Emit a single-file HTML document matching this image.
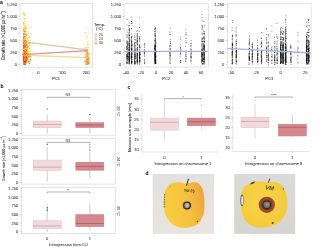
<!DOCTYPE html>
<html><head><meta charset="utf-8"><style>
html,body{margin:0;padding:0;background:#fff;width:312px;height:247px;overflow:hidden}
svg{display:block;font-family:"Liberation Sans",sans-serif;will-change:transform}
</style></head><body><svg width="312" height="247" viewBox="0 0 312 247" font-family="Liberation Sans, sans-serif"><text x="0" y="1.8" font-size="5" font-weight="bold" fill="#000" dominant-baseline="central">a</text>
<rect x="20.00" y="3.40" width="72.30" height="63.80" fill="none" stroke="#d2d2d2" stroke-width="0.6" />
<line x1="18.60" y1="64.80" x2="20.00" y2="64.80" stroke="#999" stroke-width="0.45" />
<text x="17.00" y="64.80" font-size="4.1" text-anchor="end" dominant-baseline="central" fill="#333" stroke="#333" stroke-width="0.03" >0</text>
<line x1="18.60" y1="52.70" x2="20.00" y2="52.70" stroke="#999" stroke-width="0.45" />
<text x="17.00" y="52.70" font-size="4.1" text-anchor="end" dominant-baseline="central" fill="#333" stroke="#333" stroke-width="0.03" >250</text>
<line x1="18.60" y1="40.60" x2="20.00" y2="40.60" stroke="#999" stroke-width="0.45" />
<text x="17.00" y="40.60" font-size="4.1" text-anchor="end" dominant-baseline="central" fill="#333" stroke="#333" stroke-width="0.03" >500</text>
<line x1="18.60" y1="28.50" x2="20.00" y2="28.50" stroke="#999" stroke-width="0.45" />
<text x="17.00" y="28.50" font-size="4.1" text-anchor="end" dominant-baseline="central" fill="#333" stroke="#333" stroke-width="0.03" >750</text>
<line x1="18.60" y1="16.40" x2="20.00" y2="16.40" stroke="#999" stroke-width="0.45" />
<text x="17.00" y="16.40" font-size="4.1" text-anchor="end" dominant-baseline="central" fill="#333" stroke="#333" stroke-width="0.03" >1,000</text>
<line x1="18.60" y1="4.30" x2="20.00" y2="4.30" stroke="#999" stroke-width="0.45" />
<text x="17.00" y="4.30" font-size="4.1" text-anchor="end" dominant-baseline="central" fill="#333" stroke="#333" stroke-width="0.03" >1,250</text>
<line x1="38.50" y1="67.20" x2="38.50" y2="68.50" stroke="#999" stroke-width="0.45" />
<text x="38.50" y="72.70" font-size="4.1" text-anchor="middle" dominant-baseline="central" fill="#333" stroke="#333" stroke-width="0.03" >0</text>
<line x1="62.30" y1="67.20" x2="62.30" y2="68.50" stroke="#999" stroke-width="0.45" />
<text x="62.30" y="72.70" font-size="4.1" text-anchor="middle" dominant-baseline="central" fill="#333" stroke="#333" stroke-width="0.03" >100</text>
<line x1="86.10" y1="67.20" x2="86.10" y2="68.50" stroke="#999" stroke-width="0.45" />
<text x="86.10" y="72.70" font-size="4.1" text-anchor="middle" dominant-baseline="central" fill="#333" stroke="#333" stroke-width="0.03" >200</text>
<text x="56.15" y="78.60" font-size="4.1" text-anchor="middle" dominant-baseline="central" fill="#222" stroke="#222" stroke-width="0.03" >PC1</text>
<text transform="translate(3.1,35.6) rotate(-90)" textLength="49" lengthAdjust="spacingAndGlyphs" font-size="4.5" text-anchor="middle" dominant-baseline="central" fill="#222" stroke="#222" stroke-width="0.06">Growth rate (×1,000 μs hr<tspan baseline-shift="super" font-size="2.6">−1</tspan>)</text>
<path d="M24.4 55.1h0.9v0.9h-0.9zM30.0 56.3h0.9v0.9h-0.9zM30.0 47.4h0.9v0.9h-0.9zM25.4 46.3h0.9v0.9h-0.9zM23.0 43.0h0.9v0.9h-0.9zM28.3 51.2h0.9v0.9h-0.9zM23.6 59.3h0.9v0.9h-0.9zM26.6 38.5h0.9v0.9h-0.9zM22.9 43.5h0.9v0.9h-0.9zM24.1 44.3h0.9v0.9h-0.9zM23.3 37.5h0.9v0.9h-0.9zM25.3 21.4h0.9v0.9h-0.9zM27.9 52.4h0.9v0.9h-0.9zM26.8 49.0h0.9v0.9h-0.9zM23.2 48.7h0.9v0.9h-0.9zM25.3 43.5h0.9v0.9h-0.9zM30.5 56.3h0.9v0.9h-0.9zM24.5 43.8h0.9v0.9h-0.9zM23.7 60.3h0.9v0.9h-0.9zM26.1 46.5h0.9v0.9h-0.9zM24.3 50.2h0.9v0.9h-0.9zM26.2 56.6h0.9v0.9h-0.9zM26.2 27.3h0.9v0.9h-0.9zM28.7 43.8h0.9v0.9h-0.9zM25.2 61.0h0.9v0.9h-0.9zM24.8 53.4h0.9v0.9h-0.9zM23.3 46.7h0.9v0.9h-0.9zM24.2 46.5h0.9v0.9h-0.9zM25.2 41.4h0.9v0.9h-0.9zM29.2 42.9h0.9v0.9h-0.9zM23.3 57.3h0.9v0.9h-0.9zM30.4 50.1h0.9v0.9h-0.9zM27.9 43.1h0.9v0.9h-0.9zM24.9 64.1h0.9v0.9h-0.9zM23.5 49.9h0.9v0.9h-0.9zM22.8 52.4h0.9v0.9h-0.9zM23.1 53.1h0.9v0.9h-0.9zM23.2 38.2h0.9v0.9h-0.9zM29.3 27.2h0.9v0.9h-0.9zM23.6 41.1h0.9v0.9h-0.9zM23.6 41.1h0.9v0.9h-0.9zM23.8 43.8h0.9v0.9h-0.9zM26.5 23.8h0.9v0.9h-0.9zM23.0 37.2h0.9v0.9h-0.9zM24.1 52.5h0.9v0.9h-0.9zM29.2 41.4h0.9v0.9h-0.9zM23.5 54.6h0.9v0.9h-0.9zM27.4 49.2h0.9v0.9h-0.9zM23.3 14.5h0.9v0.9h-0.9zM23.4 41.5h0.9v0.9h-0.9zM28.2 57.0h0.9v0.9h-0.9zM24.5 53.6h0.9v0.9h-0.9zM23.2 44.6h0.9v0.9h-0.9zM24.0 62.2h0.9v0.9h-0.9zM25.8 53.5h0.9v0.9h-0.9zM23.8 42.4h0.9v0.9h-0.9zM28.2 52.7h0.9v0.9h-0.9zM30.4 52.9h0.9v0.9h-0.9zM23.2 45.8h0.9v0.9h-0.9zM24.0 42.4h0.9v0.9h-0.9zM23.4 38.0h0.9v0.9h-0.9zM25.2 46.5h0.9v0.9h-0.9zM26.6 57.7h0.9v0.9h-0.9zM25.1 30.6h0.9v0.9h-0.9zM23.4 52.8h0.9v0.9h-0.9zM23.6 35.9h0.9v0.9h-0.9zM25.2 42.4h0.9v0.9h-0.9zM24.5 61.0h0.9v0.9h-0.9zM25.4 58.2h0.9v0.9h-0.9zM28.2 53.7h0.9v0.9h-0.9zM26.6 43.3h0.9v0.9h-0.9zM22.8 58.9h0.9v0.9h-0.9zM24.1 55.2h0.9v0.9h-0.9zM24.3 54.8h0.9v0.9h-0.9zM30.5 54.5h0.9v0.9h-0.9zM23.0 43.8h0.9v0.9h-0.9zM23.1 59.8h0.9v0.9h-0.9zM27.8 62.4h0.9v0.9h-0.9zM23.7 45.4h0.9v0.9h-0.9zM23.0 37.9h0.9v0.9h-0.9zM30.5 50.7h0.9v0.9h-0.9zM24.9 45.8h0.9v0.9h-0.9zM25.9 37.8h0.9v0.9h-0.9zM25.3 44.6h0.9v0.9h-0.9zM26.3 40.2h0.9v0.9h-0.9zM25.8 49.5h0.9v0.9h-0.9zM25.4 62.4h0.9v0.9h-0.9zM24.9 61.2h0.9v0.9h-0.9zM23.6 33.1h0.9v0.9h-0.9zM24.1 47.6h0.9v0.9h-0.9zM25.7 49.0h0.9v0.9h-0.9zM24.4 50.5h0.9v0.9h-0.9zM25.2 29.1h0.9v0.9h-0.9zM24.7 28.3h0.9v0.9h-0.9zM23.4 48.7h0.9v0.9h-0.9zM30.5 54.9h0.9v0.9h-0.9zM25.0 57.0h0.9v0.9h-0.9zM23.6 55.9h0.9v0.9h-0.9zM24.8 54.7h0.9v0.9h-0.9zM23.9 46.3h0.9v0.9h-0.9zM24.9 50.7h0.9v0.9h-0.9zM25.9 42.0h0.9v0.9h-0.9zM24.9 47.7h0.9v0.9h-0.9zM25.2 45.5h0.9v0.9h-0.9zM23.5 28.8h0.9v0.9h-0.9zM24.1 55.2h0.9v0.9h-0.9zM23.3 59.8h0.9v0.9h-0.9zM24.0 27.0h0.9v0.9h-0.9zM23.7 39.4h0.9v0.9h-0.9zM23.6 12.3h0.9v0.9h-0.9zM28.8 40.3h0.9v0.9h-0.9zM24.2 14.3h0.9v0.9h-0.9zM23.4 48.6h0.9v0.9h-0.9zM25.8 51.4h0.9v0.9h-0.9zM24.7 43.6h0.9v0.9h-0.9zM25.7 58.2h0.9v0.9h-0.9zM26.6 58.0h0.9v0.9h-0.9zM22.7 54.5h0.9v0.9h-0.9zM27.7 54.7h0.9v0.9h-0.9zM22.9 50.6h0.9v0.9h-0.9zM22.9 48.0h0.9v0.9h-0.9zM23.2 41.1h0.9v0.9h-0.9zM25.4 40.7h0.9v0.9h-0.9zM24.6 55.5h0.9v0.9h-0.9zM25.5 59.4h0.9v0.9h-0.9zM24.9 54.2h0.9v0.9h-0.9zM23.7 53.3h0.9v0.9h-0.9zM24.7 45.1h0.9v0.9h-0.9zM29.2 52.2h0.9v0.9h-0.9zM24.5 53.8h0.9v0.9h-0.9zM30.3 34.3h0.9v0.9h-0.9zM23.2 48.0h0.9v0.9h-0.9zM26.7 56.0h0.9v0.9h-0.9zM23.7 54.9h0.9v0.9h-0.9zM27.0 55.1h0.9v0.9h-0.9zM24.1 30.6h0.9v0.9h-0.9zM23.9 47.9h0.9v0.9h-0.9zM26.5 57.1h0.9v0.9h-0.9zM29.1 59.6h0.9v0.9h-0.9zM25.8 56.6h0.9v0.9h-0.9zM26.4 60.5h0.9v0.9h-0.9zM26.1 50.1h0.9v0.9h-0.9zM29.3 51.0h0.9v0.9h-0.9zM24.5 61.2h0.9v0.9h-0.9zM23.0 40.5h0.9v0.9h-0.9zM24.5 25.1h0.9v0.9h-0.9zM23.0 53.9h0.9v0.9h-0.9zM25.2 58.8h0.9v0.9h-0.9zM24.7 62.1h0.9v0.9h-0.9zM24.7 39.1h0.9v0.9h-0.9zM23.1 47.9h0.9v0.9h-0.9zM23.8 61.7h0.9v0.9h-0.9zM28.8 25.4h0.9v0.9h-0.9zM25.4 13.7h0.9v0.9h-0.9zM28.0 58.7h0.9v0.9h-0.9zM24.3 56.6h0.9v0.9h-0.9zM23.5 53.5h0.9v0.9h-0.9zM30.3 45.9h0.9v0.9h-0.9zM23.9 22.3h0.9v0.9h-0.9zM23.9 12.5h0.9v0.9h-0.9zM29.2 49.3h0.9v0.9h-0.9zM22.8 45.4h0.9v0.9h-0.9zM24.8 44.8h0.9v0.9h-0.9zM25.3 63.6h0.9v0.9h-0.9zM26.8 47.7h0.9v0.9h-0.9zM27.2 52.4h0.9v0.9h-0.9zM28.3 20.6h0.9v0.9h-0.9zM24.1 40.0h0.9v0.9h-0.9zM26.5 54.3h0.9v0.9h-0.9zM24.6 51.1h0.9v0.9h-0.9zM23.5 27.5h0.9v0.9h-0.9zM23.8 59.6h0.9v0.9h-0.9zM23.3 48.3h0.9v0.9h-0.9zM24.5 56.5h0.9v0.9h-0.9zM23.9 51.6h0.9v0.9h-0.9zM24.7 51.8h0.9v0.9h-0.9zM24.1 36.2h0.9v0.9h-0.9zM22.7 51.8h0.9v0.9h-0.9zM27.8 55.9h0.9v0.9h-0.9zM25.8 47.5h0.9v0.9h-0.9zM23.1 33.8h0.9v0.9h-0.9zM23.5 47.5h0.9v0.9h-0.9zM24.7 58.6h0.9v0.9h-0.9zM23.8 58.2h0.9v0.9h-0.9zM25.9 51.7h0.9v0.9h-0.9zM24.4 43.1h0.9v0.9h-0.9zM25.2 23.0h0.9v0.9h-0.9zM26.1 60.7h0.9v0.9h-0.9zM24.1 51.0h0.9v0.9h-0.9zM27.3 54.0h0.9v0.9h-0.9zM28.1 37.3h0.9v0.9h-0.9zM23.4 55.9h0.9v0.9h-0.9zM23.0 31.2h0.9v0.9h-0.9zM23.5 35.5h0.9v0.9h-0.9zM24.1 30.6h0.9v0.9h-0.9zM23.0 31.0h0.9v0.9h-0.9zM25.0 48.9h0.9v0.9h-0.9zM23.6 45.0h0.9v0.9h-0.9zM25.7 34.8h0.9v0.9h-0.9zM25.1 45.1h0.9v0.9h-0.9zM23.3 49.1h0.9v0.9h-0.9zM24.6 44.2h0.9v0.9h-0.9zM25.1 62.7h0.9v0.9h-0.9zM23.3 61.0h0.9v0.9h-0.9zM26.9 44.2h0.9v0.9h-0.9zM25.2 51.3h0.9v0.9h-0.9zM23.4 56.6h0.9v0.9h-0.9zM23.4 62.1h0.9v0.9h-0.9zM24.2 49.6h0.9v0.9h-0.9zM29.2 53.7h0.9v0.9h-0.9zM24.7 38.2h0.9v0.9h-0.9zM24.8 38.6h0.9v0.9h-0.9zM27.0 52.2h0.9v0.9h-0.9zM30.5 21.0h0.9v0.9h-0.9zM23.1 47.8h0.9v0.9h-0.9zM23.5 53.0h0.9v0.9h-0.9zM26.7 45.5h0.9v0.9h-0.9zM24.9 58.6h0.9v0.9h-0.9zM26.6 37.4h0.9v0.9h-0.9zM25.9 52.8h0.9v0.9h-0.9zM24.8 49.1h0.9v0.9h-0.9zM24.0 58.6h0.9v0.9h-0.9zM24.0 54.6h0.9v0.9h-0.9zM25.2 47.1h0.9v0.9h-0.9zM23.5 46.6h0.9v0.9h-0.9zM24.4 47.8h0.9v0.9h-0.9zM24.7 38.7h0.9v0.9h-0.9zM24.0 50.3h0.9v0.9h-0.9z" fill="#ffe000" fill-opacity="0.85"/>
<path d="M23.9 42.9h0.9v0.9h-0.9zM26.6 38.6h0.9v0.9h-0.9zM28.9 61.0h0.9v0.9h-0.9zM23.4 56.0h0.9v0.9h-0.9zM27.1 52.6h0.9v0.9h-0.9zM23.1 45.8h0.9v0.9h-0.9zM26.0 49.8h0.9v0.9h-0.9zM25.6 58.0h0.9v0.9h-0.9zM24.3 55.4h0.9v0.9h-0.9zM29.2 42.0h0.9v0.9h-0.9zM22.8 43.2h0.9v0.9h-0.9zM25.0 40.2h0.9v0.9h-0.9zM24.8 45.9h0.9v0.9h-0.9zM23.9 28.8h0.9v0.9h-0.9zM25.9 55.8h0.9v0.9h-0.9zM23.2 50.7h0.9v0.9h-0.9zM26.0 40.2h0.9v0.9h-0.9zM24.0 38.1h0.9v0.9h-0.9zM24.2 14.6h0.9v0.9h-0.9zM25.9 60.7h0.9v0.9h-0.9zM24.5 48.3h0.9v0.9h-0.9zM23.6 57.9h0.9v0.9h-0.9zM23.7 44.0h0.9v0.9h-0.9zM24.8 28.2h0.9v0.9h-0.9zM27.1 59.4h0.9v0.9h-0.9zM23.0 47.2h0.9v0.9h-0.9zM23.3 23.4h0.9v0.9h-0.9zM25.3 58.2h0.9v0.9h-0.9zM23.8 39.5h0.9v0.9h-0.9zM25.9 51.8h0.9v0.9h-0.9zM24.5 46.8h0.9v0.9h-0.9zM24.6 50.7h0.9v0.9h-0.9zM26.2 56.0h0.9v0.9h-0.9zM23.4 51.7h0.9v0.9h-0.9zM23.3 34.2h0.9v0.9h-0.9zM24.2 60.8h0.9v0.9h-0.9zM23.2 35.5h0.9v0.9h-0.9zM23.8 59.1h0.9v0.9h-0.9zM23.3 51.7h0.9v0.9h-0.9zM23.3 55.7h0.9v0.9h-0.9zM24.2 52.9h0.9v0.9h-0.9zM23.6 30.9h0.9v0.9h-0.9zM23.9 63.3h0.9v0.9h-0.9zM23.6 37.4h0.9v0.9h-0.9zM23.2 52.2h0.9v0.9h-0.9zM24.5 33.4h0.9v0.9h-0.9zM23.2 33.5h0.9v0.9h-0.9zM25.6 56.7h0.9v0.9h-0.9zM25.5 61.7h0.9v0.9h-0.9zM23.0 57.1h0.9v0.9h-0.9zM25.1 60.6h0.9v0.9h-0.9zM24.2 58.1h0.9v0.9h-0.9zM24.9 52.9h0.9v0.9h-0.9zM25.3 40.3h0.9v0.9h-0.9zM27.0 49.3h0.9v0.9h-0.9zM23.5 45.6h0.9v0.9h-0.9zM23.2 39.8h0.9v0.9h-0.9zM27.5 33.6h0.9v0.9h-0.9zM26.2 55.3h0.9v0.9h-0.9zM24.3 43.6h0.9v0.9h-0.9zM26.1 54.3h0.9v0.9h-0.9zM24.7 40.1h0.9v0.9h-0.9zM24.1 61.2h0.9v0.9h-0.9zM25.1 59.6h0.9v0.9h-0.9zM22.8 45.7h0.9v0.9h-0.9zM24.7 55.6h0.9v0.9h-0.9zM23.5 24.6h0.9v0.9h-0.9zM24.1 63.3h0.9v0.9h-0.9zM24.9 38.8h0.9v0.9h-0.9zM24.5 53.8h0.9v0.9h-0.9zM24.6 58.1h0.9v0.9h-0.9zM24.6 50.8h0.9v0.9h-0.9zM23.9 45.3h0.9v0.9h-0.9zM26.5 61.3h0.9v0.9h-0.9zM26.7 43.5h0.9v0.9h-0.9zM23.9 50.7h0.9v0.9h-0.9zM23.4 46.0h0.9v0.9h-0.9zM25.2 42.4h0.9v0.9h-0.9zM23.8 42.0h0.9v0.9h-0.9zM26.6 53.8h0.9v0.9h-0.9zM23.6 48.9h0.9v0.9h-0.9zM23.1 56.4h0.9v0.9h-0.9zM23.8 40.6h0.9v0.9h-0.9zM23.9 34.9h0.9v0.9h-0.9zM27.1 52.0h0.9v0.9h-0.9zM27.9 39.9h0.9v0.9h-0.9zM23.7 45.8h0.9v0.9h-0.9zM23.6 39.3h0.9v0.9h-0.9zM24.2 53.9h0.9v0.9h-0.9zM23.3 38.8h0.9v0.9h-0.9zM25.8 60.6h0.9v0.9h-0.9zM24.6 50.7h0.9v0.9h-0.9zM23.4 57.3h0.9v0.9h-0.9zM25.6 59.3h0.9v0.9h-0.9zM23.7 55.5h0.9v0.9h-0.9zM25.8 59.2h0.9v0.9h-0.9zM24.6 13.7h0.9v0.9h-0.9zM25.0 44.9h0.9v0.9h-0.9zM29.2 62.7h0.9v0.9h-0.9zM25.1 49.2h0.9v0.9h-0.9zM27.2 48.9h0.9v0.9h-0.9zM23.4 45.8h0.9v0.9h-0.9zM23.9 47.0h0.9v0.9h-0.9zM29.1 42.7h0.9v0.9h-0.9zM25.4 47.8h0.9v0.9h-0.9zM23.7 48.2h0.9v0.9h-0.9zM27.2 47.6h0.9v0.9h-0.9zM23.8 30.7h0.9v0.9h-0.9zM25.6 52.4h0.9v0.9h-0.9zM23.8 33.5h0.9v0.9h-0.9zM25.0 54.6h0.9v0.9h-0.9zM23.9 25.6h0.9v0.9h-0.9zM24.7 57.3h0.9v0.9h-0.9zM23.4 23.3h0.9v0.9h-0.9zM23.6 50.3h0.9v0.9h-0.9zM24.3 56.0h0.9v0.9h-0.9zM24.1 52.0h0.9v0.9h-0.9zM24.1 31.0h0.9v0.9h-0.9zM22.9 30.1h0.9v0.9h-0.9zM30.0 59.0h0.9v0.9h-0.9zM24.9 54.3h0.9v0.9h-0.9zM23.5 27.6h0.9v0.9h-0.9zM24.4 46.7h0.9v0.9h-0.9zM22.9 22.3h0.9v0.9h-0.9zM24.2 48.9h0.9v0.9h-0.9zM23.3 52.7h0.9v0.9h-0.9zM24.7 53.3h0.9v0.9h-0.9zM24.6 58.9h0.9v0.9h-0.9zM25.7 49.7h0.9v0.9h-0.9zM29.9 52.5h0.9v0.9h-0.9zM23.8 44.9h0.9v0.9h-0.9zM24.6 57.4h0.9v0.9h-0.9zM24.5 50.2h0.9v0.9h-0.9zM24.4 50.2h0.9v0.9h-0.9zM23.1 60.4h0.9v0.9h-0.9zM23.1 29.8h0.9v0.9h-0.9zM23.7 46.2h0.9v0.9h-0.9zM24.0 46.6h0.9v0.9h-0.9zM24.9 27.1h0.9v0.9h-0.9zM24.5 37.7h0.9v0.9h-0.9zM23.7 50.7h0.9v0.9h-0.9zM23.0 51.7h0.9v0.9h-0.9zM23.6 33.2h0.9v0.9h-0.9zM23.8 47.4h0.9v0.9h-0.9zM24.1 31.4h0.9v0.9h-0.9zM23.2 34.7h0.9v0.9h-0.9zM28.0 62.3h0.9v0.9h-0.9zM23.4 56.7h0.9v0.9h-0.9zM24.1 41.7h0.9v0.9h-0.9zM23.3 50.9h0.9v0.9h-0.9zM26.0 27.9h0.9v0.9h-0.9zM25.5 55.4h0.9v0.9h-0.9zM24.3 18.0h0.9v0.9h-0.9zM26.1 48.8h0.9v0.9h-0.9zM23.0 12.5h0.9v0.9h-0.9zM24.1 55.8h0.9v0.9h-0.9zM24.0 51.8h0.9v0.9h-0.9zM23.4 40.1h0.9v0.9h-0.9zM25.2 56.6h0.9v0.9h-0.9zM24.2 38.1h0.9v0.9h-0.9zM27.6 37.2h0.9v0.9h-0.9zM23.1 29.1h0.9v0.9h-0.9zM22.9 17.7h0.9v0.9h-0.9zM23.8 62.5h0.9v0.9h-0.9zM28.4 56.3h0.9v0.9h-0.9zM24.4 56.7h0.9v0.9h-0.9zM24.5 18.5h0.9v0.9h-0.9zM23.3 42.8h0.9v0.9h-0.9zM23.6 55.9h0.9v0.9h-0.9zM23.8 44.9h0.9v0.9h-0.9zM25.1 56.8h0.9v0.9h-0.9zM23.7 49.9h0.9v0.9h-0.9zM24.2 57.8h0.9v0.9h-0.9zM24.1 53.7h0.9v0.9h-0.9zM23.4 45.1h0.9v0.9h-0.9zM23.0 56.9h0.9v0.9h-0.9zM30.5 32.9h0.9v0.9h-0.9zM23.4 55.1h0.9v0.9h-0.9zM25.8 41.0h0.9v0.9h-0.9zM23.1 53.1h0.9v0.9h-0.9zM23.1 30.2h0.9v0.9h-0.9zM24.8 49.3h0.9v0.9h-0.9zM25.0 48.9h0.9v0.9h-0.9zM23.9 44.5h0.9v0.9h-0.9zM23.3 49.5h0.9v0.9h-0.9zM23.5 47.0h0.9v0.9h-0.9zM23.0 41.8h0.9v0.9h-0.9zM24.8 45.0h0.9v0.9h-0.9zM22.9 52.0h0.9v0.9h-0.9zM23.5 50.5h0.9v0.9h-0.9zM23.9 44.7h0.9v0.9h-0.9zM28.8 48.0h0.9v0.9h-0.9zM25.4 32.6h0.9v0.9h-0.9zM23.9 58.4h0.9v0.9h-0.9zM23.3 51.9h0.9v0.9h-0.9zM23.3 44.1h0.9v0.9h-0.9zM23.3 56.9h0.9v0.9h-0.9zM26.1 55.4h0.9v0.9h-0.9zM25.1 59.6h0.9v0.9h-0.9zM24.0 60.8h0.9v0.9h-0.9zM23.9 31.0h0.9v0.9h-0.9zM25.7 51.3h0.9v0.9h-0.9zM24.1 61.5h0.9v0.9h-0.9zM24.2 42.2h0.9v0.9h-0.9zM23.3 24.5h0.9v0.9h-0.9zM23.2 54.7h0.9v0.9h-0.9zM23.8 64.0h0.9v0.9h-0.9zM23.8 58.4h0.9v0.9h-0.9zM23.6 27.4h0.9v0.9h-0.9zM23.8 49.6h0.9v0.9h-0.9zM24.9 60.4h0.9v0.9h-0.9zM23.5 55.4h0.9v0.9h-0.9zM25.9 59.3h0.9v0.9h-0.9zM22.9 51.0h0.9v0.9h-0.9zM28.6 57.1h0.9v0.9h-0.9zM23.2 62.5h0.9v0.9h-0.9zM25.6 57.3h0.9v0.9h-0.9zM24.2 52.1h0.9v0.9h-0.9zM23.0 58.6h0.9v0.9h-0.9zM23.7 52.8h0.9v0.9h-0.9zM23.8 50.6h0.9v0.9h-0.9zM24.0 52.1h0.9v0.9h-0.9zM24.4 48.9h0.9v0.9h-0.9zM27.7 53.3h0.9v0.9h-0.9zM23.8 58.3h0.9v0.9h-0.9zM27.8 52.8h0.9v0.9h-0.9zM27.3 49.5h0.9v0.9h-0.9zM27.7 46.0h0.9v0.9h-0.9zM23.0 48.0h0.9v0.9h-0.9zM24.8 50.8h0.9v0.9h-0.9zM23.8 52.1h0.9v0.9h-0.9z" fill="#ff9a00" fill-opacity="0.85"/>
<path d="M24.2 48.9h0.9v0.9h-0.9zM26.3 44.2h0.9v0.9h-0.9zM23.0 58.0h0.9v0.9h-0.9zM23.6 59.8h0.9v0.9h-0.9zM25.0 58.3h0.9v0.9h-0.9zM24.8 59.5h0.9v0.9h-0.9zM26.0 56.8h0.9v0.9h-0.9zM22.8 56.0h0.9v0.9h-0.9zM22.9 45.0h0.9v0.9h-0.9zM24.0 44.3h0.9v0.9h-0.9zM23.5 40.7h0.9v0.9h-0.9zM26.3 50.8h0.9v0.9h-0.9zM23.7 60.7h0.9v0.9h-0.9zM24.0 62.5h0.9v0.9h-0.9zM23.3 54.3h0.9v0.9h-0.9zM24.2 49.1h0.9v0.9h-0.9zM23.4 57.8h0.9v0.9h-0.9zM23.8 48.1h0.9v0.9h-0.9zM25.2 51.8h0.9v0.9h-0.9zM24.1 51.5h0.9v0.9h-0.9zM23.0 54.1h0.9v0.9h-0.9zM24.7 34.0h0.9v0.9h-0.9zM24.8 56.3h0.9v0.9h-0.9zM25.6 61.0h0.9v0.9h-0.9zM23.3 61.7h0.9v0.9h-0.9zM24.1 36.5h0.9v0.9h-0.9zM24.3 43.3h0.9v0.9h-0.9zM23.0 60.6h0.9v0.9h-0.9zM23.7 49.9h0.9v0.9h-0.9zM23.7 60.3h0.9v0.9h-0.9zM24.2 49.7h0.9v0.9h-0.9zM23.0 57.4h0.9v0.9h-0.9zM24.8 39.6h0.9v0.9h-0.9zM23.7 53.4h0.9v0.9h-0.9zM23.1 42.5h0.9v0.9h-0.9zM23.9 45.8h0.9v0.9h-0.9zM23.2 58.8h0.9v0.9h-0.9zM23.3 47.5h0.9v0.9h-0.9zM23.6 54.9h0.9v0.9h-0.9zM24.7 53.6h0.9v0.9h-0.9zM23.9 53.1h0.9v0.9h-0.9zM23.5 53.1h0.9v0.9h-0.9zM23.8 41.4h0.9v0.9h-0.9zM23.1 40.7h0.9v0.9h-0.9zM25.2 45.4h0.9v0.9h-0.9zM24.4 62.9h0.9v0.9h-0.9zM23.3 57.8h0.9v0.9h-0.9zM24.7 54.4h0.9v0.9h-0.9zM23.2 46.8h0.9v0.9h-0.9zM22.8 57.7h0.9v0.9h-0.9zM24.2 58.4h0.9v0.9h-0.9zM23.6 45.3h0.9v0.9h-0.9zM23.6 52.6h0.9v0.9h-0.9zM24.8 46.5h0.9v0.9h-0.9zM23.2 47.7h0.9v0.9h-0.9zM23.7 45.7h0.9v0.9h-0.9zM23.5 57.8h0.9v0.9h-0.9zM24.5 60.5h0.9v0.9h-0.9zM24.1 61.9h0.9v0.9h-0.9zM25.0 56.8h0.9v0.9h-0.9zM23.0 47.5h0.9v0.9h-0.9zM23.6 62.0h0.9v0.9h-0.9zM23.7 57.3h0.9v0.9h-0.9zM24.9 50.7h0.9v0.9h-0.9zM25.5 59.2h0.9v0.9h-0.9zM23.0 62.3h0.9v0.9h-0.9zM23.4 56.4h0.9v0.9h-0.9zM23.7 58.1h0.9v0.9h-0.9zM22.8 58.2h0.9v0.9h-0.9zM28.5 56.0h0.9v0.9h-0.9zM23.7 60.7h0.9v0.9h-0.9zM24.1 61.6h0.9v0.9h-0.9zM23.2 45.2h0.9v0.9h-0.9zM24.2 59.3h0.9v0.9h-0.9zM24.6 59.0h0.9v0.9h-0.9zM23.8 52.8h0.9v0.9h-0.9zM23.7 62.7h0.9v0.9h-0.9zM24.6 56.9h0.9v0.9h-0.9zM23.8 61.4h0.9v0.9h-0.9zM23.5 58.8h0.9v0.9h-0.9zM24.6 56.7h0.9v0.9h-0.9zM23.8 53.5h0.9v0.9h-0.9zM25.2 59.3h0.9v0.9h-0.9zM26.2 59.0h0.9v0.9h-0.9zM23.4 64.1h0.9v0.9h-0.9zM24.0 46.7h0.9v0.9h-0.9zM24.1 56.8h0.9v0.9h-0.9zM23.4 48.9h0.9v0.9h-0.9zM22.9 47.5h0.9v0.9h-0.9zM24.6 47.4h0.9v0.9h-0.9zM23.1 49.6h0.9v0.9h-0.9zM24.2 59.1h0.9v0.9h-0.9zM24.0 53.4h0.9v0.9h-0.9zM25.5 55.0h0.9v0.9h-0.9zM23.8 61.5h0.9v0.9h-0.9zM23.3 60.1h0.9v0.9h-0.9zM22.8 49.1h0.9v0.9h-0.9zM26.0 57.6h0.9v0.9h-0.9zM23.1 52.2h0.9v0.9h-0.9zM24.4 49.0h0.9v0.9h-0.9zM24.3 46.3h0.9v0.9h-0.9zM23.9 47.8h0.9v0.9h-0.9zM23.2 53.4h0.9v0.9h-0.9zM23.9 63.1h0.9v0.9h-0.9zM23.5 44.9h0.9v0.9h-0.9zM24.6 50.3h0.9v0.9h-0.9zM23.7 54.9h0.9v0.9h-0.9zM24.2 60.3h0.9v0.9h-0.9zM23.2 52.6h0.9v0.9h-0.9zM24.5 43.9h0.9v0.9h-0.9zM24.1 55.4h0.9v0.9h-0.9zM23.0 57.3h0.9v0.9h-0.9zM25.3 60.2h0.9v0.9h-0.9zM23.8 60.9h0.9v0.9h-0.9zM24.1 55.2h0.9v0.9h-0.9zM23.0 48.1h0.9v0.9h-0.9zM23.1 53.3h0.9v0.9h-0.9zM27.6 55.6h0.9v0.9h-0.9zM25.8 34.8h0.9v0.9h-0.9zM23.4 57.7h0.9v0.9h-0.9zM23.4 62.9h0.9v0.9h-0.9zM23.4 59.4h0.9v0.9h-0.9zM23.5 48.8h0.9v0.9h-0.9zM25.7 61.6h0.9v0.9h-0.9zM28.3 61.1h0.9v0.9h-0.9zM23.1 41.4h0.9v0.9h-0.9zM24.1 58.1h0.9v0.9h-0.9zM24.2 59.4h0.9v0.9h-0.9zM23.4 49.9h0.9v0.9h-0.9zM24.5 56.2h0.9v0.9h-0.9zM24.6 30.8h0.9v0.9h-0.9zM22.8 49.2h0.9v0.9h-0.9zM23.2 55.9h0.9v0.9h-0.9zM23.7 61.8h0.9v0.9h-0.9zM26.7 57.2h0.9v0.9h-0.9zM23.3 36.3h0.9v0.9h-0.9zM23.6 62.0h0.9v0.9h-0.9zM23.8 47.6h0.9v0.9h-0.9zM23.7 64.0h0.9v0.9h-0.9zM26.1 55.7h0.9v0.9h-0.9zM25.3 49.1h0.9v0.9h-0.9zM30.3 59.6h0.9v0.9h-0.9zM24.0 52.9h0.9v0.9h-0.9zM23.6 55.7h0.9v0.9h-0.9zM24.3 56.7h0.9v0.9h-0.9zM23.4 50.1h0.9v0.9h-0.9zM23.0 59.0h0.9v0.9h-0.9zM23.0 56.0h0.9v0.9h-0.9zM24.4 61.9h0.9v0.9h-0.9zM24.0 52.7h0.9v0.9h-0.9zM23.6 57.2h0.9v0.9h-0.9zM23.9 54.8h0.9v0.9h-0.9zM26.5 57.8h0.9v0.9h-0.9zM23.5 53.6h0.9v0.9h-0.9zM24.3 44.6h0.9v0.9h-0.9zM24.4 59.0h0.9v0.9h-0.9zM23.4 55.4h0.9v0.9h-0.9zM24.0 57.3h0.9v0.9h-0.9zM24.3 57.2h0.9v0.9h-0.9zM25.1 59.2h0.9v0.9h-0.9zM24.0 56.2h0.9v0.9h-0.9zM23.3 49.4h0.9v0.9h-0.9zM25.7 58.1h0.9v0.9h-0.9zM24.0 52.9h0.9v0.9h-0.9zM26.3 53.3h0.9v0.9h-0.9zM23.4 58.0h0.9v0.9h-0.9zM24.9 62.5h0.9v0.9h-0.9zM23.5 57.9h0.9v0.9h-0.9zM23.3 58.5h0.9v0.9h-0.9zM25.5 42.0h0.9v0.9h-0.9zM24.2 59.4h0.9v0.9h-0.9zM23.5 54.6h0.9v0.9h-0.9zM25.3 53.4h0.9v0.9h-0.9zM23.3 47.0h0.9v0.9h-0.9zM23.2 62.2h0.9v0.9h-0.9zM24.3 40.9h0.9v0.9h-0.9zM23.7 59.9h0.9v0.9h-0.9zM24.0 63.3h0.9v0.9h-0.9zM24.1 48.8h0.9v0.9h-0.9zM27.4 59.1h0.9v0.9h-0.9zM27.2 47.2h0.9v0.9h-0.9zM25.3 52.9h0.9v0.9h-0.9zM23.2 43.1h0.9v0.9h-0.9zM24.9 57.1h0.9v0.9h-0.9zM23.3 55.4h0.9v0.9h-0.9zM23.1 60.9h0.9v0.9h-0.9zM23.9 45.1h0.9v0.9h-0.9zM23.1 60.5h0.9v0.9h-0.9zM24.2 31.0h0.9v0.9h-0.9zM22.9 58.7h0.9v0.9h-0.9zM25.1 64.1h0.9v0.9h-0.9zM24.1 57.6h0.9v0.9h-0.9zM23.1 59.3h0.9v0.9h-0.9zM23.4 50.1h0.9v0.9h-0.9zM23.2 61.9h0.9v0.9h-0.9zM23.3 37.4h0.9v0.9h-0.9zM25.6 61.7h0.9v0.9h-0.9zM25.9 45.3h0.9v0.9h-0.9zM24.8 54.1h0.9v0.9h-0.9zM24.6 54.3h0.9v0.9h-0.9zM23.0 55.3h0.9v0.9h-0.9zM24.0 62.9h0.9v0.9h-0.9zM24.0 53.2h0.9v0.9h-0.9zM23.1 38.5h0.9v0.9h-0.9zM23.6 52.1h0.9v0.9h-0.9zM25.2 61.4h0.9v0.9h-0.9zM23.8 56.6h0.9v0.9h-0.9zM24.7 62.8h0.9v0.9h-0.9zM24.4 53.8h0.9v0.9h-0.9zM24.9 63.3h0.9v0.9h-0.9zM30.2 55.9h0.9v0.9h-0.9zM23.8 59.6h0.9v0.9h-0.9zM23.6 48.0h0.9v0.9h-0.9zM24.6 56.2h0.9v0.9h-0.9zM27.2 45.9h0.9v0.9h-0.9zM26.9 37.9h0.9v0.9h-0.9zM23.7 61.3h0.9v0.9h-0.9zM24.4 56.9h0.9v0.9h-0.9zM24.1 44.6h0.9v0.9h-0.9zM23.5 62.0h0.9v0.9h-0.9zM24.0 55.7h0.9v0.9h-0.9zM23.2 59.4h0.9v0.9h-0.9zM25.2 59.3h0.9v0.9h-0.9zM24.9 50.1h0.9v0.9h-0.9zM24.6 59.1h0.9v0.9h-0.9zM23.9 61.6h0.9v0.9h-0.9zM23.2 50.6h0.9v0.9h-0.9zM23.9 59.3h0.9v0.9h-0.9zM24.4 61.8h0.9v0.9h-0.9zM25.9 45.4h0.9v0.9h-0.9zM24.4 55.5h0.9v0.9h-0.9zM24.6 46.9h0.9v0.9h-0.9zM23.9 58.3h0.9v0.9h-0.9zM23.5 57.6h0.9v0.9h-0.9zM23.5 50.4h0.9v0.9h-0.9zM24.3 47.3h0.9v0.9h-0.9zM23.2 48.8h0.9v0.9h-0.9zM23.9 58.6h0.9v0.9h-0.9zM24.0 55.5h0.9v0.9h-0.9zM24.7 51.3h0.9v0.9h-0.9zM25.9 61.6h0.9v0.9h-0.9zM23.3 49.3h0.9v0.9h-0.9zM22.8 61.6h0.9v0.9h-0.9zM24.0 45.6h0.9v0.9h-0.9zM23.1 42.6h0.9v0.9h-0.9zM23.4 59.5h0.9v0.9h-0.9zM24.1 59.0h0.9v0.9h-0.9zM24.2 60.1h0.9v0.9h-0.9zM25.9 49.9h0.9v0.9h-0.9zM23.1 57.2h0.9v0.9h-0.9zM25.1 44.8h0.9v0.9h-0.9zM24.8 51.0h0.9v0.9h-0.9zM23.5 50.0h0.9v0.9h-0.9zM29.2 62.9h0.9v0.9h-0.9zM23.2 56.3h0.9v0.9h-0.9zM22.9 57.6h0.9v0.9h-0.9zM24.2 56.3h0.9v0.9h-0.9zM24.3 59.0h0.9v0.9h-0.9zM23.5 58.3h0.9v0.9h-0.9zM23.7 54.3h0.9v0.9h-0.9zM24.3 61.1h0.9v0.9h-0.9zM24.6 56.9h0.9v0.9h-0.9zM24.1 41.2h0.9v0.9h-0.9zM23.3 55.1h0.9v0.9h-0.9zM22.9 48.3h0.9v0.9h-0.9zM24.8 60.8h0.9v0.9h-0.9zM23.8 51.5h0.9v0.9h-0.9zM24.5 51.1h0.9v0.9h-0.9zM24.9 52.6h0.9v0.9h-0.9zM24.1 50.6h0.9v0.9h-0.9zM23.3 62.0h0.9v0.9h-0.9zM24.8 36.0h0.9v0.9h-0.9zM23.3 54.7h0.9v0.9h-0.9zM24.8 33.9h0.9v0.9h-0.9zM24.1 55.1h0.9v0.9h-0.9zM23.7 45.7h0.9v0.9h-0.9zM23.3 60.4h0.9v0.9h-0.9zM24.5 62.7h0.9v0.9h-0.9zM23.2 60.8h0.9v0.9h-0.9zM26.6 60.2h0.9v0.9h-0.9zM24.3 52.5h0.9v0.9h-0.9zM23.7 45.0h0.9v0.9h-0.9zM23.7 57.8h0.9v0.9h-0.9zM23.0 59.3h0.9v0.9h-0.9zM24.3 54.9h0.9v0.9h-0.9zM23.3 47.4h0.9v0.9h-0.9zM26.1 52.9h0.9v0.9h-0.9zM23.4 63.0h0.9v0.9h-0.9zM24.8 55.7h0.9v0.9h-0.9zM24.3 54.6h0.9v0.9h-0.9zM24.3 60.5h0.9v0.9h-0.9zM23.7 63.5h0.9v0.9h-0.9zM23.2 48.0h0.9v0.9h-0.9zM24.8 53.4h0.9v0.9h-0.9zM23.8 50.8h0.9v0.9h-0.9zM23.3 46.1h0.9v0.9h-0.9zM22.9 54.2h0.9v0.9h-0.9zM24.5 62.7h0.9v0.9h-0.9zM25.3 58.3h0.9v0.9h-0.9zM23.5 32.8h0.9v0.9h-0.9zM24.3 59.6h0.9v0.9h-0.9zM23.2 61.8h0.9v0.9h-0.9zM24.1 52.1h0.9v0.9h-0.9zM23.3 44.0h0.9v0.9h-0.9zM23.6 60.5h0.9v0.9h-0.9zM24.5 43.5h0.9v0.9h-0.9zM23.1 53.3h0.9v0.9h-0.9zM23.3 53.7h0.9v0.9h-0.9zM24.3 53.6h0.9v0.9h-0.9zM24.1 41.3h0.9v0.9h-0.9zM22.8 48.4h0.9v0.9h-0.9zM23.7 50.0h0.9v0.9h-0.9zM27.7 54.7h0.9v0.9h-0.9zM25.0 42.4h0.9v0.9h-0.9zM23.7 33.5h0.9v0.9h-0.9zM25.2 40.5h0.9v0.9h-0.9zM24.4 58.3h0.9v0.9h-0.9zM25.0 57.6h0.9v0.9h-0.9zM23.2 53.2h0.9v0.9h-0.9zM24.4 48.8h0.9v0.9h-0.9zM23.8 51.6h0.9v0.9h-0.9zM25.7 59.5h0.9v0.9h-0.9zM23.1 50.8h0.9v0.9h-0.9zM24.4 53.5h0.9v0.9h-0.9zM22.9 56.8h0.9v0.9h-0.9zM23.5 53.5h0.9v0.9h-0.9z" fill="#f01e10" fill-opacity="0.85"/>
<path d="M24.2 21.1h0.9v0.9h-0.9zM26.7 59.5h0.9v0.9h-0.9zM25.6 47.8h0.9v0.9h-0.9zM24.1 37.4h0.9v0.9h-0.9zM23.0 47.7h0.9v0.9h-0.9zM24.0 59.6h0.9v0.9h-0.9zM24.5 48.1h0.9v0.9h-0.9zM24.6 63.0h0.9v0.9h-0.9zM24.5 46.4h0.9v0.9h-0.9zM26.4 54.5h0.9v0.9h-0.9zM29.1 54.7h0.9v0.9h-0.9zM24.1 33.7h0.9v0.9h-0.9zM24.0 47.8h0.9v0.9h-0.9zM25.1 49.9h0.9v0.9h-0.9zM23.0 62.4h0.9v0.9h-0.9zM25.6 48.2h0.9v0.9h-0.9zM28.9 38.2h0.9v0.9h-0.9zM24.6 58.1h0.9v0.9h-0.9zM24.9 49.9h0.9v0.9h-0.9zM23.8 43.4h0.9v0.9h-0.9zM25.1 52.7h0.9v0.9h-0.9zM23.7 42.7h0.9v0.9h-0.9zM26.5 36.2h0.9v0.9h-0.9zM25.1 20.5h0.9v0.9h-0.9zM23.2 51.8h0.9v0.9h-0.9zM23.7 37.4h0.9v0.9h-0.9zM24.6 44.7h0.9v0.9h-0.9zM24.8 50.3h0.9v0.9h-0.9zM30.3 52.2h0.9v0.9h-0.9zM27.4 49.6h0.9v0.9h-0.9zM24.9 49.6h0.9v0.9h-0.9zM23.4 50.8h0.9v0.9h-0.9zM26.9 57.6h0.9v0.9h-0.9zM24.0 43.8h0.9v0.9h-0.9zM24.6 53.9h0.9v0.9h-0.9zM23.4 25.4h0.9v0.9h-0.9zM28.7 31.4h0.9v0.9h-0.9zM27.4 55.5h0.9v0.9h-0.9zM24.6 33.9h0.9v0.9h-0.9zM23.9 60.1h0.9v0.9h-0.9zM28.9 49.7h0.9v0.9h-0.9zM23.4 38.8h0.9v0.9h-0.9zM24.1 49.3h0.9v0.9h-0.9zM24.5 59.0h0.9v0.9h-0.9zM23.5 35.1h0.9v0.9h-0.9zM23.8 21.0h0.9v0.9h-0.9zM25.4 53.5h0.9v0.9h-0.9zM24.7 56.9h0.9v0.9h-0.9zM23.0 44.1h0.9v0.9h-0.9zM22.9 49.0h0.9v0.9h-0.9zM22.7 53.0h0.9v0.9h-0.9zM24.0 28.2h0.9v0.9h-0.9zM23.0 34.9h0.9v0.9h-0.9zM30.0 57.1h0.9v0.9h-0.9zM23.6 41.5h0.9v0.9h-0.9zM26.1 47.6h0.9v0.9h-0.9zM23.0 51.9h0.9v0.9h-0.9zM23.1 40.9h0.9v0.9h-0.9zM27.0 38.3h0.9v0.9h-0.9zM24.5 52.1h0.9v0.9h-0.9zM27.0 55.4h0.9v0.9h-0.9zM30.5 38.8h0.9v0.9h-0.9zM24.4 25.1h0.9v0.9h-0.9zM27.1 52.1h0.9v0.9h-0.9zM24.4 39.6h0.9v0.9h-0.9zM23.4 45.9h0.9v0.9h-0.9zM24.6 41.7h0.9v0.9h-0.9zM26.4 27.8h0.9v0.9h-0.9zM25.5 37.5h0.9v0.9h-0.9zM23.6 48.9h0.9v0.9h-0.9zM26.2 47.5h0.9v0.9h-0.9zM24.4 50.4h0.9v0.9h-0.9zM24.4 13.9h0.9v0.9h-0.9zM24.5 36.6h0.9v0.9h-0.9zM25.0 39.0h0.9v0.9h-0.9zM23.8 30.5h0.9v0.9h-0.9zM24.8 27.1h0.9v0.9h-0.9zM27.9 50.9h0.9v0.9h-0.9zM23.4 45.8h0.9v0.9h-0.9zM24.3 56.1h0.9v0.9h-0.9zM27.1 61.0h0.9v0.9h-0.9zM23.8 39.6h0.9v0.9h-0.9z" fill="#fff050" fill-opacity="0.85"/>
<path d="M24.9 52.4h0.9v0.9h-0.9zM29.0 44.8h0.9v0.9h-0.9zM23.7 46.3h0.9v0.9h-0.9zM23.8 43.7h0.9v0.9h-0.9zM22.8 57.9h0.9v0.9h-0.9zM25.9 50.5h0.9v0.9h-0.9zM23.4 62.0h0.9v0.9h-0.9zM23.4 50.3h0.9v0.9h-0.9zM24.0 45.7h0.9v0.9h-0.9zM22.8 53.9h0.9v0.9h-0.9zM23.1 61.0h0.9v0.9h-0.9zM25.4 59.6h0.9v0.9h-0.9zM24.6 50.7h0.9v0.9h-0.9zM24.3 50.9h0.9v0.9h-0.9zM23.9 39.5h0.9v0.9h-0.9zM23.9 50.0h0.9v0.9h-0.9zM24.3 45.1h0.9v0.9h-0.9zM23.6 59.8h0.9v0.9h-0.9zM23.3 45.7h0.9v0.9h-0.9zM23.4 56.2h0.9v0.9h-0.9zM25.9 33.7h0.9v0.9h-0.9zM27.0 56.9h0.9v0.9h-0.9zM23.6 50.1h0.9v0.9h-0.9zM22.9 43.0h0.9v0.9h-0.9zM25.3 26.6h0.9v0.9h-0.9zM23.7 57.6h0.9v0.9h-0.9zM23.9 36.5h0.9v0.9h-0.9zM29.2 36.5h0.9v0.9h-0.9zM23.8 47.0h0.9v0.9h-0.9zM25.6 30.7h0.9v0.9h-0.9zM25.0 54.8h0.9v0.9h-0.9zM23.7 43.9h0.9v0.9h-0.9zM23.5 42.5h0.9v0.9h-0.9z" fill="#f86060" fill-opacity="0.85"/>
<path d="M87.0 48.5h0.75v0.75h-0.75zM88.5 63.1h0.75v0.75h-0.75zM87.1 28.1h0.75v0.75h-0.75zM85.9 60.4h0.75v0.75h-0.75zM87.6 63.6h0.75v0.75h-0.75zM89.4 62.5h0.75v0.75h-0.75zM86.6 60.6h0.75v0.75h-0.75zM86.4 47.2h0.75v0.75h-0.75zM85.0 63.9h0.75v0.75h-0.75zM87.2 57.3h0.75v0.75h-0.75zM87.9 55.9h0.75v0.75h-0.75zM87.1 53.6h0.75v0.75h-0.75zM87.2 58.2h0.75v0.75h-0.75zM87.6 58.2h0.75v0.75h-0.75zM87.6 52.7h0.75v0.75h-0.75zM88.4 57.3h0.75v0.75h-0.75zM86.7 64.1h0.75v0.75h-0.75zM86.8 64.1h0.75v0.75h-0.75zM87.6 58.5h0.75v0.75h-0.75zM89.0 62.1h0.75v0.75h-0.75zM86.0 61.8h0.75v0.75h-0.75zM87.9 57.4h0.75v0.75h-0.75zM88.3 58.3h0.75v0.75h-0.75zM86.2 56.9h0.75v0.75h-0.75zM87.2 58.4h0.75v0.75h-0.75zM89.6 62.7h0.75v0.75h-0.75zM87.0 48.3h0.75v0.75h-0.75zM88.4 58.4h0.75v0.75h-0.75zM85.6 54.3h0.75v0.75h-0.75zM86.0 63.1h0.75v0.75h-0.75zM87.6 41.1h0.75v0.75h-0.75zM86.5 37.7h0.75v0.75h-0.75zM89.0 56.4h0.75v0.75h-0.75zM88.7 52.7h0.75v0.75h-0.75zM87.1 61.4h0.75v0.75h-0.75zM87.1 63.5h0.75v0.75h-0.75zM86.4 50.2h0.75v0.75h-0.75zM87.2 52.6h0.75v0.75h-0.75zM87.3 55.0h0.75v0.75h-0.75zM87.6 52.9h0.75v0.75h-0.75zM86.5 59.4h0.75v0.75h-0.75zM86.6 59.9h0.75v0.75h-0.75zM87.7 58.0h0.75v0.75h-0.75zM84.9 50.7h0.75v0.75h-0.75zM87.6 49.6h0.75v0.75h-0.75zM86.2 46.8h0.75v0.75h-0.75zM85.4 37.0h0.75v0.75h-0.75zM88.3 46.2h0.75v0.75h-0.75zM87.6 53.1h0.75v0.75h-0.75zM89.3 64.1h0.75v0.75h-0.75zM88.1 63.5h0.75v0.75h-0.75zM86.4 63.4h0.75v0.75h-0.75zM87.9 55.2h0.75v0.75h-0.75zM88.2 55.7h0.75v0.75h-0.75zM87.3 56.7h0.75v0.75h-0.75zM86.7 59.1h0.75v0.75h-0.75zM87.2 55.5h0.75v0.75h-0.75zM88.8 63.7h0.75v0.75h-0.75zM88.9 51.1h0.75v0.75h-0.75zM85.8 54.5h0.75v0.75h-0.75zM87.3 60.3h0.75v0.75h-0.75zM85.6 60.5h0.75v0.75h-0.75zM87.1 60.7h0.75v0.75h-0.75zM89.4 57.8h0.75v0.75h-0.75zM85.9 56.8h0.75v0.75h-0.75zM86.3 53.5h0.75v0.75h-0.75zM87.6 48.7h0.75v0.75h-0.75zM87.6 51.7h0.75v0.75h-0.75zM86.5 37.9h0.75v0.75h-0.75zM83.9 54.7h0.75v0.75h-0.75zM87.9 60.4h0.75v0.75h-0.75zM89.0 34.6h0.75v0.75h-0.75zM85.8 36.3h0.75v0.75h-0.75zM87.8 57.1h0.75v0.75h-0.75zM88.3 54.1h0.75v0.75h-0.75zM85.3 48.2h0.75v0.75h-0.75zM86.6 39.1h0.75v0.75h-0.75zM87.5 45.2h0.75v0.75h-0.75zM87.3 48.8h0.75v0.75h-0.75zM85.7 63.4h0.75v0.75h-0.75zM86.5 51.9h0.75v0.75h-0.75zM88.5 61.7h0.75v0.75h-0.75zM87.1 40.9h0.75v0.75h-0.75zM86.4 49.9h0.75v0.75h-0.75zM87.5 57.7h0.75v0.75h-0.75zM87.1 50.3h0.75v0.75h-0.75zM86.2 53.7h0.75v0.75h-0.75zM88.8 62.9h0.75v0.75h-0.75zM89.8 51.5h0.75v0.75h-0.75zM88.3 61.7h0.75v0.75h-0.75zM85.4 39.1h0.75v0.75h-0.75zM86.2 61.2h0.75v0.75h-0.75zM87.0 51.3h0.75v0.75h-0.75zM88.2 58.1h0.75v0.75h-0.75zM88.0 59.9h0.75v0.75h-0.75zM85.8 53.7h0.75v0.75h-0.75zM84.2 54.7h0.75v0.75h-0.75zM87.5 63.6h0.75v0.75h-0.75zM88.4 62.2h0.75v0.75h-0.75zM88.5 62.5h0.75v0.75h-0.75zM87.9 56.4h0.75v0.75h-0.75zM88.4 56.6h0.75v0.75h-0.75zM88.6 56.9h0.75v0.75h-0.75zM89.2 60.5h0.75v0.75h-0.75zM88.0 63.5h0.75v0.75h-0.75zM87.4 62.5h0.75v0.75h-0.75zM87.4 58.2h0.75v0.75h-0.75zM87.4 51.7h0.75v0.75h-0.75zM87.0 58.7h0.75v0.75h-0.75z" fill="#ffe000" fill-opacity="0.6"/>
<path d="M87.3 51.2h0.75v0.75h-0.75zM87.3 44.5h0.75v0.75h-0.75zM86.1 54.9h0.75v0.75h-0.75zM87.3 56.6h0.75v0.75h-0.75zM88.9 64.0h0.75v0.75h-0.75zM86.4 59.4h0.75v0.75h-0.75zM87.6 62.7h0.75v0.75h-0.75zM84.8 63.3h0.75v0.75h-0.75zM88.0 51.4h0.75v0.75h-0.75zM88.5 60.9h0.75v0.75h-0.75zM87.2 61.2h0.75v0.75h-0.75zM84.0 49.3h0.75v0.75h-0.75zM86.1 57.9h0.75v0.75h-0.75zM88.2 61.4h0.75v0.75h-0.75zM87.8 54.9h0.75v0.75h-0.75zM87.8 46.8h0.75v0.75h-0.75zM87.4 63.2h0.75v0.75h-0.75zM85.8 61.4h0.75v0.75h-0.75zM87.7 56.6h0.75v0.75h-0.75zM88.0 40.9h0.75v0.75h-0.75zM86.7 59.0h0.75v0.75h-0.75zM87.0 56.7h0.75v0.75h-0.75zM87.3 53.4h0.75v0.75h-0.75zM85.2 57.9h0.75v0.75h-0.75zM89.1 54.3h0.75v0.75h-0.75zM88.4 58.3h0.75v0.75h-0.75zM87.8 47.6h0.75v0.75h-0.75zM88.3 56.6h0.75v0.75h-0.75zM86.3 53.0h0.75v0.75h-0.75zM87.7 61.6h0.75v0.75h-0.75zM86.6 54.9h0.75v0.75h-0.75zM87.9 49.3h0.75v0.75h-0.75zM85.3 63.0h0.75v0.75h-0.75zM86.6 50.3h0.75v0.75h-0.75zM85.5 47.7h0.75v0.75h-0.75zM86.5 60.9h0.75v0.75h-0.75zM87.0 52.9h0.75v0.75h-0.75zM85.8 54.2h0.75v0.75h-0.75zM87.1 61.5h0.75v0.75h-0.75zM85.1 47.1h0.75v0.75h-0.75zM87.8 54.7h0.75v0.75h-0.75zM86.0 61.0h0.75v0.75h-0.75zM86.8 54.0h0.75v0.75h-0.75zM86.5 59.0h0.75v0.75h-0.75zM85.8 46.9h0.75v0.75h-0.75zM84.5 60.8h0.75v0.75h-0.75zM84.8 51.8h0.75v0.75h-0.75zM86.4 37.4h0.75v0.75h-0.75zM88.0 47.0h0.75v0.75h-0.75zM86.7 57.3h0.75v0.75h-0.75zM88.3 55.7h0.75v0.75h-0.75zM86.3 53.6h0.75v0.75h-0.75zM85.0 56.2h0.75v0.75h-0.75zM86.4 59.8h0.75v0.75h-0.75zM85.5 49.5h0.75v0.75h-0.75zM87.5 55.1h0.75v0.75h-0.75zM86.4 54.5h0.75v0.75h-0.75zM85.8 32.4h0.75v0.75h-0.75zM85.8 60.8h0.75v0.75h-0.75zM87.0 60.6h0.75v0.75h-0.75zM87.0 61.0h0.75v0.75h-0.75zM86.5 52.3h0.75v0.75h-0.75zM89.3 53.1h0.75v0.75h-0.75zM88.1 61.7h0.75v0.75h-0.75zM87.8 32.5h0.75v0.75h-0.75zM88.0 57.4h0.75v0.75h-0.75zM85.9 54.1h0.75v0.75h-0.75zM86.4 55.2h0.75v0.75h-0.75zM88.8 53.0h0.75v0.75h-0.75zM87.0 46.4h0.75v0.75h-0.75zM86.0 61.0h0.75v0.75h-0.75zM87.4 63.7h0.75v0.75h-0.75zM88.6 62.7h0.75v0.75h-0.75zM84.6 50.5h0.75v0.75h-0.75zM85.9 64.1h0.75v0.75h-0.75zM87.0 61.0h0.75v0.75h-0.75zM85.3 57.3h0.75v0.75h-0.75zM85.1 58.0h0.75v0.75h-0.75zM87.4 63.0h0.75v0.75h-0.75zM87.8 51.5h0.75v0.75h-0.75zM86.4 52.2h0.75v0.75h-0.75zM86.3 55.9h0.75v0.75h-0.75zM89.4 56.9h0.75v0.75h-0.75zM86.7 54.5h0.75v0.75h-0.75zM85.2 55.7h0.75v0.75h-0.75zM87.8 62.6h0.75v0.75h-0.75z" fill="#ff9a00" fill-opacity="0.6"/>
<path d="M88.0 59.5h0.75v0.75h-0.75zM86.2 62.9h0.75v0.75h-0.75zM89.2 59.0h0.75v0.75h-0.75zM88.7 58.6h0.75v0.75h-0.75zM86.9 57.8h0.75v0.75h-0.75zM86.0 64.0h0.75v0.75h-0.75zM88.5 63.5h0.75v0.75h-0.75zM87.2 56.0h0.75v0.75h-0.75zM88.4 43.8h0.75v0.75h-0.75zM87.6 60.2h0.75v0.75h-0.75zM87.8 54.2h0.75v0.75h-0.75zM88.3 63.4h0.75v0.75h-0.75zM87.2 61.4h0.75v0.75h-0.75zM86.8 62.4h0.75v0.75h-0.75zM87.5 61.8h0.75v0.75h-0.75zM87.5 59.7h0.75v0.75h-0.75zM88.2 62.5h0.75v0.75h-0.75zM85.7 57.0h0.75v0.75h-0.75zM86.3 61.4h0.75v0.75h-0.75zM86.6 64.1h0.75v0.75h-0.75zM84.5 61.6h0.75v0.75h-0.75zM85.9 61.4h0.75v0.75h-0.75zM88.1 63.5h0.75v0.75h-0.75zM87.8 52.7h0.75v0.75h-0.75zM86.9 59.5h0.75v0.75h-0.75zM88.4 57.4h0.75v0.75h-0.75zM86.0 61.9h0.75v0.75h-0.75zM86.4 57.1h0.75v0.75h-0.75zM85.4 62.3h0.75v0.75h-0.75zM88.2 63.5h0.75v0.75h-0.75zM86.9 55.4h0.75v0.75h-0.75zM84.1 60.5h0.75v0.75h-0.75zM85.8 51.4h0.75v0.75h-0.75zM85.4 61.2h0.75v0.75h-0.75zM87.7 63.0h0.75v0.75h-0.75zM87.8 60.8h0.75v0.75h-0.75zM87.3 58.6h0.75v0.75h-0.75zM86.3 60.2h0.75v0.75h-0.75zM87.4 54.2h0.75v0.75h-0.75zM87.2 63.7h0.75v0.75h-0.75zM86.6 53.8h0.75v0.75h-0.75zM86.8 53.7h0.75v0.75h-0.75zM88.2 61.3h0.75v0.75h-0.75zM85.9 59.0h0.75v0.75h-0.75zM86.7 63.1h0.75v0.75h-0.75zM86.2 53.6h0.75v0.75h-0.75zM85.6 57.3h0.75v0.75h-0.75zM87.5 59.2h0.75v0.75h-0.75zM87.9 61.3h0.75v0.75h-0.75zM85.0 51.1h0.75v0.75h-0.75zM87.1 52.3h0.75v0.75h-0.75zM88.3 60.4h0.75v0.75h-0.75zM86.6 58.8h0.75v0.75h-0.75zM88.0 57.9h0.75v0.75h-0.75zM85.8 56.6h0.75v0.75h-0.75z" fill="#f01e10" fill-opacity="0.6"/>
<path d="M87.2 62.4h0.75v0.75h-0.75zM88.0 49.5h0.75v0.75h-0.75zM87.2 56.8h0.75v0.75h-0.75zM87.3 59.5h0.75v0.75h-0.75zM84.4 62.1h0.75v0.75h-0.75zM86.2 54.5h0.75v0.75h-0.75zM86.3 61.7h0.75v0.75h-0.75zM86.5 58.1h0.75v0.75h-0.75zM86.4 60.6h0.75v0.75h-0.75zM85.0 33.5h0.75v0.75h-0.75zM89.1 60.9h0.75v0.75h-0.75zM85.8 37.8h0.75v0.75h-0.75zM89.6 45.3h0.75v0.75h-0.75zM89.5 53.3h0.75v0.75h-0.75zM87.6 59.9h0.75v0.75h-0.75zM87.1 54.0h0.75v0.75h-0.75zM86.7 63.2h0.75v0.75h-0.75zM87.3 49.1h0.75v0.75h-0.75zM87.0 47.0h0.75v0.75h-0.75zM87.3 44.2h0.75v0.75h-0.75zM89.7 48.9h0.75v0.75h-0.75zM89.2 54.3h0.75v0.75h-0.75zM88.9 57.0h0.75v0.75h-0.75zM88.0 56.4h0.75v0.75h-0.75zM86.7 35.5h0.75v0.75h-0.75zM88.2 61.0h0.75v0.75h-0.75zM86.1 62.4h0.75v0.75h-0.75zM86.9 57.9h0.75v0.75h-0.75zM88.8 54.8h0.75v0.75h-0.75zM88.6 58.1h0.75v0.75h-0.75zM88.7 56.3h0.75v0.75h-0.75zM87.9 60.7h0.75v0.75h-0.75zM88.0 61.3h0.75v0.75h-0.75z" fill="#fff050" fill-opacity="0.6"/>
<path d="M87.3 62.1h0.75v0.75h-0.75zM85.5 60.5h0.75v0.75h-0.75zM87.0 35.5h0.75v0.75h-0.75zM87.3 52.7h0.75v0.75h-0.75zM87.0 58.3h0.75v0.75h-0.75zM85.2 54.3h0.75v0.75h-0.75zM85.0 32.5h0.75v0.75h-0.75zM86.7 61.4h0.75v0.75h-0.75zM88.5 62.6h0.75v0.75h-0.75zM86.0 50.7h0.75v0.75h-0.75zM87.3 43.1h0.75v0.75h-0.75zM87.4 62.2h0.75v0.75h-0.75zM87.1 59.6h0.75v0.75h-0.75zM87.8 58.5h0.75v0.75h-0.75zM88.7 62.8h0.75v0.75h-0.75zM85.5 64.3h0.75v0.75h-0.75zM86.0 56.6h0.75v0.75h-0.75z" fill="#f86060" fill-opacity="0.6"/>
<line x1="22.00" y1="41.60" x2="88.00" y2="50.00" stroke="#d8b484" stroke-width="1.8" stroke-opacity="0.2"/>
<line x1="22.00" y1="41.60" x2="88.00" y2="50.00" stroke="#d8b484" stroke-width="0.8" />
<line x1="22.00" y1="55.20" x2="88.00" y2="57.70" stroke="#e0d86a" stroke-width="1.8" stroke-opacity="0.2"/>
<line x1="22.00" y1="55.20" x2="88.00" y2="57.70" stroke="#e0d86a" stroke-width="0.8" />
<line x1="22.00" y1="54.60" x2="88.00" y2="50.70" stroke="#d87474" stroke-width="1.8" stroke-opacity="0.2"/>
<line x1="22.00" y1="54.60" x2="88.00" y2="50.70" stroke="#d87474" stroke-width="0.8" />
<text x="94.10" y="24.40" font-size="4.0" text-anchor="start" dominant-baseline="central" fill="#222" stroke="#222" stroke-width="0.04" >Temp.</text>
<text x="95.90" y="29.20" font-size="3.8" text-anchor="start" dominant-baseline="central" fill="#222" stroke="#222" stroke-width="0.04" >(°C)</text>
<rect x="94.50" y="32.60" width="2.80" height="12.60" fill="#e4e4e4" stroke="none" stroke-width="0.5" />
<rect x="94.50" y="33.80" width="2.80" height="1.40" fill="#e4dc5c" stroke="none" stroke-width="0.5" fill-opacity="0.6"/>
<text x="98.70" y="34.60" font-size="3.8" text-anchor="start" dominant-baseline="central" fill="#333" stroke="#333" stroke-width="0.0" >20</text>
<rect x="94.50" y="38.10" width="2.80" height="1.40" fill="#e8bc80" stroke="none" stroke-width="0.5" fill-opacity="0.6"/>
<text x="98.70" y="38.90" font-size="3.8" text-anchor="start" dominant-baseline="central" fill="#333" stroke="#333" stroke-width="0.0" >24</text>
<rect x="94.50" y="42.60" width="2.80" height="1.40" fill="#e68888" stroke="none" stroke-width="0.5" fill-opacity="0.6"/>
<text x="98.70" y="43.10" font-size="3.8" text-anchor="start" dominant-baseline="central" fill="#333" stroke="#333" stroke-width="0.0" >30</text>
<rect x="124.00" y="3.80" width="84.50" height="63.20" fill="none" stroke="#d2d2d2" stroke-width="0.6" />
<line x1="122.60" y1="64.60" x2="124.00" y2="64.60" stroke="#999" stroke-width="0.45" />
<text x="121.00" y="64.60" font-size="4.1" text-anchor="end" dominant-baseline="central" fill="#333" stroke="#333" stroke-width="0.03" >0</text>
<line x1="122.60" y1="52.58" x2="124.00" y2="52.58" stroke="#999" stroke-width="0.45" />
<text x="121.00" y="52.58" font-size="4.1" text-anchor="end" dominant-baseline="central" fill="#333" stroke="#333" stroke-width="0.03" >250</text>
<line x1="122.60" y1="40.56" x2="124.00" y2="40.56" stroke="#999" stroke-width="0.45" />
<text x="121.00" y="40.56" font-size="4.1" text-anchor="end" dominant-baseline="central" fill="#333" stroke="#333" stroke-width="0.03" >500</text>
<line x1="122.60" y1="28.54" x2="124.00" y2="28.54" stroke="#999" stroke-width="0.45" />
<text x="121.00" y="28.54" font-size="4.1" text-anchor="end" dominant-baseline="central" fill="#333" stroke="#333" stroke-width="0.03" >750</text>
<line x1="122.60" y1="16.52" x2="124.00" y2="16.52" stroke="#999" stroke-width="0.45" />
<text x="121.00" y="16.52" font-size="4.1" text-anchor="end" dominant-baseline="central" fill="#333" stroke="#333" stroke-width="0.03" >1,000</text>
<line x1="122.60" y1="4.50" x2="124.00" y2="4.50" stroke="#999" stroke-width="0.45" />
<text x="121.00" y="4.50" font-size="4.1" text-anchor="end" dominant-baseline="central" fill="#333" stroke="#333" stroke-width="0.03" >1,250</text>
<line x1="126.00" y1="67.00" x2="126.00" y2="68.30" stroke="#999" stroke-width="0.45" />
<text x="126.00" y="72.70" font-size="4.1" text-anchor="middle" dominant-baseline="central" fill="#333" stroke="#333" stroke-width="0.03" >-40</text>
<line x1="141.00" y1="67.00" x2="141.00" y2="68.30" stroke="#999" stroke-width="0.45" />
<text x="141.00" y="72.70" font-size="4.1" text-anchor="middle" dominant-baseline="central" fill="#333" stroke="#333" stroke-width="0.03" >-20</text>
<line x1="156.00" y1="67.00" x2="156.00" y2="68.30" stroke="#999" stroke-width="0.45" />
<text x="156.00" y="72.70" font-size="4.1" text-anchor="middle" dominant-baseline="central" fill="#333" stroke="#333" stroke-width="0.03" >0</text>
<line x1="171.00" y1="67.00" x2="171.00" y2="68.30" stroke="#999" stroke-width="0.45" />
<text x="171.00" y="72.70" font-size="4.1" text-anchor="middle" dominant-baseline="central" fill="#333" stroke="#333" stroke-width="0.03" >20</text>
<line x1="186.00" y1="67.00" x2="186.00" y2="68.30" stroke="#999" stroke-width="0.45" />
<text x="186.00" y="72.70" font-size="4.1" text-anchor="middle" dominant-baseline="central" fill="#333" stroke="#333" stroke-width="0.03" >40</text>
<line x1="201.00" y1="67.00" x2="201.00" y2="68.30" stroke="#999" stroke-width="0.45" />
<text x="201.00" y="72.70" font-size="4.1" text-anchor="middle" dominant-baseline="central" fill="#333" stroke="#333" stroke-width="0.03" >60</text>
<text x="166.25" y="78.60" font-size="4.1" text-anchor="middle" dominant-baseline="central" fill="#222" stroke="#222" stroke-width="0.03" >PC2</text>
<path d="M154.8 45.5h0.95v0.95h-0.95zM139.0 51.1h0.95v0.95h-0.95zM155.0 52.7h0.95v0.95h-0.95zM190.5 45.5h0.95v0.95h-0.95zM155.1 54.2h0.95v0.95h-0.95zM143.9 52.2h0.95v0.95h-0.95zM185.4 58.8h0.95v0.95h-0.95zM201.8 61.1h0.95v0.95h-0.95zM201.4 55.2h0.95v0.95h-0.95zM134.1 58.4h0.95v0.95h-0.95zM155.1 50.0h0.95v0.95h-0.95zM130.9 53.8h0.95v0.95h-0.95zM129.2 57.9h0.95v0.95h-0.95zM143.9 49.8h0.95v0.95h-0.95zM131.4 49.8h0.95v0.95h-0.95zM139.5 60.2h0.95v0.95h-0.95zM144.2 49.1h0.95v0.95h-0.95zM128.4 49.4h0.95v0.95h-0.95zM134.3 61.2h0.95v0.95h-0.95zM131.5 57.0h0.95v0.95h-0.95zM154.7 58.1h0.95v0.95h-0.95zM201.7 59.9h0.95v0.95h-0.95zM136.9 59.6h0.95v0.95h-0.95zM154.9 58.1h0.95v0.95h-0.95zM129.0 52.2h0.95v0.95h-0.95zM128.9 30.8h0.95v0.95h-0.95zM139.0 17.2h0.95v0.95h-0.95zM130.9 48.1h0.95v0.95h-0.95zM185.5 38.0h0.95v0.95h-0.95zM154.5 33.1h0.95v0.95h-0.95zM136.6 56.1h0.95v0.95h-0.95zM129.0 54.6h0.95v0.95h-0.95zM128.7 59.9h0.95v0.95h-0.95zM190.6 56.0h0.95v0.95h-0.95zM137.0 36.7h0.95v0.95h-0.95zM201.6 55.7h0.95v0.95h-0.95zM128.6 52.2h0.95v0.95h-0.95zM136.6 61.3h0.95v0.95h-0.95zM202.0 54.5h0.95v0.95h-0.95zM201.4 58.5h0.95v0.95h-0.95zM131.4 52.1h0.95v0.95h-0.95zM134.4 55.1h0.95v0.95h-0.95zM138.9 50.7h0.95v0.95h-0.95zM201.8 57.2h0.95v0.95h-0.95zM137.0 38.5h0.95v0.95h-0.95zM154.4 44.0h0.95v0.95h-0.95zM128.7 49.0h0.95v0.95h-0.95zM139.0 45.1h0.95v0.95h-0.95zM155.2 57.1h0.95v0.95h-0.95zM154.6 28.5h0.95v0.95h-0.95zM129.2 28.6h0.95v0.95h-0.95zM201.5 19.7h0.95v0.95h-0.95zM203.4 58.8h0.95v0.95h-0.95zM201.3 54.2h0.95v0.95h-0.95zM154.7 47.8h0.95v0.95h-0.95zM130.9 54.6h0.95v0.95h-0.95zM128.5 53.1h0.95v0.95h-0.95zM128.9 50.9h0.95v0.95h-0.95zM134.1 57.7h0.95v0.95h-0.95zM154.5 57.8h0.95v0.95h-0.95zM136.7 60.4h0.95v0.95h-0.95zM201.8 57.5h0.95v0.95h-0.95zM154.6 52.6h0.95v0.95h-0.95zM126.8 54.3h0.95v0.95h-0.95zM155.1 59.8h0.95v0.95h-0.95zM154.7 61.0h0.95v0.95h-0.95zM154.9 48.4h0.95v0.95h-0.95zM136.8 61.8h0.95v0.95h-0.95zM131.0 60.9h0.95v0.95h-0.95zM155.2 50.8h0.95v0.95h-0.95zM203.3 59.2h0.95v0.95h-0.95zM129.2 57.7h0.95v0.95h-0.95zM126.5 40.3h0.95v0.95h-0.95zM203.6 41.6h0.95v0.95h-0.95zM131.1 56.5h0.95v0.95h-0.95zM203.5 36.9h0.95v0.95h-0.95zM128.5 59.9h0.95v0.95h-0.95zM201.6 58.7h0.95v0.95h-0.95zM138.9 57.9h0.95v0.95h-0.95zM128.9 48.9h0.95v0.95h-0.95zM155.1 53.6h0.95v0.95h-0.95zM126.8 55.2h0.95v0.95h-0.95zM169.4 51.1h0.95v0.95h-0.95zM126.6 34.2h0.95v0.95h-0.95zM203.7 52.1h0.95v0.95h-0.95zM126.4 48.8h0.95v0.95h-0.95zM155.1 61.8h0.95v0.95h-0.95zM138.9 59.6h0.95v0.95h-0.95zM129.2 45.8h0.95v0.95h-0.95zM203.2 51.4h0.95v0.95h-0.95zM190.5 56.6h0.95v0.95h-0.95zM134.1 60.4h0.95v0.95h-0.95zM136.6 53.3h0.95v0.95h-0.95zM134.5 45.4h0.95v0.95h-0.95zM154.3 54.6h0.95v0.95h-0.95zM137.1 61.1h0.95v0.95h-0.95zM154.3 30.9h0.95v0.95h-0.95zM201.8 43.3h0.95v0.95h-0.95zM143.9 53.3h0.95v0.95h-0.95zM134.4 48.2h0.95v0.95h-0.95zM203.3 59.6h0.95v0.95h-0.95zM131.1 61.6h0.95v0.95h-0.95zM204.0 46.3h0.95v0.95h-0.95zM128.5 44.5h0.95v0.95h-0.95zM128.7 59.5h0.95v0.95h-0.95zM154.7 58.3h0.95v0.95h-0.95zM126.5 46.2h0.95v0.95h-0.95zM154.8 50.6h0.95v0.95h-0.95zM154.9 47.8h0.95v0.95h-0.95zM203.9 44.7h0.95v0.95h-0.95zM154.7 60.2h0.95v0.95h-0.95zM139.1 61.9h0.95v0.95h-0.95zM138.9 55.4h0.95v0.95h-0.95zM190.7 49.1h0.95v0.95h-0.95zM134.4 49.3h0.95v0.95h-0.95zM128.6 40.6h0.95v0.95h-0.95zM180.1 52.8h0.95v0.95h-0.95zM169.5 60.7h0.95v0.95h-0.95zM154.3 60.1h0.95v0.95h-0.95zM185.5 34.4h0.95v0.95h-0.95zM154.8 39.4h0.95v0.95h-0.95zM126.9 52.9h0.95v0.95h-0.95zM131.4 44.6h0.95v0.95h-0.95zM203.2 58.3h0.95v0.95h-0.95zM185.2 58.8h0.95v0.95h-0.95zM204.0 54.5h0.95v0.95h-0.95zM154.5 54.1h0.95v0.95h-0.95zM137.1 49.4h0.95v0.95h-0.95zM203.2 31.0h0.95v0.95h-0.95zM134.6 50.9h0.95v0.95h-0.95zM134.1 50.6h0.95v0.95h-0.95zM180.1 60.1h0.95v0.95h-0.95zM139.3 56.5h0.95v0.95h-0.95zM154.3 55.4h0.95v0.95h-0.95zM129.2 54.3h0.95v0.95h-0.95zM139.4 51.7h0.95v0.95h-0.95zM139.4 52.8h0.95v0.95h-0.95zM203.2 46.6h0.95v0.95h-0.95zM128.4 53.7h0.95v0.95h-0.95zM128.7 63.1h0.95v0.95h-0.95zM201.3 60.0h0.95v0.95h-0.95zM128.6 53.9h0.95v0.95h-0.95zM129.1 60.4h0.95v0.95h-0.95zM131.5 52.0h0.95v0.95h-0.95zM155.3 62.7h0.95v0.95h-0.95zM134.1 61.5h0.95v0.95h-0.95zM203.3 61.6h0.95v0.95h-0.95zM126.8 56.0h0.95v0.95h-0.95zM128.8 43.0h0.95v0.95h-0.95zM155.2 50.7h0.95v0.95h-0.95zM155.1 58.3h0.95v0.95h-0.95zM139.2 44.9h0.95v0.95h-0.95zM201.3 51.6h0.95v0.95h-0.95zM203.6 47.2h0.95v0.95h-0.95zM134.4 48.3h0.95v0.95h-0.95zM155.2 53.9h0.95v0.95h-0.95zM154.4 46.7h0.95v0.95h-0.95zM128.8 56.5h0.95v0.95h-0.95zM136.9 53.5h0.95v0.95h-0.95zM203.5 37.7h0.95v0.95h-0.95zM126.5 41.4h0.95v0.95h-0.95zM154.6 55.1h0.95v0.95h-0.95zM139.0 53.9h0.95v0.95h-0.95zM131.0 59.3h0.95v0.95h-0.95zM134.7 55.8h0.95v0.95h-0.95zM154.7 31.2h0.95v0.95h-0.95zM154.6 48.2h0.95v0.95h-0.95zM203.4 49.5h0.95v0.95h-0.95zM128.9 62.7h0.95v0.95h-0.95zM134.3 57.8h0.95v0.95h-0.95zM126.7 57.6h0.95v0.95h-0.95zM136.5 57.4h0.95v0.95h-0.95zM154.3 58.7h0.95v0.95h-0.95zM126.6 35.2h0.95v0.95h-0.95zM126.6 44.7h0.95v0.95h-0.95zM154.6 62.4h0.95v0.95h-0.95zM203.6 47.9h0.95v0.95h-0.95zM136.8 56.7h0.95v0.95h-0.95zM154.9 58.5h0.95v0.95h-0.95zM139.5 54.1h0.95v0.95h-0.95zM143.9 60.3h0.95v0.95h-0.95zM129.2 51.7h0.95v0.95h-0.95zM201.7 59.4h0.95v0.95h-0.95zM134.4 63.1h0.95v0.95h-0.95zM126.5 40.1h0.95v0.95h-0.95zM128.5 56.0h0.95v0.95h-0.95zM128.6 44.9h0.95v0.95h-0.95zM131.4 54.5h0.95v0.95h-0.95zM131.5 46.6h0.95v0.95h-0.95zM139.0 58.2h0.95v0.95h-0.95zM201.3 39.3h0.95v0.95h-0.95zM169.8 55.6h0.95v0.95h-0.95zM126.3 46.8h0.95v0.95h-0.95zM136.8 53.9h0.95v0.95h-0.95zM203.8 53.6h0.95v0.95h-0.95zM126.4 47.4h0.95v0.95h-0.95zM180.3 44.3h0.95v0.95h-0.95zM154.9 55.4h0.95v0.95h-0.95zM126.9 50.5h0.95v0.95h-0.95zM129.0 59.7h0.95v0.95h-0.95zM203.9 59.3h0.95v0.95h-0.95zM134.7 58.3h0.95v0.95h-0.95zM185.3 53.9h0.95v0.95h-0.95zM201.7 55.5h0.95v0.95h-0.95zM203.8 60.5h0.95v0.95h-0.95zM126.9 44.0h0.95v0.95h-0.95zM203.7 52.9h0.95v0.95h-0.95zM131.4 52.7h0.95v0.95h-0.95zM126.9 42.7h0.95v0.95h-0.95zM155.1 59.5h0.95v0.95h-0.95zM154.3 60.3h0.95v0.95h-0.95zM190.5 58.2h0.95v0.95h-0.95zM203.9 53.8h0.95v0.95h-0.95zM134.7 45.1h0.95v0.95h-0.95zM204.0 25.3h0.95v0.95h-0.95zM154.3 56.0h0.95v0.95h-0.95zM154.3 56.6h0.95v0.95h-0.95zM129.1 54.2h0.95v0.95h-0.95zM139.3 58.6h0.95v0.95h-0.95zM155.2 35.4h0.95v0.95h-0.95zM154.6 63.5h0.95v0.95h-0.95zM136.5 55.6h0.95v0.95h-0.95zM131.4 54.5h0.95v0.95h-0.95zM128.6 46.7h0.95v0.95h-0.95zM126.7 48.0h0.95v0.95h-0.95zM190.5 49.8h0.95v0.95h-0.95zM134.6 45.5h0.95v0.95h-0.95zM128.7 53.9h0.95v0.95h-0.95zM185.5 56.1h0.95v0.95h-0.95zM203.4 45.3h0.95v0.95h-0.95zM134.1 43.6h0.95v0.95h-0.95zM134.5 58.9h0.95v0.95h-0.95zM136.8 47.3h0.95v0.95h-0.95zM128.5 57.2h0.95v0.95h-0.95zM129.1 49.9h0.95v0.95h-0.95zM155.1 51.3h0.95v0.95h-0.95zM190.7 61.0h0.95v0.95h-0.95zM134.1 60.8h0.95v0.95h-0.95zM154.9 28.6h0.95v0.95h-0.95zM139.2 61.2h0.95v0.95h-0.95zM136.6 51.0h0.95v0.95h-0.95zM201.5 40.5h0.95v0.95h-0.95zM139.3 52.0h0.95v0.95h-0.95zM128.4 63.0h0.95v0.95h-0.95zM155.0 55.8h0.95v0.95h-0.95zM137.1 37.5h0.95v0.95h-0.95zM128.5 60.5h0.95v0.95h-0.95zM204.0 48.2h0.95v0.95h-0.95zM136.9 40.7h0.95v0.95h-0.95zM185.6 42.2h0.95v0.95h-0.95zM154.4 59.5h0.95v0.95h-0.95zM131.4 62.9h0.95v0.95h-0.95zM190.4 57.4h0.95v0.95h-0.95zM139.3 52.8h0.95v0.95h-0.95zM128.6 34.4h0.95v0.95h-0.95zM139.4 58.8h0.95v0.95h-0.95zM203.5 62.5h0.95v0.95h-0.95zM130.9 50.6h0.95v0.95h-0.95zM126.4 57.8h0.95v0.95h-0.95zM137.1 63.3h0.95v0.95h-0.95zM139.0 30.7h0.95v0.95h-0.95zM128.8 61.3h0.95v0.95h-0.95zM131.4 42.9h0.95v0.95h-0.95zM130.9 60.3h0.95v0.95h-0.95zM128.9 51.7h0.95v0.95h-0.95zM143.8 55.1h0.95v0.95h-0.95zM203.4 61.5h0.95v0.95h-0.95zM154.4 39.9h0.95v0.95h-0.95zM130.9 51.3h0.95v0.95h-0.95zM131.2 57.2h0.95v0.95h-0.95zM203.6 42.2h0.95v0.95h-0.95zM131.1 40.2h0.95v0.95h-0.95zM134.4 56.8h0.95v0.95h-0.95zM201.7 48.4h0.95v0.95h-0.95zM139.4 57.8h0.95v0.95h-0.95zM201.7 60.4h0.95v0.95h-0.95zM190.7 57.3h0.95v0.95h-0.95zM185.2 54.5h0.95v0.95h-0.95zM126.5 62.3h0.95v0.95h-0.95zM136.7 51.0h0.95v0.95h-0.95zM139.0 38.9h0.95v0.95h-0.95zM128.8 47.1h0.95v0.95h-0.95zM201.3 61.1h0.95v0.95h-0.95z" fill="#000" fill-opacity="0.5"/>
<path d="M136.7 41.1h0.95v0.95h-0.95zM201.8 57.7h0.95v0.95h-0.95zM128.8 56.9h0.95v0.95h-0.95zM128.7 43.4h0.95v0.95h-0.95zM129.2 54.9h0.95v0.95h-0.95zM129.0 61.2h0.95v0.95h-0.95zM139.5 54.1h0.95v0.95h-0.95zM129.0 48.2h0.95v0.95h-0.95zM154.6 55.7h0.95v0.95h-0.95zM203.7 54.2h0.95v0.95h-0.95zM155.0 59.5h0.95v0.95h-0.95zM139.3 60.1h0.95v0.95h-0.95zM201.8 52.3h0.95v0.95h-0.95zM203.8 62.4h0.95v0.95h-0.95zM134.2 60.3h0.95v0.95h-0.95zM128.5 49.3h0.95v0.95h-0.95zM201.7 52.3h0.95v0.95h-0.95zM128.8 58.2h0.95v0.95h-0.95zM155.1 56.5h0.95v0.95h-0.95zM154.3 57.7h0.95v0.95h-0.95zM128.9 59.0h0.95v0.95h-0.95zM136.7 55.3h0.95v0.95h-0.95zM154.7 45.0h0.95v0.95h-0.95zM128.7 44.7h0.95v0.95h-0.95zM128.6 54.0h0.95v0.95h-0.95zM137.0 53.4h0.95v0.95h-0.95zM203.7 60.4h0.95v0.95h-0.95zM169.8 41.2h0.95v0.95h-0.95zM128.6 62.1h0.95v0.95h-0.95zM169.7 39.1h0.95v0.95h-0.95zM202.0 25.9h0.95v0.95h-0.95zM138.9 53.0h0.95v0.95h-0.95zM134.7 49.9h0.95v0.95h-0.95zM130.9 23.0h0.95v0.95h-0.95zM128.8 53.8h0.95v0.95h-0.95zM155.3 43.4h0.95v0.95h-0.95zM126.5 58.6h0.95v0.95h-0.95zM155.1 52.9h0.95v0.95h-0.95zM201.5 52.4h0.95v0.95h-0.95zM130.9 56.0h0.95v0.95h-0.95zM154.7 35.6h0.95v0.95h-0.95zM154.7 39.6h0.95v0.95h-0.95zM128.8 56.7h0.95v0.95h-0.95zM155.2 51.6h0.95v0.95h-0.95zM190.7 52.9h0.95v0.95h-0.95zM203.9 56.2h0.95v0.95h-0.95zM169.7 55.5h0.95v0.95h-0.95zM201.8 59.5h0.95v0.95h-0.95zM128.9 30.2h0.95v0.95h-0.95zM155.3 60.4h0.95v0.95h-0.95zM129.2 61.0h0.95v0.95h-0.95zM155.2 56.9h0.95v0.95h-0.95zM131.5 53.2h0.95v0.95h-0.95zM136.9 62.2h0.95v0.95h-0.95zM201.7 56.8h0.95v0.95h-0.95zM155.2 41.8h0.95v0.95h-0.95zM134.6 42.1h0.95v0.95h-0.95zM129.2 53.8h0.95v0.95h-0.95zM155.2 41.3h0.95v0.95h-0.95zM130.9 49.1h0.95v0.95h-0.95zM203.4 57.2h0.95v0.95h-0.95zM131.2 59.1h0.95v0.95h-0.95zM180.1 52.7h0.95v0.95h-0.95zM154.3 48.2h0.95v0.95h-0.95zM201.3 52.9h0.95v0.95h-0.95zM134.5 49.7h0.95v0.95h-0.95zM131.3 59.5h0.95v0.95h-0.95zM155.0 53.8h0.95v0.95h-0.95zM185.4 33.7h0.95v0.95h-0.95zM203.5 64.0h0.95v0.95h-0.95zM190.5 45.5h0.95v0.95h-0.95zM137.1 54.5h0.95v0.95h-0.95zM154.3 28.8h0.95v0.95h-0.95zM134.2 42.8h0.95v0.95h-0.95zM131.3 58.9h0.95v0.95h-0.95zM155.1 38.7h0.95v0.95h-0.95zM131.0 54.9h0.95v0.95h-0.95zM169.4 44.9h0.95v0.95h-0.95zM139.2 56.8h0.95v0.95h-0.95zM136.8 44.2h0.95v0.95h-0.95zM137.1 53.7h0.95v0.95h-0.95zM129.0 49.0h0.95v0.95h-0.95zM131.1 61.0h0.95v0.95h-0.95zM155.3 62.4h0.95v0.95h-0.95zM169.5 62.0h0.95v0.95h-0.95zM131.0 61.9h0.95v0.95h-0.95zM128.8 61.4h0.95v0.95h-0.95zM155.1 39.3h0.95v0.95h-0.95zM139.2 46.5h0.95v0.95h-0.95zM154.7 50.1h0.95v0.95h-0.95zM154.6 48.8h0.95v0.95h-0.95zM129.0 51.5h0.95v0.95h-0.95zM130.9 41.1h0.95v0.95h-0.95zM126.5 49.1h0.95v0.95h-0.95zM201.2 57.1h0.95v0.95h-0.95zM139.2 54.5h0.95v0.95h-0.95zM203.9 46.5h0.95v0.95h-0.95zM154.8 58.3h0.95v0.95h-0.95zM155.1 57.3h0.95v0.95h-0.95zM136.8 43.8h0.95v0.95h-0.95zM129.0 58.2h0.95v0.95h-0.95zM128.9 41.7h0.95v0.95h-0.95zM134.1 35.2h0.95v0.95h-0.95zM201.6 49.1h0.95v0.95h-0.95zM129.1 57.7h0.95v0.95h-0.95zM128.7 51.1h0.95v0.95h-0.95zM131.0 57.3h0.95v0.95h-0.95zM136.6 40.2h0.95v0.95h-0.95zM129.2 34.9h0.95v0.95h-0.95zM154.6 62.5h0.95v0.95h-0.95zM203.3 58.9h0.95v0.95h-0.95zM203.6 48.3h0.95v0.95h-0.95zM134.5 50.1h0.95v0.95h-0.95zM169.4 57.4h0.95v0.95h-0.95zM128.5 59.3h0.95v0.95h-0.95zM201.9 58.5h0.95v0.95h-0.95zM201.5 50.6h0.95v0.95h-0.95zM134.6 48.3h0.95v0.95h-0.95zM204.0 55.3h0.95v0.95h-0.95zM131.1 53.4h0.95v0.95h-0.95zM129.1 49.9h0.95v0.95h-0.95zM155.1 53.8h0.95v0.95h-0.95zM129.1 52.7h0.95v0.95h-0.95zM201.8 63.4h0.95v0.95h-0.95zM128.9 41.6h0.95v0.95h-0.95zM154.5 59.6h0.95v0.95h-0.95zM154.9 46.6h0.95v0.95h-0.95zM126.6 41.3h0.95v0.95h-0.95zM128.9 56.0h0.95v0.95h-0.95zM134.4 36.9h0.95v0.95h-0.95zM155.2 51.9h0.95v0.95h-0.95zM136.9 33.0h0.95v0.95h-0.95zM155.0 56.5h0.95v0.95h-0.95zM129.2 53.7h0.95v0.95h-0.95zM154.9 53.9h0.95v0.95h-0.95zM154.7 56.1h0.95v0.95h-0.95zM154.4 46.0h0.95v0.95h-0.95zM201.7 54.8h0.95v0.95h-0.95zM201.6 46.8h0.95v0.95h-0.95zM136.7 59.7h0.95v0.95h-0.95zM203.3 51.0h0.95v0.95h-0.95zM169.8 49.4h0.95v0.95h-0.95zM134.3 56.6h0.95v0.95h-0.95zM126.5 56.3h0.95v0.95h-0.95zM201.5 56.0h0.95v0.95h-0.95zM155.1 53.2h0.95v0.95h-0.95zM128.5 61.6h0.95v0.95h-0.95zM169.4 58.2h0.95v0.95h-0.95zM139.2 27.1h0.95v0.95h-0.95zM203.8 62.3h0.95v0.95h-0.95zM128.8 59.2h0.95v0.95h-0.95zM154.9 27.7h0.95v0.95h-0.95zM154.9 60.1h0.95v0.95h-0.95zM155.2 61.2h0.95v0.95h-0.95zM137.1 58.7h0.95v0.95h-0.95zM201.6 58.3h0.95v0.95h-0.95zM128.4 53.1h0.95v0.95h-0.95zM154.7 61.3h0.95v0.95h-0.95zM134.5 49.2h0.95v0.95h-0.95zM126.5 42.2h0.95v0.95h-0.95zM131.1 48.0h0.95v0.95h-0.95zM138.9 51.3h0.95v0.95h-0.95zM154.4 54.7h0.95v0.95h-0.95zM136.7 57.5h0.95v0.95h-0.95zM128.4 51.5h0.95v0.95h-0.95zM203.3 37.4h0.95v0.95h-0.95zM137.0 55.4h0.95v0.95h-0.95zM131.3 20.7h0.95v0.95h-0.95zM128.9 55.6h0.95v0.95h-0.95zM128.8 56.4h0.95v0.95h-0.95zM126.5 54.4h0.95v0.95h-0.95zM134.2 38.7h0.95v0.95h-0.95zM201.7 53.4h0.95v0.95h-0.95zM180.2 54.2h0.95v0.95h-0.95zM129.1 58.3h0.95v0.95h-0.95zM131.0 28.1h0.95v0.95h-0.95zM129.1 54.3h0.95v0.95h-0.95zM131.5 48.4h0.95v0.95h-0.95zM154.6 34.7h0.95v0.95h-0.95zM203.9 46.2h0.95v0.95h-0.95zM201.2 55.6h0.95v0.95h-0.95zM128.6 56.1h0.95v0.95h-0.95zM134.7 55.7h0.95v0.95h-0.95zM190.7 63.4h0.95v0.95h-0.95zM134.1 54.4h0.95v0.95h-0.95zM139.2 55.7h0.95v0.95h-0.95zM203.7 57.8h0.95v0.95h-0.95zM202.0 60.3h0.95v0.95h-0.95zM134.7 52.0h0.95v0.95h-0.95zM155.0 39.7h0.95v0.95h-0.95zM139.4 47.1h0.95v0.95h-0.95zM134.7 51.5h0.95v0.95h-0.95zM201.8 37.4h0.95v0.95h-0.95zM128.4 55.9h0.95v0.95h-0.95zM154.7 40.9h0.95v0.95h-0.95zM155.3 55.3h0.95v0.95h-0.95zM203.3 53.9h0.95v0.95h-0.95zM126.8 47.6h0.95v0.95h-0.95zM129.0 52.1h0.95v0.95h-0.95zM180.2 60.2h0.95v0.95h-0.95zM203.8 56.8h0.95v0.95h-0.95zM190.6 40.0h0.95v0.95h-0.95zM155.2 63.0h0.95v0.95h-0.95zM190.7 52.2h0.95v0.95h-0.95zM139.3 47.2h0.95v0.95h-0.95zM126.6 42.7h0.95v0.95h-0.95zM154.5 48.6h0.95v0.95h-0.95zM201.6 43.8h0.95v0.95h-0.95zM169.5 56.9h0.95v0.95h-0.95zM154.3 52.2h0.95v0.95h-0.95zM154.7 45.8h0.95v0.95h-0.95zM128.7 59.8h0.95v0.95h-0.95zM155.0 49.7h0.95v0.95h-0.95zM154.7 51.7h0.95v0.95h-0.95zM139.2 45.6h0.95v0.95h-0.95zM130.9 58.0h0.95v0.95h-0.95zM154.8 31.4h0.95v0.95h-0.95zM201.7 45.6h0.95v0.95h-0.95zM203.5 54.6h0.95v0.95h-0.95zM128.8 60.9h0.95v0.95h-0.95zM131.0 21.0h0.95v0.95h-0.95zM154.5 58.1h0.95v0.95h-0.95zM129.1 58.3h0.95v0.95h-0.95zM143.8 52.3h0.95v0.95h-0.95zM203.4 33.4h0.95v0.95h-0.95zM129.0 31.8h0.95v0.95h-0.95zM136.9 55.4h0.95v0.95h-0.95zM154.5 59.5h0.95v0.95h-0.95zM190.5 44.8h0.95v0.95h-0.95zM203.6 50.2h0.95v0.95h-0.95zM202.0 52.4h0.95v0.95h-0.95zM129.0 60.9h0.95v0.95h-0.95zM128.8 59.4h0.95v0.95h-0.95zM129.0 58.3h0.95v0.95h-0.95zM136.9 58.9h0.95v0.95h-0.95zM169.4 62.6h0.95v0.95h-0.95zM203.9 45.8h0.95v0.95h-0.95zM155.2 61.7h0.95v0.95h-0.95zM134.1 49.8h0.95v0.95h-0.95zM201.7 29.2h0.95v0.95h-0.95zM185.2 51.1h0.95v0.95h-0.95zM180.1 47.2h0.95v0.95h-0.95zM180.3 62.0h0.95v0.95h-0.95zM131.4 61.6h0.95v0.95h-0.95zM154.5 52.2h0.95v0.95h-0.95zM136.5 52.7h0.95v0.95h-0.95zM201.3 54.3h0.95v0.95h-0.95zM169.7 48.0h0.95v0.95h-0.95zM137.0 40.0h0.95v0.95h-0.95zM134.3 39.4h0.95v0.95h-0.95zM134.7 53.7h0.95v0.95h-0.95zM134.7 48.9h0.95v0.95h-0.95zM203.2 58.4h0.95v0.95h-0.95zM154.9 56.3h0.95v0.95h-0.95zM128.4 36.7h0.95v0.95h-0.95zM155.2 61.7h0.95v0.95h-0.95zM131.2 63.5h0.95v0.95h-0.95zM155.1 56.2h0.95v0.95h-0.95zM201.9 50.0h0.95v0.95h-0.95zM180.1 38.7h0.95v0.95h-0.95zM134.3 44.9h0.95v0.95h-0.95zM134.7 39.4h0.95v0.95h-0.95zM201.7 57.7h0.95v0.95h-0.95zM128.4 26.6h0.95v0.95h-0.95zM136.7 50.4h0.95v0.95h-0.95zM190.6 60.3h0.95v0.95h-0.95zM154.7 51.8h0.95v0.95h-0.95zM154.9 51.3h0.95v0.95h-0.95zM129.0 51.1h0.95v0.95h-0.95zM134.3 57.7h0.95v0.95h-0.95zM155.1 61.8h0.95v0.95h-0.95zM128.8 61.2h0.95v0.95h-0.95zM154.6 59.7h0.95v0.95h-0.95zM129.1 43.4h0.95v0.95h-0.95zM134.3 50.9h0.95v0.95h-0.95zM130.9 54.3h0.95v0.95h-0.95zM169.4 45.9h0.95v0.95h-0.95zM126.7 62.0h0.95v0.95h-0.95zM203.5 54.5h0.95v0.95h-0.95zM134.7 56.0h0.95v0.95h-0.95zM131.0 37.1h0.95v0.95h-0.95zM126.7 55.2h0.95v0.95h-0.95zM155.2 59.7h0.95v0.95h-0.95z" fill="#000" fill-opacity="0.5"/>
<path d="M126.8 58.6h0.95v0.95h-0.95zM128.6 46.7h0.95v0.95h-0.95zM169.8 43.1h0.95v0.95h-0.95zM131.0 61.9h0.95v0.95h-0.95zM128.4 59.4h0.95v0.95h-0.95zM134.6 62.6h0.95v0.95h-0.95zM169.7 59.9h0.95v0.95h-0.95zM126.7 51.9h0.95v0.95h-0.95zM136.9 54.6h0.95v0.95h-0.95zM154.4 47.6h0.95v0.95h-0.95zM128.5 57.8h0.95v0.95h-0.95zM154.4 57.0h0.95v0.95h-0.95zM139.0 61.2h0.95v0.95h-0.95zM128.7 60.1h0.95v0.95h-0.95zM185.4 52.2h0.95v0.95h-0.95zM201.2 61.8h0.95v0.95h-0.95zM139.5 35.7h0.95v0.95h-0.95zM203.8 34.4h0.95v0.95h-0.95zM155.3 55.3h0.95v0.95h-0.95zM139.2 57.0h0.95v0.95h-0.95zM129.2 56.1h0.95v0.95h-0.95zM128.6 38.6h0.95v0.95h-0.95zM136.5 38.9h0.95v0.95h-0.95zM169.6 45.0h0.95v0.95h-0.95zM128.7 51.5h0.95v0.95h-0.95zM126.5 37.3h0.95v0.95h-0.95zM201.5 51.0h0.95v0.95h-0.95zM128.8 50.9h0.95v0.95h-0.95zM126.8 57.9h0.95v0.95h-0.95zM201.5 41.6h0.95v0.95h-0.95zM128.5 35.1h0.95v0.95h-0.95zM131.4 61.8h0.95v0.95h-0.95zM154.7 57.3h0.95v0.95h-0.95zM134.3 61.9h0.95v0.95h-0.95zM154.7 62.7h0.95v0.95h-0.95zM155.1 50.0h0.95v0.95h-0.95zM128.5 57.1h0.95v0.95h-0.95zM139.5 47.5h0.95v0.95h-0.95zM201.5 43.5h0.95v0.95h-0.95zM139.3 53.5h0.95v0.95h-0.95zM169.8 54.9h0.95v0.95h-0.95zM139.1 57.6h0.95v0.95h-0.95zM137.1 44.5h0.95v0.95h-0.95zM169.8 55.1h0.95v0.95h-0.95zM131.4 53.6h0.95v0.95h-0.95zM203.3 44.5h0.95v0.95h-0.95zM128.4 58.6h0.95v0.95h-0.95zM139.5 46.7h0.95v0.95h-0.95zM126.4 55.3h0.95v0.95h-0.95zM134.4 33.4h0.95v0.95h-0.95zM139.1 49.5h0.95v0.95h-0.95zM154.5 33.4h0.95v0.95h-0.95zM169.8 41.4h0.95v0.95h-0.95zM136.7 57.7h0.95v0.95h-0.95zM134.1 59.7h0.95v0.95h-0.95zM134.2 47.3h0.95v0.95h-0.95zM134.7 61.1h0.95v0.95h-0.95zM154.9 49.6h0.95v0.95h-0.95zM201.5 53.0h0.95v0.95h-0.95zM203.3 56.1h0.95v0.95h-0.95zM131.0 51.1h0.95v0.95h-0.95zM129.1 56.2h0.95v0.95h-0.95zM155.3 45.5h0.95v0.95h-0.95zM131.5 53.1h0.95v0.95h-0.95zM203.3 37.6h0.95v0.95h-0.95zM203.7 39.9h0.95v0.95h-0.95zM129.0 58.0h0.95v0.95h-0.95zM126.6 46.8h0.95v0.95h-0.95zM128.7 50.2h0.95v0.95h-0.95zM131.0 37.1h0.95v0.95h-0.95zM131.4 60.5h0.95v0.95h-0.95zM130.9 38.7h0.95v0.95h-0.95zM129.0 58.0h0.95v0.95h-0.95zM154.5 47.4h0.95v0.95h-0.95zM155.1 45.2h0.95v0.95h-0.95zM154.6 42.2h0.95v0.95h-0.95zM131.1 38.5h0.95v0.95h-0.95zM126.9 44.2h0.95v0.95h-0.95zM126.5 30.5h0.95v0.95h-0.95zM154.8 59.5h0.95v0.95h-0.95zM134.5 55.9h0.95v0.95h-0.95zM137.0 59.8h0.95v0.95h-0.95zM203.2 58.3h0.95v0.95h-0.95zM154.5 55.5h0.95v0.95h-0.95zM136.6 48.2h0.95v0.95h-0.95zM136.8 36.1h0.95v0.95h-0.95zM137.1 60.0h0.95v0.95h-0.95zM130.9 48.3h0.95v0.95h-0.95zM139.3 61.0h0.95v0.95h-0.95zM137.1 56.6h0.95v0.95h-0.95zM139.2 50.9h0.95v0.95h-0.95zM154.8 61.7h0.95v0.95h-0.95zM201.6 52.9h0.95v0.95h-0.95zM128.5 56.1h0.95v0.95h-0.95zM185.5 55.9h0.95v0.95h-0.95zM203.2 63.0h0.95v0.95h-0.95zM154.4 60.0h0.95v0.95h-0.95zM154.5 45.1h0.95v0.95h-0.95zM190.7 42.7h0.95v0.95h-0.95zM154.6 38.4h0.95v0.95h-0.95zM130.9 43.5h0.95v0.95h-0.95zM169.8 45.7h0.95v0.95h-0.95zM155.0 33.2h0.95v0.95h-0.95zM130.9 55.7h0.95v0.95h-0.95zM134.5 52.1h0.95v0.95h-0.95zM137.1 62.4h0.95v0.95h-0.95zM154.7 52.4h0.95v0.95h-0.95zM144.0 56.3h0.95v0.95h-0.95zM137.0 60.5h0.95v0.95h-0.95zM129.1 57.8h0.95v0.95h-0.95zM131.4 60.7h0.95v0.95h-0.95zM201.4 48.7h0.95v0.95h-0.95zM128.6 44.3h0.95v0.95h-0.95zM202.0 38.8h0.95v0.95h-0.95zM131.5 61.2h0.95v0.95h-0.95zM203.9 30.9h0.95v0.95h-0.95zM130.9 21.1h0.95v0.95h-0.95zM136.7 51.6h0.95v0.95h-0.95zM201.3 60.2h0.95v0.95h-0.95zM201.5 55.8h0.95v0.95h-0.95zM134.1 59.6h0.95v0.95h-0.95zM203.4 51.6h0.95v0.95h-0.95zM154.5 60.0h0.95v0.95h-0.95zM136.7 39.7h0.95v0.95h-0.95zM136.9 59.6h0.95v0.95h-0.95zM131.4 43.2h0.95v0.95h-0.95zM185.3 45.7h0.95v0.95h-0.95zM154.7 53.2h0.95v0.95h-0.95zM130.9 57.0h0.95v0.95h-0.95zM134.3 52.9h0.95v0.95h-0.95zM155.0 53.7h0.95v0.95h-0.95zM138.9 41.1h0.95v0.95h-0.95zM134.7 61.6h0.95v0.95h-0.95zM128.7 38.7h0.95v0.95h-0.95zM136.8 40.4h0.95v0.95h-0.95zM136.8 50.6h0.95v0.95h-0.95zM128.6 53.9h0.95v0.95h-0.95zM139.1 49.1h0.95v0.95h-0.95zM154.3 35.4h0.95v0.95h-0.95zM203.3 36.2h0.95v0.95h-0.95zM129.0 49.7h0.95v0.95h-0.95zM185.5 57.8h0.95v0.95h-0.95zM129.0 43.0h0.95v0.95h-0.95zM137.1 43.3h0.95v0.95h-0.95zM130.9 49.0h0.95v0.95h-0.95zM134.7 39.6h0.95v0.95h-0.95zM128.7 55.3h0.95v0.95h-0.95zM154.9 59.9h0.95v0.95h-0.95zM131.4 45.4h0.95v0.95h-0.95zM131.5 61.4h0.95v0.95h-0.95zM136.8 41.3h0.95v0.95h-0.95zM203.5 53.6h0.95v0.95h-0.95zM201.8 40.7h0.95v0.95h-0.95zM154.6 55.1h0.95v0.95h-0.95zM169.6 52.5h0.95v0.95h-0.95zM203.4 49.4h0.95v0.95h-0.95zM154.8 27.3h0.95v0.95h-0.95zM128.5 58.7h0.95v0.95h-0.95zM203.9 58.4h0.95v0.95h-0.95zM154.5 56.5h0.95v0.95h-0.95zM154.4 58.0h0.95v0.95h-0.95zM128.8 53.8h0.95v0.95h-0.95zM139.5 39.2h0.95v0.95h-0.95zM201.4 45.1h0.95v0.95h-0.95zM130.9 56.7h0.95v0.95h-0.95zM201.5 54.1h0.95v0.95h-0.95zM154.9 60.7h0.95v0.95h-0.95zM169.7 45.6h0.95v0.95h-0.95zM190.4 49.3h0.95v0.95h-0.95zM201.9 50.4h0.95v0.95h-0.95zM126.6 45.7h0.95v0.95h-0.95zM131.2 46.5h0.95v0.95h-0.95zM154.6 54.4h0.95v0.95h-0.95zM154.4 60.9h0.95v0.95h-0.95zM203.6 51.5h0.95v0.95h-0.95zM204.0 48.5h0.95v0.95h-0.95zM154.5 57.6h0.95v0.95h-0.95zM154.5 49.0h0.95v0.95h-0.95zM126.9 55.5h0.95v0.95h-0.95zM203.2 59.0h0.95v0.95h-0.95zM128.9 61.3h0.95v0.95h-0.95zM203.8 41.2h0.95v0.95h-0.95zM203.8 38.4h0.95v0.95h-0.95zM203.4 50.3h0.95v0.95h-0.95zM131.0 45.5h0.95v0.95h-0.95zM185.6 50.4h0.95v0.95h-0.95zM155.1 62.4h0.95v0.95h-0.95zM129.0 53.5h0.95v0.95h-0.95zM154.3 48.3h0.95v0.95h-0.95zM128.8 54.7h0.95v0.95h-0.95zM128.9 56.3h0.95v0.95h-0.95zM126.4 62.5h0.95v0.95h-0.95zM128.6 60.5h0.95v0.95h-0.95zM154.9 55.9h0.95v0.95h-0.95zM136.8 43.1h0.95v0.95h-0.95zM139.0 39.9h0.95v0.95h-0.95zM139.1 37.8h0.95v0.95h-0.95zM126.9 58.8h0.95v0.95h-0.95zM131.3 60.9h0.95v0.95h-0.95zM169.7 53.6h0.95v0.95h-0.95zM154.3 51.0h0.95v0.95h-0.95zM129.1 51.1h0.95v0.95h-0.95zM134.1 63.5h0.95v0.95h-0.95zM155.0 53.0h0.95v0.95h-0.95zM169.5 52.1h0.95v0.95h-0.95zM154.7 60.1h0.95v0.95h-0.95zM203.4 51.7h0.95v0.95h-0.95zM138.9 55.3h0.95v0.95h-0.95zM129.0 60.3h0.95v0.95h-0.95zM126.4 47.0h0.95v0.95h-0.95zM128.9 55.7h0.95v0.95h-0.95zM154.6 55.8h0.95v0.95h-0.95zM131.5 41.2h0.95v0.95h-0.95zM180.3 51.5h0.95v0.95h-0.95zM136.9 51.3h0.95v0.95h-0.95zM126.4 24.6h0.95v0.95h-0.95zM136.9 35.7h0.95v0.95h-0.95zM155.0 62.9h0.95v0.95h-0.95zM126.5 55.7h0.95v0.95h-0.95zM134.6 54.3h0.95v0.95h-0.95zM131.2 16.8h0.95v0.95h-0.95zM131.5 48.9h0.95v0.95h-0.95zM203.7 61.2h0.95v0.95h-0.95zM201.2 50.6h0.95v0.95h-0.95zM203.5 55.9h0.95v0.95h-0.95zM130.9 56.0h0.95v0.95h-0.95zM126.6 56.7h0.95v0.95h-0.95zM131.0 54.5h0.95v0.95h-0.95zM139.4 62.4h0.95v0.95h-0.95zM126.9 60.1h0.95v0.95h-0.95zM190.6 56.7h0.95v0.95h-0.95zM128.7 42.4h0.95v0.95h-0.95zM137.0 54.1h0.95v0.95h-0.95zM143.9 44.2h0.95v0.95h-0.95zM190.4 49.5h0.95v0.95h-0.95zM204.0 49.7h0.95v0.95h-0.95zM129.1 29.5h0.95v0.95h-0.95zM201.6 25.2h0.95v0.95h-0.95zM203.9 32.8h0.95v0.95h-0.95zM155.1 62.0h0.95v0.95h-0.95zM203.3 52.5h0.95v0.95h-0.95zM126.7 36.5h0.95v0.95h-0.95zM144.2 63.2h0.95v0.95h-0.95zM126.4 55.1h0.95v0.95h-0.95zM126.9 45.2h0.95v0.95h-0.95zM128.7 35.3h0.95v0.95h-0.95zM126.4 61.7h0.95v0.95h-0.95zM203.4 56.5h0.95v0.95h-0.95zM138.9 49.1h0.95v0.95h-0.95zM203.3 60.7h0.95v0.95h-0.95zM131.1 42.2h0.95v0.95h-0.95zM201.2 53.6h0.95v0.95h-0.95zM190.3 59.7h0.95v0.95h-0.95zM139.0 44.9h0.95v0.95h-0.95zM131.1 37.3h0.95v0.95h-0.95zM128.8 25.0h0.95v0.95h-0.95zM131.4 40.4h0.95v0.95h-0.95zM128.7 59.2h0.95v0.95h-0.95zM139.2 52.2h0.95v0.95h-0.95zM203.3 48.4h0.95v0.95h-0.95zM203.6 46.6h0.95v0.95h-0.95zM154.9 53.7h0.95v0.95h-0.95zM203.9 57.7h0.95v0.95h-0.95zM130.9 62.5h0.95v0.95h-0.95zM128.8 58.5h0.95v0.95h-0.95zM144.0 62.8h0.95v0.95h-0.95zM128.6 55.1h0.95v0.95h-0.95zM131.1 38.7h0.95v0.95h-0.95zM139.1 56.5h0.95v0.95h-0.95zM139.1 51.3h0.95v0.95h-0.95zM129.1 44.4h0.95v0.95h-0.95zM130.9 47.9h0.95v0.95h-0.95zM154.4 52.3h0.95v0.95h-0.95zM185.6 54.8h0.95v0.95h-0.95zM128.8 58.7h0.95v0.95h-0.95zM154.8 40.9h0.95v0.95h-0.95zM136.8 60.3h0.95v0.95h-0.95zM201.3 56.8h0.95v0.95h-0.95zM154.6 54.9h0.95v0.95h-0.95zM154.9 43.4h0.95v0.95h-0.95zM155.2 56.4h0.95v0.95h-0.95zM128.4 57.0h0.95v0.95h-0.95zM131.5 56.3h0.95v0.95h-0.95z" fill="#000" fill-opacity="0.5"/>
<path d="M203.7 51.6h0.95v0.95h-0.95zM155.2 62.4h0.95v0.95h-0.95zM131.2 54.8h0.95v0.95h-0.95zM180.1 60.6h0.95v0.95h-0.95zM136.8 56.8h0.95v0.95h-0.95zM128.7 51.9h0.95v0.95h-0.95zM128.4 51.8h0.95v0.95h-0.95zM137.0 61.1h0.95v0.95h-0.95zM180.4 49.1h0.95v0.95h-0.95zM190.6 54.5h0.95v0.95h-0.95zM134.1 55.7h0.95v0.95h-0.95zM138.9 57.0h0.95v0.95h-0.95zM154.4 62.6h0.95v0.95h-0.95zM134.5 50.7h0.95v0.95h-0.95zM131.2 61.8h0.95v0.95h-0.95zM201.8 62.9h0.95v0.95h-0.95zM201.4 17.1h0.95v0.95h-0.95zM131.1 41.7h0.95v0.95h-0.95zM154.9 61.9h0.95v0.95h-0.95zM129.0 59.3h0.95v0.95h-0.95zM136.9 50.7h0.95v0.95h-0.95zM203.5 55.5h0.95v0.95h-0.95zM203.4 52.4h0.95v0.95h-0.95zM126.6 57.9h0.95v0.95h-0.95zM131.4 55.7h0.95v0.95h-0.95zM131.0 63.3h0.95v0.95h-0.95zM129.1 57.4h0.95v0.95h-0.95zM201.7 55.2h0.95v0.95h-0.95zM128.6 48.4h0.95v0.95h-0.95zM134.6 46.8h0.95v0.95h-0.95zM128.6 52.2h0.95v0.95h-0.95zM128.7 57.6h0.95v0.95h-0.95zM201.9 54.3h0.95v0.95h-0.95zM126.9 63.1h0.95v0.95h-0.95zM131.3 55.8h0.95v0.95h-0.95zM203.7 50.6h0.95v0.95h-0.95zM134.2 55.7h0.95v0.95h-0.95zM128.7 32.9h0.95v0.95h-0.95zM185.3 29.2h0.95v0.95h-0.95zM128.9 53.1h0.95v0.95h-0.95zM201.3 14.0h0.95v0.95h-0.95zM139.2 43.7h0.95v0.95h-0.95zM203.3 46.3h0.95v0.95h-0.95zM131.4 19.4h0.95v0.95h-0.95zM129.0 37.1h0.95v0.95h-0.95zM134.1 58.7h0.95v0.95h-0.95zM126.8 56.3h0.95v0.95h-0.95zM201.2 61.0h0.95v0.95h-0.95zM126.3 56.2h0.95v0.95h-0.95zM134.3 56.6h0.95v0.95h-0.95zM129.1 58.0h0.95v0.95h-0.95zM134.6 53.6h0.95v0.95h-0.95zM154.8 54.4h0.95v0.95h-0.95zM154.9 61.7h0.95v0.95h-0.95zM155.1 54.3h0.95v0.95h-0.95zM134.1 54.0h0.95v0.95h-0.95zM129.2 45.0h0.95v0.95h-0.95zM154.4 52.0h0.95v0.95h-0.95zM126.8 41.4h0.95v0.95h-0.95zM201.4 33.3h0.95v0.95h-0.95zM139.0 59.5h0.95v0.95h-0.95zM128.5 61.6h0.95v0.95h-0.95zM190.4 47.8h0.95v0.95h-0.95zM169.5 54.6h0.95v0.95h-0.95zM154.8 55.5h0.95v0.95h-0.95zM201.9 34.6h0.95v0.95h-0.95zM131.4 44.5h0.95v0.95h-0.95zM154.8 46.4h0.95v0.95h-0.95zM137.1 44.2h0.95v0.95h-0.95zM201.9 60.3h0.95v0.95h-0.95zM154.9 61.7h0.95v0.95h-0.95zM136.5 57.6h0.95v0.95h-0.95zM154.8 46.6h0.95v0.95h-0.95zM154.9 46.2h0.95v0.95h-0.95zM134.7 55.3h0.95v0.95h-0.95zM154.6 54.4h0.95v0.95h-0.95zM190.3 56.3h0.95v0.95h-0.95zM136.6 34.4h0.95v0.95h-0.95zM139.1 58.4h0.95v0.95h-0.95zM126.5 56.1h0.95v0.95h-0.95zM129.2 50.5h0.95v0.95h-0.95zM203.6 44.6h0.95v0.95h-0.95zM190.5 52.6h0.95v0.95h-0.95zM154.7 49.1h0.95v0.95h-0.95zM131.2 51.8h0.95v0.95h-0.95zM144.2 45.5h0.95v0.95h-0.95zM190.5 53.6h0.95v0.95h-0.95zM154.8 56.7h0.95v0.95h-0.95zM201.6 49.7h0.95v0.95h-0.95zM136.8 58.8h0.95v0.95h-0.95zM139.2 63.7h0.95v0.95h-0.95zM201.7 52.8h0.95v0.95h-0.95zM134.2 53.0h0.95v0.95h-0.95zM128.5 57.2h0.95v0.95h-0.95zM128.6 47.8h0.95v0.95h-0.95zM154.4 51.4h0.95v0.95h-0.95zM144.1 47.0h0.95v0.95h-0.95zM130.9 57.0h0.95v0.95h-0.95zM155.1 56.2h0.95v0.95h-0.95zM154.9 51.2h0.95v0.95h-0.95zM203.5 52.4h0.95v0.95h-0.95zM128.5 52.7h0.95v0.95h-0.95zM134.3 55.9h0.95v0.95h-0.95zM131.1 28.5h0.95v0.95h-0.95zM144.1 52.6h0.95v0.95h-0.95zM154.7 45.5h0.95v0.95h-0.95zM204.0 56.7h0.95v0.95h-0.95zM136.7 58.6h0.95v0.95h-0.95zM155.1 51.6h0.95v0.95h-0.95zM129.2 46.6h0.95v0.95h-0.95zM201.8 48.8h0.95v0.95h-0.95zM129.0 45.3h0.95v0.95h-0.95zM128.5 56.0h0.95v0.95h-0.95zM154.4 47.7h0.95v0.95h-0.95zM169.5 34.0h0.95v0.95h-0.95zM180.2 50.0h0.95v0.95h-0.95zM155.2 43.2h0.95v0.95h-0.95zM155.1 57.4h0.95v0.95h-0.95zM154.6 61.7h0.95v0.95h-0.95zM155.3 52.8h0.95v0.95h-0.95zM190.4 42.7h0.95v0.95h-0.95zM131.0 40.6h0.95v0.95h-0.95zM203.2 47.7h0.95v0.95h-0.95zM201.9 28.6h0.95v0.95h-0.95zM128.8 58.8h0.95v0.95h-0.95zM131.0 44.5h0.95v0.95h-0.95zM154.8 51.8h0.95v0.95h-0.95zM128.6 49.0h0.95v0.95h-0.95zM203.7 44.2h0.95v0.95h-0.95zM129.2 38.8h0.95v0.95h-0.95zM139.1 54.3h0.95v0.95h-0.95zM139.5 52.4h0.95v0.95h-0.95zM154.5 60.1h0.95v0.95h-0.95zM136.7 54.6h0.95v0.95h-0.95zM134.4 44.6h0.95v0.95h-0.95zM155.0 36.2h0.95v0.95h-0.95zM126.5 62.4h0.95v0.95h-0.95zM139.4 57.6h0.95v0.95h-0.95zM139.0 56.2h0.95v0.95h-0.95zM155.1 59.3h0.95v0.95h-0.95zM169.5 52.6h0.95v0.95h-0.95zM203.7 62.8h0.95v0.95h-0.95zM139.1 38.1h0.95v0.95h-0.95zM131.5 61.3h0.95v0.95h-0.95zM154.3 62.4h0.95v0.95h-0.95zM128.6 57.5h0.95v0.95h-0.95zM203.7 40.9h0.95v0.95h-0.95zM128.9 55.3h0.95v0.95h-0.95zM126.4 56.4h0.95v0.95h-0.95zM137.0 53.3h0.95v0.95h-0.95zM128.6 44.2h0.95v0.95h-0.95zM155.1 51.3h0.95v0.95h-0.95zM154.8 45.0h0.95v0.95h-0.95zM155.2 50.5h0.95v0.95h-0.95zM144.1 43.4h0.95v0.95h-0.95zM201.8 64.2h0.95v0.95h-0.95zM203.6 46.9h0.95v0.95h-0.95zM134.4 62.2h0.95v0.95h-0.95zM131.4 53.9h0.95v0.95h-0.95zM129.2 40.9h0.95v0.95h-0.95zM154.8 61.2h0.95v0.95h-0.95zM136.9 48.7h0.95v0.95h-0.95zM129.0 50.8h0.95v0.95h-0.95zM201.5 45.8h0.95v0.95h-0.95zM201.5 24.8h0.95v0.95h-0.95zM129.0 58.7h0.95v0.95h-0.95zM169.5 53.1h0.95v0.95h-0.95zM169.6 48.8h0.95v0.95h-0.95zM154.8 37.9h0.95v0.95h-0.95zM201.8 52.4h0.95v0.95h-0.95zM131.3 48.6h0.95v0.95h-0.95zM201.9 41.4h0.95v0.95h-0.95zM203.7 53.5h0.95v0.95h-0.95zM128.5 20.4h0.95v0.95h-0.95zM203.4 57.8h0.95v0.95h-0.95zM203.6 38.3h0.95v0.95h-0.95zM155.1 57.4h0.95v0.95h-0.95zM131.0 49.1h0.95v0.95h-0.95zM154.4 53.6h0.95v0.95h-0.95zM154.4 40.2h0.95v0.95h-0.95zM126.4 42.6h0.95v0.95h-0.95zM203.5 48.8h0.95v0.95h-0.95zM201.2 55.8h0.95v0.95h-0.95zM128.9 48.6h0.95v0.95h-0.95zM203.4 48.5h0.95v0.95h-0.95zM180.1 36.6h0.95v0.95h-0.95zM154.5 53.1h0.95v0.95h-0.95zM128.5 50.0h0.95v0.95h-0.95zM131.2 50.6h0.95v0.95h-0.95zM155.2 51.8h0.95v0.95h-0.95zM155.3 59.5h0.95v0.95h-0.95zM129.1 43.9h0.95v0.95h-0.95zM128.7 35.0h0.95v0.95h-0.95zM126.6 48.2h0.95v0.95h-0.95zM203.7 55.2h0.95v0.95h-0.95zM128.9 60.4h0.95v0.95h-0.95zM136.6 61.3h0.95v0.95h-0.95zM203.9 36.4h0.95v0.95h-0.95zM129.2 47.2h0.95v0.95h-0.95zM203.3 53.6h0.95v0.95h-0.95zM137.1 54.9h0.95v0.95h-0.95zM190.7 52.6h0.95v0.95h-0.95zM137.1 55.4h0.95v0.95h-0.95zM128.4 31.9h0.95v0.95h-0.95zM134.2 36.3h0.95v0.95h-0.95zM203.6 46.8h0.95v0.95h-0.95zM138.9 60.4h0.95v0.95h-0.95zM154.4 54.4h0.95v0.95h-0.95zM201.6 41.4h0.95v0.95h-0.95zM131.2 44.7h0.95v0.95h-0.95zM129.1 62.9h0.95v0.95h-0.95zM128.7 22.5h0.95v0.95h-0.95zM126.7 32.4h0.95v0.95h-0.95zM126.7 54.3h0.95v0.95h-0.95zM137.1 60.4h0.95v0.95h-0.95zM139.5 53.7h0.95v0.95h-0.95zM126.6 42.8h0.95v0.95h-0.95zM128.6 52.8h0.95v0.95h-0.95zM139.0 52.3h0.95v0.95h-0.95zM154.3 60.2h0.95v0.95h-0.95zM128.7 54.6h0.95v0.95h-0.95zM126.6 55.7h0.95v0.95h-0.95zM126.8 57.7h0.95v0.95h-0.95zM155.1 37.8h0.95v0.95h-0.95zM134.2 62.8h0.95v0.95h-0.95zM126.4 55.5h0.95v0.95h-0.95zM126.5 49.4h0.95v0.95h-0.95zM139.5 60.5h0.95v0.95h-0.95zM203.9 32.7h0.95v0.95h-0.95zM144.0 53.3h0.95v0.95h-0.95zM128.9 39.8h0.95v0.95h-0.95zM203.3 43.3h0.95v0.95h-0.95zM131.1 57.4h0.95v0.95h-0.95zM139.0 46.2h0.95v0.95h-0.95zM203.5 52.5h0.95v0.95h-0.95zM139.5 54.5h0.95v0.95h-0.95zM203.8 53.5h0.95v0.95h-0.95zM203.7 45.9h0.95v0.95h-0.95zM130.9 48.0h0.95v0.95h-0.95zM155.2 60.1h0.95v0.95h-0.95zM154.5 55.8h0.95v0.95h-0.95zM128.9 47.6h0.95v0.95h-0.95zM126.3 54.3h0.95v0.95h-0.95zM203.4 54.8h0.95v0.95h-0.95zM203.3 43.2h0.95v0.95h-0.95zM131.5 48.9h0.95v0.95h-0.95zM144.0 52.3h0.95v0.95h-0.95zM154.3 48.2h0.95v0.95h-0.95zM201.6 55.3h0.95v0.95h-0.95zM134.3 54.1h0.95v0.95h-0.95zM201.7 32.5h0.95v0.95h-0.95zM203.8 54.4h0.95v0.95h-0.95zM128.4 38.3h0.95v0.95h-0.95zM128.9 37.2h0.95v0.95h-0.95zM144.1 47.0h0.95v0.95h-0.95zM155.0 45.8h0.95v0.95h-0.95zM126.5 51.4h0.95v0.95h-0.95zM128.5 43.6h0.95v0.95h-0.95zM128.9 50.1h0.95v0.95h-0.95zM134.7 61.4h0.95v0.95h-0.95zM154.4 53.2h0.95v0.95h-0.95zM154.7 41.7h0.95v0.95h-0.95zM134.2 44.3h0.95v0.95h-0.95zM155.1 51.4h0.95v0.95h-0.95zM155.1 52.5h0.95v0.95h-0.95zM155.0 52.9h0.95v0.95h-0.95zM203.3 58.2h0.95v0.95h-0.95zM136.6 42.5h0.95v0.95h-0.95zM128.5 61.5h0.95v0.95h-0.95zM128.5 42.7h0.95v0.95h-0.95zM185.6 32.0h0.95v0.95h-0.95zM203.6 59.4h0.95v0.95h-0.95zM128.8 56.2h0.95v0.95h-0.95zM144.0 43.0h0.95v0.95h-0.95zM126.7 54.1h0.95v0.95h-0.95zM155.1 52.6h0.95v0.95h-0.95zM154.7 47.5h0.95v0.95h-0.95zM129.2 59.7h0.95v0.95h-0.95zM201.7 55.0h0.95v0.95h-0.95zM180.2 61.7h0.95v0.95h-0.95zM201.3 50.8h0.95v0.95h-0.95zM126.8 56.8h0.95v0.95h-0.95zM126.5 46.1h0.95v0.95h-0.95z" fill="#000" fill-opacity="0.5"/>
<path d="M131.4 45.3h0.95v0.95h-0.95zM203.3 43.3h0.95v0.95h-0.95zM155.1 62.3h0.95v0.95h-0.95zM203.2 58.6h0.95v0.95h-0.95zM203.4 21.1h0.95v0.95h-0.95zM154.5 61.7h0.95v0.95h-0.95zM203.7 59.0h0.95v0.95h-0.95zM139.0 58.1h0.95v0.95h-0.95zM155.2 59.6h0.95v0.95h-0.95zM201.5 59.7h0.95v0.95h-0.95zM136.6 37.8h0.95v0.95h-0.95zM130.9 56.1h0.95v0.95h-0.95zM136.5 31.0h0.95v0.95h-0.95zM201.2 52.4h0.95v0.95h-0.95zM201.7 59.7h0.95v0.95h-0.95zM136.8 59.4h0.95v0.95h-0.95zM155.1 63.0h0.95v0.95h-0.95zM154.5 50.1h0.95v0.95h-0.95zM134.6 62.9h0.95v0.95h-0.95zM180.2 48.0h0.95v0.95h-0.95zM154.9 56.6h0.95v0.95h-0.95zM129.1 58.9h0.95v0.95h-0.95zM154.8 49.2h0.95v0.95h-0.95zM129.0 63.3h0.95v0.95h-0.95zM126.7 60.0h0.95v0.95h-0.95zM129.2 40.2h0.95v0.95h-0.95zM131.1 45.2h0.95v0.95h-0.95zM155.2 59.0h0.95v0.95h-0.95zM129.0 61.5h0.95v0.95h-0.95zM128.7 54.1h0.95v0.95h-0.95zM169.8 63.0h0.95v0.95h-0.95zM129.1 61.6h0.95v0.95h-0.95zM134.3 54.2h0.95v0.95h-0.95zM169.8 27.8h0.95v0.95h-0.95zM203.3 32.8h0.95v0.95h-0.95zM134.3 63.0h0.95v0.95h-0.95zM155.3 42.4h0.95v0.95h-0.95zM134.4 42.9h0.95v0.95h-0.95zM134.3 42.5h0.95v0.95h-0.95zM169.6 33.9h0.95v0.95h-0.95zM128.9 51.3h0.95v0.95h-0.95zM136.5 55.8h0.95v0.95h-0.95zM131.2 62.0h0.95v0.95h-0.95zM201.9 63.0h0.95v0.95h-0.95zM139.1 37.6h0.95v0.95h-0.95zM154.5 28.5h0.95v0.95h-0.95zM129.0 59.7h0.95v0.95h-0.95zM154.9 62.8h0.95v0.95h-0.95zM131.5 49.9h0.95v0.95h-0.95zM203.3 45.6h0.95v0.95h-0.95zM155.1 58.1h0.95v0.95h-0.95zM128.5 63.6h0.95v0.95h-0.95zM128.9 33.7h0.95v0.95h-0.95zM129.0 51.7h0.95v0.95h-0.95zM154.3 45.2h0.95v0.95h-0.95zM131.4 48.0h0.95v0.95h-0.95zM201.8 57.9h0.95v0.95h-0.95zM155.1 34.7h0.95v0.95h-0.95zM128.6 58.5h0.95v0.95h-0.95zM126.6 54.2h0.95v0.95h-0.95zM134.3 60.9h0.95v0.95h-0.95zM126.3 62.6h0.95v0.95h-0.95zM154.8 49.6h0.95v0.95h-0.95zM154.3 51.2h0.95v0.95h-0.95zM185.6 42.3h0.95v0.95h-0.95zM134.7 54.6h0.95v0.95h-0.95zM134.1 51.2h0.95v0.95h-0.95zM128.5 50.6h0.95v0.95h-0.95zM155.2 60.0h0.95v0.95h-0.95zM128.5 33.8h0.95v0.95h-0.95zM201.5 62.3h0.95v0.95h-0.95zM202.0 48.4h0.95v0.95h-0.95zM131.5 58.8h0.95v0.95h-0.95zM128.8 54.8h0.95v0.95h-0.95zM203.2 61.6h0.95v0.95h-0.95zM131.4 60.7h0.95v0.95h-0.95zM155.1 59.4h0.95v0.95h-0.95zM154.4 54.1h0.95v0.95h-0.95zM129.0 46.5h0.95v0.95h-0.95zM201.7 47.3h0.95v0.95h-0.95zM180.0 46.7h0.95v0.95h-0.95zM154.8 59.5h0.95v0.95h-0.95zM134.5 50.0h0.95v0.95h-0.95zM154.4 46.0h0.95v0.95h-0.95zM155.2 53.8h0.95v0.95h-0.95zM128.5 25.0h0.95v0.95h-0.95zM129.1 60.4h0.95v0.95h-0.95zM155.1 59.4h0.95v0.95h-0.95zM154.3 61.9h0.95v0.95h-0.95zM129.2 57.5h0.95v0.95h-0.95zM138.9 61.4h0.95v0.95h-0.95zM154.6 56.4h0.95v0.95h-0.95zM128.6 52.7h0.95v0.95h-0.95zM202.0 59.5h0.95v0.95h-0.95zM201.9 41.1h0.95v0.95h-0.95zM128.4 52.2h0.95v0.95h-0.95zM155.2 59.6h0.95v0.95h-0.95zM155.3 51.1h0.95v0.95h-0.95zM154.4 43.8h0.95v0.95h-0.95zM185.3 34.4h0.95v0.95h-0.95zM185.4 52.6h0.95v0.95h-0.95zM136.7 30.1h0.95v0.95h-0.95zM154.7 55.9h0.95v0.95h-0.95zM134.7 42.0h0.95v0.95h-0.95zM139.1 58.0h0.95v0.95h-0.95zM128.9 55.1h0.95v0.95h-0.95zM126.4 51.3h0.95v0.95h-0.95zM134.2 46.2h0.95v0.95h-0.95zM131.5 23.1h0.95v0.95h-0.95zM128.7 47.4h0.95v0.95h-0.95zM136.9 61.2h0.95v0.95h-0.95zM136.8 34.0h0.95v0.95h-0.95zM154.4 56.5h0.95v0.95h-0.95zM201.3 37.7h0.95v0.95h-0.95zM139.3 24.4h0.95v0.95h-0.95zM190.6 56.5h0.95v0.95h-0.95zM126.9 53.6h0.95v0.95h-0.95zM126.5 61.1h0.95v0.95h-0.95zM128.4 50.1h0.95v0.95h-0.95zM134.7 58.1h0.95v0.95h-0.95zM154.6 58.6h0.95v0.95h-0.95zM201.5 51.8h0.95v0.95h-0.95zM131.4 60.8h0.95v0.95h-0.95zM155.0 56.4h0.95v0.95h-0.95zM185.5 57.7h0.95v0.95h-0.95zM131.2 55.9h0.95v0.95h-0.95zM169.4 55.5h0.95v0.95h-0.95zM203.8 57.0h0.95v0.95h-0.95zM136.8 60.1h0.95v0.95h-0.95zM129.1 54.2h0.95v0.95h-0.95zM128.9 35.6h0.95v0.95h-0.95zM154.9 55.8h0.95v0.95h-0.95zM203.8 59.2h0.95v0.95h-0.95zM129.0 50.0h0.95v0.95h-0.95zM126.5 59.8h0.95v0.95h-0.95zM155.0 61.3h0.95v0.95h-0.95zM169.7 58.5h0.95v0.95h-0.95zM131.0 50.7h0.95v0.95h-0.95zM130.9 33.5h0.95v0.95h-0.95zM155.1 29.9h0.95v0.95h-0.95zM201.4 53.2h0.95v0.95h-0.95zM154.7 45.3h0.95v0.95h-0.95zM139.0 51.1h0.95v0.95h-0.95zM136.7 61.3h0.95v0.95h-0.95zM134.6 62.2h0.95v0.95h-0.95zM131.1 52.5h0.95v0.95h-0.95zM204.0 53.9h0.95v0.95h-0.95zM126.4 59.4h0.95v0.95h-0.95zM128.4 47.6h0.95v0.95h-0.95zM126.8 56.1h0.95v0.95h-0.95zM128.4 29.0h0.95v0.95h-0.95zM203.8 44.6h0.95v0.95h-0.95zM155.3 56.8h0.95v0.95h-0.95zM169.8 42.7h0.95v0.95h-0.95zM129.0 60.1h0.95v0.95h-0.95zM201.6 52.7h0.95v0.95h-0.95zM129.1 46.0h0.95v0.95h-0.95zM128.4 41.4h0.95v0.95h-0.95zM203.7 61.2h0.95v0.95h-0.95zM144.2 62.2h0.95v0.95h-0.95zM137.0 47.5h0.95v0.95h-0.95zM126.6 56.2h0.95v0.95h-0.95zM185.2 60.3h0.95v0.95h-0.95zM154.3 58.5h0.95v0.95h-0.95zM128.8 33.7h0.95v0.95h-0.95zM131.2 57.1h0.95v0.95h-0.95zM136.7 63.6h0.95v0.95h-0.95zM134.2 60.8h0.95v0.95h-0.95zM139.0 27.3h0.95v0.95h-0.95zM131.2 47.0h0.95v0.95h-0.95zM203.8 56.9h0.95v0.95h-0.95zM131.3 37.4h0.95v0.95h-0.95zM154.8 45.8h0.95v0.95h-0.95zM155.2 45.1h0.95v0.95h-0.95zM155.2 62.9h0.95v0.95h-0.95zM126.6 51.5h0.95v0.95h-0.95zM201.4 51.9h0.95v0.95h-0.95zM129.0 40.3h0.95v0.95h-0.95zM134.5 63.4h0.95v0.95h-0.95zM169.4 31.6h0.95v0.95h-0.95zM154.3 46.5h0.95v0.95h-0.95zM201.9 54.3h0.95v0.95h-0.95zM144.2 61.3h0.95v0.95h-0.95zM136.7 54.3h0.95v0.95h-0.95zM134.6 56.8h0.95v0.95h-0.95zM169.5 52.7h0.95v0.95h-0.95zM139.2 36.3h0.95v0.95h-0.95zM137.1 49.8h0.95v0.95h-0.95zM154.8 60.7h0.95v0.95h-0.95zM131.4 44.3h0.95v0.95h-0.95zM203.9 52.6h0.95v0.95h-0.95zM136.5 42.1h0.95v0.95h-0.95zM126.8 19.1h0.95v0.95h-0.95zM129.2 40.7h0.95v0.95h-0.95zM155.2 57.5h0.95v0.95h-0.95zM203.7 45.8h0.95v0.95h-0.95zM137.1 46.4h0.95v0.95h-0.95zM129.1 46.4h0.95v0.95h-0.95zM131.3 58.6h0.95v0.95h-0.95zM136.7 47.7h0.95v0.95h-0.95zM128.8 52.2h0.95v0.95h-0.95zM128.9 58.2h0.95v0.95h-0.95zM154.9 46.5h0.95v0.95h-0.95zM139.4 54.5h0.95v0.95h-0.95zM129.1 52.0h0.95v0.95h-0.95zM128.9 57.9h0.95v0.95h-0.95zM128.6 29.6h0.95v0.95h-0.95zM129.2 44.9h0.95v0.95h-0.95zM201.4 59.2h0.95v0.95h-0.95zM154.8 44.3h0.95v0.95h-0.95zM136.7 60.4h0.95v0.95h-0.95zM129.0 49.5h0.95v0.95h-0.95zM131.4 48.0h0.95v0.95h-0.95zM190.5 54.6h0.95v0.95h-0.95zM154.7 47.8h0.95v0.95h-0.95zM201.9 38.3h0.95v0.95h-0.95zM138.9 63.6h0.95v0.95h-0.95zM128.8 51.8h0.95v0.95h-0.95zM203.3 54.9h0.95v0.95h-0.95zM134.6 63.8h0.95v0.95h-0.95zM203.9 41.2h0.95v0.95h-0.95zM139.1 57.0h0.95v0.95h-0.95zM154.6 54.2h0.95v0.95h-0.95zM203.3 61.3h0.95v0.95h-0.95zM154.3 48.1h0.95v0.95h-0.95zM128.6 56.6h0.95v0.95h-0.95zM203.9 33.9h0.95v0.95h-0.95zM155.3 51.5h0.95v0.95h-0.95zM203.4 48.5h0.95v0.95h-0.95zM203.9 44.6h0.95v0.95h-0.95zM131.5 61.3h0.95v0.95h-0.95zM134.4 60.3h0.95v0.95h-0.95zM144.2 59.1h0.95v0.95h-0.95zM136.5 49.0h0.95v0.95h-0.95zM131.1 58.2h0.95v0.95h-0.95zM128.6 63.3h0.95v0.95h-0.95zM126.6 48.0h0.95v0.95h-0.95zM202.0 27.3h0.95v0.95h-0.95zM138.9 51.1h0.95v0.95h-0.95zM204.0 46.7h0.95v0.95h-0.95zM154.9 40.1h0.95v0.95h-0.95zM131.1 48.1h0.95v0.95h-0.95zM131.5 56.9h0.95v0.95h-0.95zM180.1 56.4h0.95v0.95h-0.95zM131.0 36.0h0.95v0.95h-0.95zM134.4 42.3h0.95v0.95h-0.95zM155.2 63.1h0.95v0.95h-0.95zM126.5 57.9h0.95v0.95h-0.95zM154.6 47.8h0.95v0.95h-0.95zM131.3 36.1h0.95v0.95h-0.95zM136.6 60.3h0.95v0.95h-0.95zM126.6 59.3h0.95v0.95h-0.95zM154.7 54.9h0.95v0.95h-0.95zM128.7 57.7h0.95v0.95h-0.95zM136.5 35.3h0.95v0.95h-0.95zM139.4 58.1h0.95v0.95h-0.95zM138.9 51.6h0.95v0.95h-0.95zM154.9 45.7h0.95v0.95h-0.95zM129.0 28.2h0.95v0.95h-0.95zM154.6 52.4h0.95v0.95h-0.95zM134.5 56.9h0.95v0.95h-0.95zM203.5 40.6h0.95v0.95h-0.95zM139.2 57.8h0.95v0.95h-0.95zM154.5 34.2h0.95v0.95h-0.95zM203.8 38.8h0.95v0.95h-0.95zM203.9 57.0h0.95v0.95h-0.95zM129.1 60.2h0.95v0.95h-0.95zM139.1 54.7h0.95v0.95h-0.95zM155.1 56.0h0.95v0.95h-0.95zM169.7 48.6h0.95v0.95h-0.95zM154.8 44.2h0.95v0.95h-0.95zM128.4 57.3h0.95v0.95h-0.95zM128.7 57.5h0.95v0.95h-0.95zM128.9 46.1h0.95v0.95h-0.95zM126.9 52.9h0.95v0.95h-0.95zM185.3 61.3h0.95v0.95h-0.95zM154.9 48.8h0.95v0.95h-0.95zM136.8 53.0h0.95v0.95h-0.95zM203.4 40.7h0.95v0.95h-0.95zM134.5 57.2h0.95v0.95h-0.95zM154.5 61.6h0.95v0.95h-0.95zM154.4 59.4h0.95v0.95h-0.95zM185.4 39.9h0.95v0.95h-0.95z" fill="#000" fill-opacity="0.5"/>
<line x1="124.40" y1="51.30" x2="208.20" y2="51.30" stroke="#a2b4e6" stroke-width="1.3" />
<rect x="227.30" y="3.80" width="83.80" height="63.70" fill="none" stroke="#d2d2d2" stroke-width="0.6" />
<line x1="225.90" y1="64.80" x2="227.30" y2="64.80" stroke="#999" stroke-width="0.45" />
<text x="224.40" y="64.80" font-size="4.1" text-anchor="end" dominant-baseline="central" fill="#333" stroke="#333" stroke-width="0.03" >0</text>
<line x1="225.90" y1="52.74" x2="227.30" y2="52.74" stroke="#999" stroke-width="0.45" />
<text x="224.40" y="52.74" font-size="4.1" text-anchor="end" dominant-baseline="central" fill="#333" stroke="#333" stroke-width="0.03" >250</text>
<line x1="225.90" y1="40.68" x2="227.30" y2="40.68" stroke="#999" stroke-width="0.45" />
<text x="224.40" y="40.68" font-size="4.1" text-anchor="end" dominant-baseline="central" fill="#333" stroke="#333" stroke-width="0.03" >500</text>
<line x1="225.90" y1="28.62" x2="227.30" y2="28.62" stroke="#999" stroke-width="0.45" />
<text x="224.40" y="28.62" font-size="4.1" text-anchor="end" dominant-baseline="central" fill="#333" stroke="#333" stroke-width="0.03" >750</text>
<line x1="225.90" y1="16.56" x2="227.30" y2="16.56" stroke="#999" stroke-width="0.45" />
<text x="224.40" y="16.56" font-size="4.1" text-anchor="end" dominant-baseline="central" fill="#333" stroke="#333" stroke-width="0.03" >1,000</text>
<line x1="225.90" y1="4.50" x2="227.30" y2="4.50" stroke="#999" stroke-width="0.45" />
<text x="224.40" y="4.50" font-size="4.1" text-anchor="end" dominant-baseline="central" fill="#333" stroke="#333" stroke-width="0.03" >1,250</text>
<line x1="231.30" y1="67.50" x2="231.30" y2="68.80" stroke="#999" stroke-width="0.45" />
<text x="231.30" y="72.70" font-size="4.1" text-anchor="middle" dominant-baseline="central" fill="#333" stroke="#333" stroke-width="0.03" >-50</text>
<line x1="256.00" y1="67.50" x2="256.00" y2="68.80" stroke="#999" stroke-width="0.45" />
<text x="256.00" y="72.70" font-size="4.1" text-anchor="middle" dominant-baseline="central" fill="#333" stroke="#333" stroke-width="0.03" >-25</text>
<line x1="280.60" y1="67.50" x2="280.60" y2="68.80" stroke="#999" stroke-width="0.45" />
<text x="280.60" y="72.70" font-size="4.1" text-anchor="middle" dominant-baseline="central" fill="#333" stroke="#333" stroke-width="0.03" >0</text>
<line x1="305.30" y1="67.50" x2="305.30" y2="68.80" stroke="#999" stroke-width="0.45" />
<text x="305.30" y="72.70" font-size="4.1" text-anchor="middle" dominant-baseline="central" fill="#333" stroke="#333" stroke-width="0.03" >25</text>
<text x="269.20" y="78.70" font-size="4.1" text-anchor="middle" dominant-baseline="central" fill="#222" stroke="#222" stroke-width="0.03" >PC3</text>
<path d="M282.8 56.3h0.95v0.95h-0.95zM285.5 55.2h0.95v0.95h-0.95zM235.7 57.3h0.95v0.95h-0.95zM285.5 56.3h0.95v0.95h-0.95zM280.4 46.3h0.95v0.95h-0.95zM271.2 49.7h0.95v0.95h-0.95zM308.2 56.4h0.95v0.95h-0.95zM280.0 62.7h0.95v0.95h-0.95zM285.5 59.9h0.95v0.95h-0.95zM274.6 56.4h0.95v0.95h-0.95zM306.4 61.0h0.95v0.95h-0.95zM260.8 55.6h0.95v0.95h-0.95zM261.1 59.0h0.95v0.95h-0.95zM266.4 50.8h0.95v0.95h-0.95zM306.3 39.4h0.95v0.95h-0.95zM280.7 54.0h0.95v0.95h-0.95zM282.9 62.1h0.95v0.95h-0.95zM290.3 46.0h0.95v0.95h-0.95zM261.3 56.4h0.95v0.95h-0.95zM267.6 61.5h0.95v0.95h-0.95zM266.1 36.9h0.95v0.95h-0.95zM267.8 49.7h0.95v0.95h-0.95zM271.6 54.9h0.95v0.95h-0.95zM249.0 39.2h0.95v0.95h-0.95zM282.9 44.3h0.95v0.95h-0.95zM252.0 55.1h0.95v0.95h-0.95zM285.0 60.2h0.95v0.95h-0.95zM268.2 45.3h0.95v0.95h-0.95zM248.9 53.7h0.95v0.95h-0.95zM306.6 53.7h0.95v0.95h-0.95zM231.9 55.6h0.95v0.95h-0.95zM280.4 60.4h0.95v0.95h-0.95zM306.2 62.5h0.95v0.95h-0.95zM285.6 59.7h0.95v0.95h-0.95zM306.6 61.0h0.95v0.95h-0.95zM280.5 47.2h0.95v0.95h-0.95zM266.3 52.3h0.95v0.95h-0.95zM307.9 45.8h0.95v0.95h-0.95zM306.2 49.8h0.95v0.95h-0.95zM231.8 54.8h0.95v0.95h-0.95zM274.4 57.6h0.95v0.95h-0.95zM276.5 59.8h0.95v0.95h-0.95zM231.8 35.3h0.95v0.95h-0.95zM280.8 44.7h0.95v0.95h-0.95zM282.3 56.7h0.95v0.95h-0.95zM308.3 52.3h0.95v0.95h-0.95zM308.5 52.5h0.95v0.95h-0.95zM308.1 50.8h0.95v0.95h-0.95zM274.5 61.9h0.95v0.95h-0.95zM306.5 60.5h0.95v0.95h-0.95zM297.6 46.5h0.95v0.95h-0.95zM284.9 43.5h0.95v0.95h-0.95zM232.1 36.5h0.95v0.95h-0.95zM274.3 49.2h0.95v0.95h-0.95zM307.8 32.0h0.95v0.95h-0.95zM285.0 52.3h0.95v0.95h-0.95zM231.8 53.5h0.95v0.95h-0.95zM284.8 62.8h0.95v0.95h-0.95zM232.1 43.9h0.95v0.95h-0.95zM285.5 46.0h0.95v0.95h-0.95zM285.1 60.8h0.95v0.95h-0.95zM232.2 44.3h0.95v0.95h-0.95zM306.1 36.0h0.95v0.95h-0.95zM280.7 62.2h0.95v0.95h-0.95zM307.8 55.7h0.95v0.95h-0.95zM282.8 51.5h0.95v0.95h-0.95zM266.3 49.8h0.95v0.95h-0.95zM231.6 57.3h0.95v0.95h-0.95zM285.2 48.4h0.95v0.95h-0.95zM285.0 54.0h0.95v0.95h-0.95zM285.3 46.6h0.95v0.95h-0.95zM282.8 57.2h0.95v0.95h-0.95zM297.6 40.8h0.95v0.95h-0.95zM235.9 52.4h0.95v0.95h-0.95zM308.4 63.8h0.95v0.95h-0.95zM282.7 44.2h0.95v0.95h-0.95zM280.4 61.6h0.95v0.95h-0.95zM285.0 58.9h0.95v0.95h-0.95zM282.4 46.9h0.95v0.95h-0.95zM306.3 55.7h0.95v0.95h-0.95zM261.1 59.3h0.95v0.95h-0.95zM257.3 63.6h0.95v0.95h-0.95zM306.7 62.5h0.95v0.95h-0.95zM231.7 54.5h0.95v0.95h-0.95zM306.0 51.0h0.95v0.95h-0.95zM282.8 48.6h0.95v0.95h-0.95zM280.2 53.0h0.95v0.95h-0.95zM306.4 50.8h0.95v0.95h-0.95zM290.7 51.2h0.95v0.95h-0.95zM306.6 32.0h0.95v0.95h-0.95zM280.6 46.9h0.95v0.95h-0.95zM282.8 53.6h0.95v0.95h-0.95zM306.7 56.2h0.95v0.95h-0.95zM308.0 42.5h0.95v0.95h-0.95zM235.8 50.0h0.95v0.95h-0.95zM306.1 52.9h0.95v0.95h-0.95zM280.1 61.9h0.95v0.95h-0.95zM285.7 59.1h0.95v0.95h-0.95zM257.1 39.7h0.95v0.95h-0.95zM252.0 55.3h0.95v0.95h-0.95zM285.1 50.6h0.95v0.95h-0.95zM236.1 52.0h0.95v0.95h-0.95zM271.6 59.9h0.95v0.95h-0.95zM267.9 57.1h0.95v0.95h-0.95zM280.6 61.9h0.95v0.95h-0.95zM308.5 47.9h0.95v0.95h-0.95zM282.5 57.4h0.95v0.95h-0.95zM231.6 53.3h0.95v0.95h-0.95zM271.3 53.7h0.95v0.95h-0.95zM282.7 32.6h0.95v0.95h-0.95zM282.4 56.1h0.95v0.95h-0.95zM284.9 59.1h0.95v0.95h-0.95zM280.7 50.4h0.95v0.95h-0.95zM248.9 51.4h0.95v0.95h-0.95zM271.6 54.4h0.95v0.95h-0.95zM282.7 51.0h0.95v0.95h-0.95zM308.6 53.1h0.95v0.95h-0.95zM257.4 53.8h0.95v0.95h-0.95zM308.1 44.4h0.95v0.95h-0.95zM274.2 60.3h0.95v0.95h-0.95zM248.6 53.4h0.95v0.95h-0.95zM285.5 23.7h0.95v0.95h-0.95zM283.0 60.7h0.95v0.95h-0.95zM306.7 54.2h0.95v0.95h-0.95zM280.6 50.6h0.95v0.95h-0.95zM282.3 58.1h0.95v0.95h-0.95zM274.1 52.0h0.95v0.95h-0.95zM282.9 30.9h0.95v0.95h-0.95zM280.3 49.4h0.95v0.95h-0.95zM283.0 57.6h0.95v0.95h-0.95zM284.7 51.3h0.95v0.95h-0.95zM235.8 26.9h0.95v0.95h-0.95zM257.4 60.7h0.95v0.95h-0.95zM280.4 54.9h0.95v0.95h-0.95zM308.4 60.0h0.95v0.95h-0.95zM231.8 43.3h0.95v0.95h-0.95zM235.6 30.8h0.95v0.95h-0.95zM248.8 58.5h0.95v0.95h-0.95zM306.0 51.5h0.95v0.95h-0.95zM282.7 55.8h0.95v0.95h-0.95zM282.3 54.2h0.95v0.95h-0.95zM305.9 50.4h0.95v0.95h-0.95zM232.0 52.1h0.95v0.95h-0.95zM231.6 56.8h0.95v0.95h-0.95zM306.5 40.7h0.95v0.95h-0.95zM274.1 36.8h0.95v0.95h-0.95zM308.1 51.5h0.95v0.95h-0.95zM257.4 48.1h0.95v0.95h-0.95zM280.2 55.5h0.95v0.95h-0.95zM280.8 43.3h0.95v0.95h-0.95zM280.8 36.3h0.95v0.95h-0.95zM307.7 49.0h0.95v0.95h-0.95zM276.7 59.9h0.95v0.95h-0.95zM285.2 52.4h0.95v0.95h-0.95zM308.1 58.0h0.95v0.95h-0.95zM252.1 59.8h0.95v0.95h-0.95zM306.3 58.2h0.95v0.95h-0.95zM261.3 44.7h0.95v0.95h-0.95zM308.1 51.9h0.95v0.95h-0.95zM248.7 44.7h0.95v0.95h-0.95zM282.9 54.5h0.95v0.95h-0.95zM266.5 55.2h0.95v0.95h-0.95zM252.0 52.8h0.95v0.95h-0.95zM235.6 34.7h0.95v0.95h-0.95zM285.6 50.3h0.95v0.95h-0.95zM276.7 49.3h0.95v0.95h-0.95zM280.0 49.3h0.95v0.95h-0.95zM306.7 46.2h0.95v0.95h-0.95zM280.4 57.8h0.95v0.95h-0.95zM283.0 61.1h0.95v0.95h-0.95zM285.2 19.2h0.95v0.95h-0.95zM280.6 45.0h0.95v0.95h-0.95zM308.4 34.9h0.95v0.95h-0.95zM308.1 55.1h0.95v0.95h-0.95zM308.5 18.9h0.95v0.95h-0.95zM280.7 55.4h0.95v0.95h-0.95zM274.4 58.9h0.95v0.95h-0.95zM290.5 50.8h0.95v0.95h-0.95zM280.0 36.5h0.95v0.95h-0.95zM280.0 48.0h0.95v0.95h-0.95zM231.8 51.8h0.95v0.95h-0.95zM280.1 55.0h0.95v0.95h-0.95zM252.1 54.0h0.95v0.95h-0.95zM276.3 58.6h0.95v0.95h-0.95zM282.9 60.9h0.95v0.95h-0.95zM261.3 58.1h0.95v0.95h-0.95zM248.8 59.0h0.95v0.95h-0.95zM282.5 62.8h0.95v0.95h-0.95zM290.4 52.7h0.95v0.95h-0.95zM285.6 33.0h0.95v0.95h-0.95zM280.0 61.0h0.95v0.95h-0.95zM280.3 54.9h0.95v0.95h-0.95zM308.0 51.6h0.95v0.95h-0.95zM308.5 42.3h0.95v0.95h-0.95zM306.2 59.2h0.95v0.95h-0.95zM308.5 49.4h0.95v0.95h-0.95zM280.4 48.6h0.95v0.95h-0.95zM280.7 57.7h0.95v0.95h-0.95zM290.4 53.6h0.95v0.95h-0.95zM285.7 50.0h0.95v0.95h-0.95zM266.1 56.9h0.95v0.95h-0.95zM282.9 56.0h0.95v0.95h-0.95zM267.9 55.9h0.95v0.95h-0.95zM266.4 52.9h0.95v0.95h-0.95zM306.6 45.3h0.95v0.95h-0.95zM308.1 59.8h0.95v0.95h-0.95zM306.0 45.0h0.95v0.95h-0.95zM249.0 58.1h0.95v0.95h-0.95zM297.6 34.7h0.95v0.95h-0.95zM308.3 59.1h0.95v0.95h-0.95zM290.1 59.8h0.95v0.95h-0.95zM280.7 60.9h0.95v0.95h-0.95zM274.3 54.2h0.95v0.95h-0.95zM308.4 56.1h0.95v0.95h-0.95zM282.6 60.8h0.95v0.95h-0.95zM257.0 56.7h0.95v0.95h-0.95zM248.6 43.5h0.95v0.95h-0.95zM285.0 58.5h0.95v0.95h-0.95zM280.7 60.9h0.95v0.95h-0.95zM249.1 57.3h0.95v0.95h-0.95zM282.2 45.1h0.95v0.95h-0.95zM308.7 46.9h0.95v0.95h-0.95zM306.2 61.0h0.95v0.95h-0.95zM308.1 58.5h0.95v0.95h-0.95zM276.5 62.5h0.95v0.95h-0.95zM284.8 59.5h0.95v0.95h-0.95zM285.4 48.0h0.95v0.95h-0.95zM280.8 60.9h0.95v0.95h-0.95zM248.8 37.9h0.95v0.95h-0.95zM285.4 55.8h0.95v0.95h-0.95zM285.6 62.1h0.95v0.95h-0.95zM306.7 57.8h0.95v0.95h-0.95zM284.8 60.0h0.95v0.95h-0.95zM257.0 61.3h0.95v0.95h-0.95zM285.4 52.0h0.95v0.95h-0.95zM306.0 52.0h0.95v0.95h-0.95zM297.5 61.7h0.95v0.95h-0.95zM306.3 55.2h0.95v0.95h-0.95zM285.2 62.6h0.95v0.95h-0.95zM280.2 53.0h0.95v0.95h-0.95zM235.7 61.1h0.95v0.95h-0.95zM290.1 44.6h0.95v0.95h-0.95zM282.5 58.2h0.95v0.95h-0.95zM308.4 53.6h0.95v0.95h-0.95zM251.7 46.4h0.95v0.95h-0.95zM260.7 59.5h0.95v0.95h-0.95zM232.0 52.8h0.95v0.95h-0.95zM274.4 64.1h0.95v0.95h-0.95zM260.9 60.6h0.95v0.95h-0.95zM252.0 58.9h0.95v0.95h-0.95zM280.6 55.9h0.95v0.95h-0.95zM306.0 61.6h0.95v0.95h-0.95zM290.3 50.8h0.95v0.95h-0.95zM231.9 58.8h0.95v0.95h-0.95zM284.9 19.6h0.95v0.95h-0.95zM297.4 54.7h0.95v0.95h-0.95zM285.2 38.8h0.95v0.95h-0.95zM306.8 63.2h0.95v0.95h-0.95zM232.2 35.0h0.95v0.95h-0.95zM308.6 60.3h0.95v0.95h-0.95zM248.5 43.2h0.95v0.95h-0.95zM284.8 48.1h0.95v0.95h-0.95zM236.0 56.8h0.95v0.95h-0.95zM280.1 51.1h0.95v0.95h-0.95zM232.0 56.0h0.95v0.95h-0.95zM232.2 44.8h0.95v0.95h-0.95zM266.3 53.1h0.95v0.95h-0.95zM285.5 52.7h0.95v0.95h-0.95zM266.4 55.3h0.95v0.95h-0.95zM257.2 48.3h0.95v0.95h-0.95zM285.2 52.7h0.95v0.95h-0.95zM280.8 37.3h0.95v0.95h-0.95zM308.7 48.1h0.95v0.95h-0.95zM248.9 43.6h0.95v0.95h-0.95zM285.4 53.4h0.95v0.95h-0.95zM308.0 57.1h0.95v0.95h-0.95zM282.9 37.4h0.95v0.95h-0.95zM283.0 57.6h0.95v0.95h-0.95zM232.0 43.9h0.95v0.95h-0.95zM306.5 40.8h0.95v0.95h-0.95zM260.8 55.9h0.95v0.95h-0.95zM285.2 46.2h0.95v0.95h-0.95zM251.9 59.2h0.95v0.95h-0.95zM252.0 50.0h0.95v0.95h-0.95zM308.7 55.1h0.95v0.95h-0.95zM284.7 46.8h0.95v0.95h-0.95zM251.9 55.6h0.95v0.95h-0.95zM290.5 46.1h0.95v0.95h-0.95zM252.0 61.5h0.95v0.95h-0.95zM274.2 46.5h0.95v0.95h-0.95zM268.0 55.5h0.95v0.95h-0.95zM267.9 35.8h0.95v0.95h-0.95zM308.4 35.1h0.95v0.95h-0.95zM280.1 33.8h0.95v0.95h-0.95zM251.7 43.7h0.95v0.95h-0.95zM248.9 40.5h0.95v0.95h-0.95zM285.0 47.3h0.95v0.95h-0.95zM280.4 54.7h0.95v0.95h-0.95zM308.4 51.9h0.95v0.95h-0.95zM280.7 53.8h0.95v0.95h-0.95zM285.5 38.4h0.95v0.95h-0.95zM306.2 42.9h0.95v0.95h-0.95zM307.7 57.7h0.95v0.95h-0.95zM305.9 46.5h0.95v0.95h-0.95zM285.5 49.7h0.95v0.95h-0.95zM305.9 61.4h0.95v0.95h-0.95zM308.4 55.5h0.95v0.95h-0.95zM306.2 51.3h0.95v0.95h-0.95zM290.6 57.0h0.95v0.95h-0.95zM248.6 63.6h0.95v0.95h-0.95zM284.8 52.7h0.95v0.95h-0.95z" fill="#000" fill-opacity="0.5"/>
<path d="M282.6 44.8h0.95v0.95h-0.95zM285.5 55.7h0.95v0.95h-0.95zM280.6 53.0h0.95v0.95h-0.95zM282.6 44.6h0.95v0.95h-0.95zM280.8 52.5h0.95v0.95h-0.95zM290.2 47.1h0.95v0.95h-0.95zM285.0 58.4h0.95v0.95h-0.95zM268.2 59.1h0.95v0.95h-0.95zM280.0 45.0h0.95v0.95h-0.95zM231.8 42.3h0.95v0.95h-0.95zM280.8 58.0h0.95v0.95h-0.95zM285.3 35.6h0.95v0.95h-0.95zM251.7 60.9h0.95v0.95h-0.95zM280.8 58.3h0.95v0.95h-0.95zM306.7 51.7h0.95v0.95h-0.95zM280.3 59.8h0.95v0.95h-0.95zM280.2 27.9h0.95v0.95h-0.95zM274.0 42.7h0.95v0.95h-0.95zM280.4 55.9h0.95v0.95h-0.95zM306.0 55.7h0.95v0.95h-0.95zM276.8 57.0h0.95v0.95h-0.95zM251.8 57.8h0.95v0.95h-0.95zM231.8 48.7h0.95v0.95h-0.95zM285.1 57.5h0.95v0.95h-0.95zM308.0 54.8h0.95v0.95h-0.95zM282.6 49.3h0.95v0.95h-0.95zM280.3 36.8h0.95v0.95h-0.95zM282.4 56.7h0.95v0.95h-0.95zM276.6 40.5h0.95v0.95h-0.95zM232.1 61.2h0.95v0.95h-0.95zM305.9 51.2h0.95v0.95h-0.95zM285.0 54.9h0.95v0.95h-0.95zM282.7 52.4h0.95v0.95h-0.95zM249.0 42.9h0.95v0.95h-0.95zM284.9 61.9h0.95v0.95h-0.95zM306.0 42.2h0.95v0.95h-0.95zM261.1 60.6h0.95v0.95h-0.95zM306.1 57.6h0.95v0.95h-0.95zM231.9 43.9h0.95v0.95h-0.95zM282.9 44.5h0.95v0.95h-0.95zM249.0 41.7h0.95v0.95h-0.95zM274.5 62.2h0.95v0.95h-0.95zM308.5 44.1h0.95v0.95h-0.95zM276.4 52.2h0.95v0.95h-0.95zM282.4 48.9h0.95v0.95h-0.95zM308.4 49.6h0.95v0.95h-0.95zM306.5 26.5h0.95v0.95h-0.95zM306.3 56.0h0.95v0.95h-0.95zM280.6 61.5h0.95v0.95h-0.95zM282.6 62.3h0.95v0.95h-0.95zM284.9 30.3h0.95v0.95h-0.95zM280.5 53.9h0.95v0.95h-0.95zM282.4 48.5h0.95v0.95h-0.95zM280.8 58.4h0.95v0.95h-0.95zM306.8 48.7h0.95v0.95h-0.95zM284.8 58.8h0.95v0.95h-0.95zM282.9 56.9h0.95v0.95h-0.95zM290.2 53.3h0.95v0.95h-0.95zM280.4 41.4h0.95v0.95h-0.95zM306.0 43.4h0.95v0.95h-0.95zM280.7 58.0h0.95v0.95h-0.95zM235.7 58.1h0.95v0.95h-0.95zM282.2 59.2h0.95v0.95h-0.95zM235.9 52.7h0.95v0.95h-0.95zM308.1 37.0h0.95v0.95h-0.95zM306.1 55.8h0.95v0.95h-0.95zM306.6 63.6h0.95v0.95h-0.95zM283.0 54.4h0.95v0.95h-0.95zM285.5 37.7h0.95v0.95h-0.95zM308.3 54.6h0.95v0.95h-0.95zM306.0 54.9h0.95v0.95h-0.95zM305.9 58.0h0.95v0.95h-0.95zM248.8 58.0h0.95v0.95h-0.95zM308.1 54.7h0.95v0.95h-0.95zM276.4 46.6h0.95v0.95h-0.95zM266.0 47.9h0.95v0.95h-0.95zM285.2 34.3h0.95v0.95h-0.95zM271.2 56.1h0.95v0.95h-0.95zM267.7 41.7h0.95v0.95h-0.95zM306.7 56.4h0.95v0.95h-0.95zM280.0 48.8h0.95v0.95h-0.95zM284.8 53.3h0.95v0.95h-0.95zM282.7 39.5h0.95v0.95h-0.95zM308.2 50.7h0.95v0.95h-0.95zM249.1 60.1h0.95v0.95h-0.95zM306.3 57.4h0.95v0.95h-0.95zM285.4 47.3h0.95v0.95h-0.95zM236.0 52.9h0.95v0.95h-0.95zM282.4 55.0h0.95v0.95h-0.95zM280.6 43.4h0.95v0.95h-0.95zM261.0 45.7h0.95v0.95h-0.95zM280.2 61.3h0.95v0.95h-0.95zM285.3 58.5h0.95v0.95h-0.95zM280.4 61.7h0.95v0.95h-0.95zM306.0 62.6h0.95v0.95h-0.95zM231.6 48.2h0.95v0.95h-0.95zM282.2 60.7h0.95v0.95h-0.95zM235.9 47.3h0.95v0.95h-0.95zM308.1 29.7h0.95v0.95h-0.95zM257.4 53.5h0.95v0.95h-0.95zM307.8 48.7h0.95v0.95h-0.95zM285.1 21.8h0.95v0.95h-0.95zM284.9 50.9h0.95v0.95h-0.95zM307.9 53.0h0.95v0.95h-0.95zM306.7 60.3h0.95v0.95h-0.95zM306.3 48.5h0.95v0.95h-0.95zM235.7 53.7h0.95v0.95h-0.95zM280.3 52.9h0.95v0.95h-0.95zM308.4 40.7h0.95v0.95h-0.95zM280.6 54.7h0.95v0.95h-0.95zM282.2 57.5h0.95v0.95h-0.95zM285.4 60.2h0.95v0.95h-0.95zM285.2 46.8h0.95v0.95h-0.95zM284.9 40.7h0.95v0.95h-0.95zM248.9 56.8h0.95v0.95h-0.95zM280.2 52.1h0.95v0.95h-0.95zM290.2 45.6h0.95v0.95h-0.95zM282.3 43.3h0.95v0.95h-0.95zM232.1 62.4h0.95v0.95h-0.95zM280.1 46.0h0.95v0.95h-0.95zM282.9 61.6h0.95v0.95h-0.95zM231.6 30.1h0.95v0.95h-0.95zM308.2 51.1h0.95v0.95h-0.95zM266.4 59.4h0.95v0.95h-0.95zM308.3 55.9h0.95v0.95h-0.95zM285.5 58.9h0.95v0.95h-0.95zM235.8 58.4h0.95v0.95h-0.95zM306.8 39.6h0.95v0.95h-0.95zM274.5 62.2h0.95v0.95h-0.95zM276.6 23.1h0.95v0.95h-0.95zM231.9 51.7h0.95v0.95h-0.95zM231.6 62.7h0.95v0.95h-0.95zM251.8 56.1h0.95v0.95h-0.95zM307.9 61.0h0.95v0.95h-0.95zM290.2 53.9h0.95v0.95h-0.95zM280.3 55.1h0.95v0.95h-0.95zM306.6 51.8h0.95v0.95h-0.95zM235.5 55.8h0.95v0.95h-0.95zM248.9 48.2h0.95v0.95h-0.95zM248.6 52.5h0.95v0.95h-0.95zM282.4 59.0h0.95v0.95h-0.95zM307.7 45.8h0.95v0.95h-0.95zM280.2 57.5h0.95v0.95h-0.95zM284.8 63.7h0.95v0.95h-0.95zM251.8 54.6h0.95v0.95h-0.95zM261.3 55.5h0.95v0.95h-0.95zM308.4 59.8h0.95v0.95h-0.95zM307.9 53.8h0.95v0.95h-0.95zM274.3 40.7h0.95v0.95h-0.95zM232.0 51.0h0.95v0.95h-0.95zM280.8 60.4h0.95v0.95h-0.95zM306.3 60.1h0.95v0.95h-0.95zM266.0 51.3h0.95v0.95h-0.95zM267.9 58.9h0.95v0.95h-0.95zM280.4 53.6h0.95v0.95h-0.95zM252.0 46.3h0.95v0.95h-0.95zM282.9 45.4h0.95v0.95h-0.95zM235.7 50.7h0.95v0.95h-0.95zM306.4 56.2h0.95v0.95h-0.95zM285.1 61.7h0.95v0.95h-0.95zM297.4 31.7h0.95v0.95h-0.95zM280.2 63.0h0.95v0.95h-0.95zM260.8 56.7h0.95v0.95h-0.95zM306.0 63.0h0.95v0.95h-0.95zM285.7 61.3h0.95v0.95h-0.95zM308.3 40.8h0.95v0.95h-0.95zM282.6 49.7h0.95v0.95h-0.95zM306.2 53.9h0.95v0.95h-0.95zM306.6 56.2h0.95v0.95h-0.95zM261.2 59.0h0.95v0.95h-0.95zM285.5 27.9h0.95v0.95h-0.95zM308.5 44.2h0.95v0.95h-0.95zM306.2 48.5h0.95v0.95h-0.95zM252.1 47.5h0.95v0.95h-0.95zM306.2 47.8h0.95v0.95h-0.95zM285.1 53.7h0.95v0.95h-0.95zM305.9 54.2h0.95v0.95h-0.95zM282.4 61.5h0.95v0.95h-0.95zM280.3 57.6h0.95v0.95h-0.95zM280.6 61.4h0.95v0.95h-0.95zM308.2 51.5h0.95v0.95h-0.95zM257.2 58.9h0.95v0.95h-0.95zM251.8 50.2h0.95v0.95h-0.95zM280.2 33.9h0.95v0.95h-0.95zM232.0 44.2h0.95v0.95h-0.95zM306.4 47.6h0.95v0.95h-0.95zM248.7 59.8h0.95v0.95h-0.95zM285.4 55.9h0.95v0.95h-0.95zM235.5 28.6h0.95v0.95h-0.95zM267.9 55.5h0.95v0.95h-0.95zM308.6 25.6h0.95v0.95h-0.95zM280.1 52.1h0.95v0.95h-0.95zM285.4 48.7h0.95v0.95h-0.95zM306.7 52.1h0.95v0.95h-0.95zM306.0 48.5h0.95v0.95h-0.95zM306.8 59.2h0.95v0.95h-0.95zM257.1 55.1h0.95v0.95h-0.95zM284.7 59.2h0.95v0.95h-0.95zM252.2 53.1h0.95v0.95h-0.95zM261.1 59.0h0.95v0.95h-0.95zM276.8 63.0h0.95v0.95h-0.95zM284.7 60.5h0.95v0.95h-0.95zM306.7 56.3h0.95v0.95h-0.95zM231.6 48.5h0.95v0.95h-0.95zM280.8 58.7h0.95v0.95h-0.95zM283.0 44.4h0.95v0.95h-0.95zM308.2 52.8h0.95v0.95h-0.95zM236.0 54.8h0.95v0.95h-0.95zM282.9 42.6h0.95v0.95h-0.95zM282.8 59.3h0.95v0.95h-0.95zM280.4 54.4h0.95v0.95h-0.95zM280.7 45.3h0.95v0.95h-0.95zM290.7 57.0h0.95v0.95h-0.95zM251.9 57.9h0.95v0.95h-0.95zM283.0 53.2h0.95v0.95h-0.95zM285.3 18.8h0.95v0.95h-0.95zM282.2 58.6h0.95v0.95h-0.95zM266.0 47.5h0.95v0.95h-0.95zM232.1 43.2h0.95v0.95h-0.95zM280.3 50.9h0.95v0.95h-0.95zM285.2 54.8h0.95v0.95h-0.95zM290.7 61.5h0.95v0.95h-0.95zM282.4 30.6h0.95v0.95h-0.95zM280.4 59.4h0.95v0.95h-0.95zM235.6 54.3h0.95v0.95h-0.95zM274.2 59.1h0.95v0.95h-0.95zM285.4 30.7h0.95v0.95h-0.95zM280.1 62.7h0.95v0.95h-0.95zM285.5 52.6h0.95v0.95h-0.95zM284.8 56.8h0.95v0.95h-0.95zM306.1 59.3h0.95v0.95h-0.95zM285.1 49.9h0.95v0.95h-0.95zM306.2 50.8h0.95v0.95h-0.95zM285.4 29.6h0.95v0.95h-0.95zM308.4 41.5h0.95v0.95h-0.95zM306.5 55.3h0.95v0.95h-0.95zM282.5 37.2h0.95v0.95h-0.95zM256.9 58.6h0.95v0.95h-0.95zM256.9 56.4h0.95v0.95h-0.95zM285.2 55.0h0.95v0.95h-0.95zM235.7 51.2h0.95v0.95h-0.95zM285.5 36.4h0.95v0.95h-0.95zM306.6 51.6h0.95v0.95h-0.95zM280.3 54.6h0.95v0.95h-0.95zM274.1 57.3h0.95v0.95h-0.95zM256.9 54.5h0.95v0.95h-0.95zM305.9 42.1h0.95v0.95h-0.95zM280.7 56.6h0.95v0.95h-0.95zM235.7 40.9h0.95v0.95h-0.95zM306.0 46.6h0.95v0.95h-0.95zM290.5 58.4h0.95v0.95h-0.95zM232.1 47.4h0.95v0.95h-0.95zM306.3 53.3h0.95v0.95h-0.95zM290.1 52.9h0.95v0.95h-0.95zM290.6 57.4h0.95v0.95h-0.95zM306.7 56.0h0.95v0.95h-0.95zM308.7 44.2h0.95v0.95h-0.95zM280.0 44.9h0.95v0.95h-0.95zM252.0 48.6h0.95v0.95h-0.95zM252.2 60.9h0.95v0.95h-0.95zM307.9 55.8h0.95v0.95h-0.95zM308.6 25.0h0.95v0.95h-0.95zM282.4 47.2h0.95v0.95h-0.95zM305.9 61.3h0.95v0.95h-0.95zM306.7 32.0h0.95v0.95h-0.95zM249.0 51.6h0.95v0.95h-0.95zM290.3 52.5h0.95v0.95h-0.95zM266.0 47.2h0.95v0.95h-0.95zM308.4 57.0h0.95v0.95h-0.95zM306.7 46.1h0.95v0.95h-0.95zM285.4 46.8h0.95v0.95h-0.95zM280.7 32.2h0.95v0.95h-0.95zM282.2 55.8h0.95v0.95h-0.95zM290.2 59.6h0.95v0.95h-0.95zM280.2 46.4h0.95v0.95h-0.95zM307.9 55.1h0.95v0.95h-0.95zM280.8 54.0h0.95v0.95h-0.95zM307.8 44.4h0.95v0.95h-0.95zM306.5 47.4h0.95v0.95h-0.95zM282.4 41.7h0.95v0.95h-0.95zM280.0 51.0h0.95v0.95h-0.95zM306.6 42.0h0.95v0.95h-0.95zM306.6 52.7h0.95v0.95h-0.95zM236.1 56.5h0.95v0.95h-0.95zM252.0 42.4h0.95v0.95h-0.95zM305.9 60.0h0.95v0.95h-0.95zM306.7 54.0h0.95v0.95h-0.95zM308.7 25.6h0.95v0.95h-0.95zM285.1 47.9h0.95v0.95h-0.95zM285.4 57.6h0.95v0.95h-0.95zM235.5 45.3h0.95v0.95h-0.95zM251.6 56.8h0.95v0.95h-0.95zM276.4 48.1h0.95v0.95h-0.95zM261.3 57.4h0.95v0.95h-0.95zM305.9 57.2h0.95v0.95h-0.95zM280.5 51.0h0.95v0.95h-0.95zM285.2 57.1h0.95v0.95h-0.95zM306.4 63.6h0.95v0.95h-0.95zM306.0 36.5h0.95v0.95h-0.95zM280.0 33.4h0.95v0.95h-0.95zM267.8 64.3h0.95v0.95h-0.95zM266.4 59.1h0.95v0.95h-0.95zM282.5 56.3h0.95v0.95h-0.95zM285.3 60.1h0.95v0.95h-0.95zM308.1 61.4h0.95v0.95h-0.95zM235.8 55.9h0.95v0.95h-0.95zM268.2 59.0h0.95v0.95h-0.95zM285.2 51.6h0.95v0.95h-0.95zM306.8 51.9h0.95v0.95h-0.95zM280.6 52.4h0.95v0.95h-0.95z" fill="#000" fill-opacity="0.5"/>
<path d="M285.3 43.4h0.95v0.95h-0.95zM276.4 46.1h0.95v0.95h-0.95zM280.2 38.8h0.95v0.95h-0.95zM308.0 39.9h0.95v0.95h-0.95zM306.3 51.2h0.95v0.95h-0.95zM257.0 61.1h0.95v0.95h-0.95zM306.6 37.3h0.95v0.95h-0.95zM282.4 62.1h0.95v0.95h-0.95zM308.4 57.7h0.95v0.95h-0.95zM260.8 54.9h0.95v0.95h-0.95zM285.5 54.5h0.95v0.95h-0.95zM282.9 45.4h0.95v0.95h-0.95zM231.7 60.2h0.95v0.95h-0.95zM305.9 56.5h0.95v0.95h-0.95zM297.5 47.6h0.95v0.95h-0.95zM285.5 53.3h0.95v0.95h-0.95zM280.1 44.7h0.95v0.95h-0.95zM285.0 37.9h0.95v0.95h-0.95zM267.8 54.2h0.95v0.95h-0.95zM308.2 62.3h0.95v0.95h-0.95zM284.8 58.2h0.95v0.95h-0.95zM306.0 48.1h0.95v0.95h-0.95zM274.1 56.1h0.95v0.95h-0.95zM280.1 39.4h0.95v0.95h-0.95zM271.4 49.4h0.95v0.95h-0.95zM308.5 57.6h0.95v0.95h-0.95zM307.8 47.4h0.95v0.95h-0.95zM280.4 54.1h0.95v0.95h-0.95zM280.5 51.5h0.95v0.95h-0.95zM285.1 50.3h0.95v0.95h-0.95zM306.7 53.1h0.95v0.95h-0.95zM282.7 63.2h0.95v0.95h-0.95zM232.1 61.9h0.95v0.95h-0.95zM308.3 18.9h0.95v0.95h-0.95zM308.6 49.8h0.95v0.95h-0.95zM306.0 56.5h0.95v0.95h-0.95zM280.1 45.9h0.95v0.95h-0.95zM285.1 52.9h0.95v0.95h-0.95zM280.6 61.5h0.95v0.95h-0.95zM231.9 44.5h0.95v0.95h-0.95zM285.3 44.0h0.95v0.95h-0.95zM283.0 38.1h0.95v0.95h-0.95zM305.9 25.7h0.95v0.95h-0.95zM280.1 47.8h0.95v0.95h-0.95zM306.0 49.5h0.95v0.95h-0.95zM280.2 58.4h0.95v0.95h-0.95zM306.7 45.5h0.95v0.95h-0.95zM282.6 42.3h0.95v0.95h-0.95zM257.1 50.8h0.95v0.95h-0.95zM280.1 59.0h0.95v0.95h-0.95zM285.7 51.5h0.95v0.95h-0.95zM306.6 51.9h0.95v0.95h-0.95zM283.0 46.5h0.95v0.95h-0.95zM231.7 52.1h0.95v0.95h-0.95zM284.8 50.5h0.95v0.95h-0.95zM306.1 40.2h0.95v0.95h-0.95zM285.0 29.3h0.95v0.95h-0.95zM306.1 53.6h0.95v0.95h-0.95zM236.0 38.9h0.95v0.95h-0.95zM268.0 59.8h0.95v0.95h-0.95zM308.1 39.9h0.95v0.95h-0.95zM248.8 58.1h0.95v0.95h-0.95zM231.9 59.7h0.95v0.95h-0.95zM305.9 43.4h0.95v0.95h-0.95zM231.8 47.5h0.95v0.95h-0.95zM280.5 38.1h0.95v0.95h-0.95zM306.4 52.1h0.95v0.95h-0.95zM280.1 54.6h0.95v0.95h-0.95zM284.7 56.9h0.95v0.95h-0.95zM232.0 46.8h0.95v0.95h-0.95zM306.7 24.7h0.95v0.95h-0.95zM235.6 40.7h0.95v0.95h-0.95zM280.7 53.4h0.95v0.95h-0.95zM248.5 54.2h0.95v0.95h-0.95zM231.6 51.2h0.95v0.95h-0.95zM280.7 51.2h0.95v0.95h-0.95zM280.4 48.9h0.95v0.95h-0.95zM249.0 50.6h0.95v0.95h-0.95zM248.9 53.0h0.95v0.95h-0.95zM231.8 63.9h0.95v0.95h-0.95zM235.7 55.8h0.95v0.95h-0.95zM285.3 62.3h0.95v0.95h-0.95zM282.3 47.7h0.95v0.95h-0.95zM282.7 58.1h0.95v0.95h-0.95zM282.9 44.8h0.95v0.95h-0.95zM305.9 52.9h0.95v0.95h-0.95zM284.7 32.0h0.95v0.95h-0.95zM306.0 45.0h0.95v0.95h-0.95zM282.8 50.7h0.95v0.95h-0.95zM235.6 56.3h0.95v0.95h-0.95zM306.1 59.5h0.95v0.95h-0.95zM307.9 54.3h0.95v0.95h-0.95zM284.9 40.1h0.95v0.95h-0.95zM307.9 45.6h0.95v0.95h-0.95zM306.3 58.1h0.95v0.95h-0.95zM248.5 55.8h0.95v0.95h-0.95zM285.2 32.9h0.95v0.95h-0.95zM306.1 54.2h0.95v0.95h-0.95zM251.7 53.6h0.95v0.95h-0.95zM282.7 51.8h0.95v0.95h-0.95zM282.4 59.3h0.95v0.95h-0.95zM308.1 19.8h0.95v0.95h-0.95zM284.8 59.0h0.95v0.95h-0.95zM231.9 61.9h0.95v0.95h-0.95zM267.7 45.6h0.95v0.95h-0.95zM265.9 39.3h0.95v0.95h-0.95zM306.3 36.3h0.95v0.95h-0.95zM307.9 51.3h0.95v0.95h-0.95zM268.2 59.6h0.95v0.95h-0.95zM305.8 63.6h0.95v0.95h-0.95zM257.2 48.3h0.95v0.95h-0.95zM282.6 55.0h0.95v0.95h-0.95zM285.5 46.4h0.95v0.95h-0.95zM276.8 62.6h0.95v0.95h-0.95zM285.6 61.9h0.95v0.95h-0.95zM260.9 52.1h0.95v0.95h-0.95zM251.8 44.4h0.95v0.95h-0.95zM282.5 50.7h0.95v0.95h-0.95zM257.2 56.7h0.95v0.95h-0.95zM282.7 46.4h0.95v0.95h-0.95zM290.3 52.5h0.95v0.95h-0.95zM276.7 59.6h0.95v0.95h-0.95zM285.0 59.9h0.95v0.95h-0.95zM251.9 49.8h0.95v0.95h-0.95zM305.8 50.0h0.95v0.95h-0.95zM251.9 58.2h0.95v0.95h-0.95zM271.2 48.5h0.95v0.95h-0.95zM282.4 33.0h0.95v0.95h-0.95zM260.9 37.7h0.95v0.95h-0.95zM306.1 52.3h0.95v0.95h-0.95zM235.8 50.4h0.95v0.95h-0.95zM282.3 45.4h0.95v0.95h-0.95zM235.6 56.0h0.95v0.95h-0.95zM284.8 28.6h0.95v0.95h-0.95zM274.1 57.2h0.95v0.95h-0.95zM248.6 47.6h0.95v0.95h-0.95zM306.6 47.7h0.95v0.95h-0.95zM280.5 56.5h0.95v0.95h-0.95zM248.6 57.3h0.95v0.95h-0.95zM280.6 61.7h0.95v0.95h-0.95zM285.7 56.8h0.95v0.95h-0.95zM285.1 55.6h0.95v0.95h-0.95zM274.2 60.4h0.95v0.95h-0.95zM285.6 56.7h0.95v0.95h-0.95zM308.4 52.5h0.95v0.95h-0.95zM297.2 58.2h0.95v0.95h-0.95zM308.6 57.1h0.95v0.95h-0.95zM285.6 44.5h0.95v0.95h-0.95zM232.2 50.6h0.95v0.95h-0.95zM276.9 52.7h0.95v0.95h-0.95zM282.4 34.0h0.95v0.95h-0.95zM306.4 40.9h0.95v0.95h-0.95zM282.4 37.1h0.95v0.95h-0.95zM276.6 36.6h0.95v0.95h-0.95zM306.5 42.8h0.95v0.95h-0.95zM305.9 55.7h0.95v0.95h-0.95zM285.1 52.4h0.95v0.95h-0.95zM267.7 62.5h0.95v0.95h-0.95zM271.4 51.9h0.95v0.95h-0.95zM285.6 61.8h0.95v0.95h-0.95zM280.7 49.0h0.95v0.95h-0.95zM232.0 52.9h0.95v0.95h-0.95zM260.8 61.6h0.95v0.95h-0.95zM280.0 52.5h0.95v0.95h-0.95zM266.5 54.9h0.95v0.95h-0.95zM271.2 60.2h0.95v0.95h-0.95zM308.3 58.2h0.95v0.95h-0.95zM249.0 57.4h0.95v0.95h-0.95zM306.7 34.1h0.95v0.95h-0.95zM282.4 45.2h0.95v0.95h-0.95zM276.7 55.9h0.95v0.95h-0.95zM308.1 40.8h0.95v0.95h-0.95zM308.6 31.6h0.95v0.95h-0.95zM306.5 58.2h0.95v0.95h-0.95zM257.2 59.7h0.95v0.95h-0.95zM257.3 53.2h0.95v0.95h-0.95zM282.5 26.4h0.95v0.95h-0.95zM257.5 51.6h0.95v0.95h-0.95zM261.1 42.7h0.95v0.95h-0.95zM268.1 51.6h0.95v0.95h-0.95zM285.3 63.8h0.95v0.95h-0.95zM274.1 55.1h0.95v0.95h-0.95zM297.5 51.2h0.95v0.95h-0.95zM280.8 50.4h0.95v0.95h-0.95zM280.5 51.9h0.95v0.95h-0.95zM280.3 57.2h0.95v0.95h-0.95zM284.7 42.8h0.95v0.95h-0.95zM248.9 56.0h0.95v0.95h-0.95zM306.7 51.4h0.95v0.95h-0.95zM231.9 45.7h0.95v0.95h-0.95zM308.1 59.6h0.95v0.95h-0.95zM231.9 50.7h0.95v0.95h-0.95zM284.9 62.0h0.95v0.95h-0.95zM290.5 58.5h0.95v0.95h-0.95zM306.4 60.1h0.95v0.95h-0.95zM305.9 62.1h0.95v0.95h-0.95zM308.3 47.9h0.95v0.95h-0.95zM285.3 30.8h0.95v0.95h-0.95zM285.1 58.2h0.95v0.95h-0.95zM282.5 62.1h0.95v0.95h-0.95zM307.7 63.0h0.95v0.95h-0.95zM308.2 49.0h0.95v0.95h-0.95zM282.9 38.5h0.95v0.95h-0.95zM251.9 63.5h0.95v0.95h-0.95zM306.4 44.2h0.95v0.95h-0.95zM306.7 61.9h0.95v0.95h-0.95zM308.0 49.8h0.95v0.95h-0.95zM307.7 47.6h0.95v0.95h-0.95zM306.7 40.0h0.95v0.95h-0.95zM271.2 50.1h0.95v0.95h-0.95zM284.9 57.6h0.95v0.95h-0.95zM257.2 45.4h0.95v0.95h-0.95zM274.4 42.5h0.95v0.95h-0.95zM282.7 52.9h0.95v0.95h-0.95zM306.0 61.5h0.95v0.95h-0.95zM280.3 57.4h0.95v0.95h-0.95zM235.8 40.6h0.95v0.95h-0.95zM305.9 47.3h0.95v0.95h-0.95zM308.3 62.8h0.95v0.95h-0.95zM284.8 60.8h0.95v0.95h-0.95zM282.7 59.5h0.95v0.95h-0.95zM260.9 57.7h0.95v0.95h-0.95zM285.7 38.0h0.95v0.95h-0.95zM284.7 50.9h0.95v0.95h-0.95zM290.4 47.2h0.95v0.95h-0.95zM308.5 47.4h0.95v0.95h-0.95zM285.2 55.4h0.95v0.95h-0.95zM231.8 58.7h0.95v0.95h-0.95zM285.3 51.1h0.95v0.95h-0.95zM257.0 60.9h0.95v0.95h-0.95zM306.4 38.9h0.95v0.95h-0.95zM280.2 30.8h0.95v0.95h-0.95zM308.6 29.0h0.95v0.95h-0.95zM276.3 41.5h0.95v0.95h-0.95zM248.7 47.5h0.95v0.95h-0.95zM285.1 57.1h0.95v0.95h-0.95zM280.1 45.0h0.95v0.95h-0.95zM280.7 56.7h0.95v0.95h-0.95zM232.1 59.1h0.95v0.95h-0.95zM261.2 62.4h0.95v0.95h-0.95zM280.0 45.4h0.95v0.95h-0.95zM251.8 56.3h0.95v0.95h-0.95zM266.1 50.9h0.95v0.95h-0.95zM282.4 57.7h0.95v0.95h-0.95zM282.9 57.1h0.95v0.95h-0.95zM285.1 59.5h0.95v0.95h-0.95zM280.6 55.9h0.95v0.95h-0.95zM282.3 45.8h0.95v0.95h-0.95zM280.4 60.9h0.95v0.95h-0.95zM274.2 52.2h0.95v0.95h-0.95zM280.3 54.7h0.95v0.95h-0.95zM306.1 40.1h0.95v0.95h-0.95zM261.1 52.4h0.95v0.95h-0.95zM280.8 57.4h0.95v0.95h-0.95zM307.9 55.6h0.95v0.95h-0.95zM280.8 49.6h0.95v0.95h-0.95zM232.1 44.1h0.95v0.95h-0.95zM261.0 54.7h0.95v0.95h-0.95zM236.1 61.1h0.95v0.95h-0.95zM307.8 56.1h0.95v0.95h-0.95zM306.8 63.2h0.95v0.95h-0.95zM306.6 41.3h0.95v0.95h-0.95zM232.0 59.4h0.95v0.95h-0.95zM306.3 50.8h0.95v0.95h-0.95zM285.6 51.1h0.95v0.95h-0.95zM297.6 55.6h0.95v0.95h-0.95zM290.6 47.6h0.95v0.95h-0.95zM280.7 57.3h0.95v0.95h-0.95zM274.2 46.4h0.95v0.95h-0.95zM306.5 57.2h0.95v0.95h-0.95zM266.2 43.2h0.95v0.95h-0.95zM308.6 52.3h0.95v0.95h-0.95zM290.5 58.5h0.95v0.95h-0.95zM280.1 47.2h0.95v0.95h-0.95zM280.3 58.7h0.95v0.95h-0.95zM282.3 62.1h0.95v0.95h-0.95zM306.4 54.7h0.95v0.95h-0.95zM257.3 59.3h0.95v0.95h-0.95zM285.1 33.1h0.95v0.95h-0.95zM308.3 57.6h0.95v0.95h-0.95zM235.8 47.8h0.95v0.95h-0.95zM308.5 40.3h0.95v0.95h-0.95zM290.4 59.7h0.95v0.95h-0.95zM276.3 49.7h0.95v0.95h-0.95zM248.7 56.4h0.95v0.95h-0.95zM282.2 56.1h0.95v0.95h-0.95zM306.0 53.5h0.95v0.95h-0.95zM306.6 48.4h0.95v0.95h-0.95zM297.6 48.1h0.95v0.95h-0.95zM308.1 60.6h0.95v0.95h-0.95zM285.6 25.7h0.95v0.95h-0.95zM308.4 57.4h0.95v0.95h-0.95zM257.3 53.5h0.95v0.95h-0.95zM283.0 46.1h0.95v0.95h-0.95zM307.9 43.3h0.95v0.95h-0.95zM285.2 54.8h0.95v0.95h-0.95zM236.1 43.0h0.95v0.95h-0.95zM308.0 47.5h0.95v0.95h-0.95zM282.6 54.0h0.95v0.95h-0.95zM280.0 38.9h0.95v0.95h-0.95zM306.6 39.5h0.95v0.95h-0.95zM305.9 45.3h0.95v0.95h-0.95zM308.1 51.5h0.95v0.95h-0.95zM276.6 57.5h0.95v0.95h-0.95zM274.4 60.0h0.95v0.95h-0.95zM267.6 48.7h0.95v0.95h-0.95zM284.8 42.6h0.95v0.95h-0.95zM285.3 51.8h0.95v0.95h-0.95zM308.0 49.9h0.95v0.95h-0.95zM282.6 39.7h0.95v0.95h-0.95z" fill="#000" fill-opacity="0.5"/>
<path d="M282.5 62.9h0.95v0.95h-0.95zM282.8 46.9h0.95v0.95h-0.95zM285.1 40.1h0.95v0.95h-0.95zM282.9 43.2h0.95v0.95h-0.95zM257.2 50.2h0.95v0.95h-0.95zM235.9 44.5h0.95v0.95h-0.95zM307.8 62.2h0.95v0.95h-0.95zM308.0 34.8h0.95v0.95h-0.95zM308.0 52.6h0.95v0.95h-0.95zM306.0 59.9h0.95v0.95h-0.95zM305.9 58.5h0.95v0.95h-0.95zM268.2 53.1h0.95v0.95h-0.95zM308.6 53.4h0.95v0.95h-0.95zM282.7 44.5h0.95v0.95h-0.95zM266.1 49.5h0.95v0.95h-0.95zM306.4 54.6h0.95v0.95h-0.95zM308.1 50.3h0.95v0.95h-0.95zM285.1 36.2h0.95v0.95h-0.95zM282.3 56.2h0.95v0.95h-0.95zM267.9 43.2h0.95v0.95h-0.95zM284.7 39.2h0.95v0.95h-0.95zM261.0 52.2h0.95v0.95h-0.95zM280.0 56.3h0.95v0.95h-0.95zM260.9 54.2h0.95v0.95h-0.95zM308.6 43.8h0.95v0.95h-0.95zM283.0 44.2h0.95v0.95h-0.95zM306.7 38.4h0.95v0.95h-0.95zM235.8 54.0h0.95v0.95h-0.95zM235.7 54.2h0.95v0.95h-0.95zM306.6 49.0h0.95v0.95h-0.95zM306.2 58.5h0.95v0.95h-0.95zM265.9 54.4h0.95v0.95h-0.95zM285.7 42.0h0.95v0.95h-0.95zM268.1 54.3h0.95v0.95h-0.95zM251.7 51.0h0.95v0.95h-0.95zM282.9 60.0h0.95v0.95h-0.95zM276.4 54.5h0.95v0.95h-0.95zM280.6 30.5h0.95v0.95h-0.95zM297.6 62.6h0.95v0.95h-0.95zM251.9 54.1h0.95v0.95h-0.95zM280.4 32.2h0.95v0.95h-0.95zM249.0 53.8h0.95v0.95h-0.95zM274.4 47.7h0.95v0.95h-0.95zM248.7 56.2h0.95v0.95h-0.95zM284.7 37.1h0.95v0.95h-0.95zM248.8 49.2h0.95v0.95h-0.95zM280.4 53.2h0.95v0.95h-0.95zM308.4 55.3h0.95v0.95h-0.95zM285.1 44.0h0.95v0.95h-0.95zM285.5 55.3h0.95v0.95h-0.95zM290.5 48.4h0.95v0.95h-0.95zM271.5 57.1h0.95v0.95h-0.95zM231.8 53.9h0.95v0.95h-0.95zM308.2 53.5h0.95v0.95h-0.95zM280.3 42.3h0.95v0.95h-0.95zM285.3 29.2h0.95v0.95h-0.95zM249.0 41.8h0.95v0.95h-0.95zM280.2 41.4h0.95v0.95h-0.95zM231.7 39.1h0.95v0.95h-0.95zM261.2 40.6h0.95v0.95h-0.95zM308.3 49.7h0.95v0.95h-0.95zM306.0 59.0h0.95v0.95h-0.95zM249.1 36.3h0.95v0.95h-0.95zM308.0 50.1h0.95v0.95h-0.95zM280.1 54.0h0.95v0.95h-0.95zM282.2 55.2h0.95v0.95h-0.95zM280.3 55.5h0.95v0.95h-0.95zM284.8 46.2h0.95v0.95h-0.95zM280.7 27.6h0.95v0.95h-0.95zM248.7 53.6h0.95v0.95h-0.95zM280.8 52.8h0.95v0.95h-0.95zM280.6 50.8h0.95v0.95h-0.95zM261.1 56.6h0.95v0.95h-0.95zM232.1 48.6h0.95v0.95h-0.95zM290.5 59.4h0.95v0.95h-0.95zM280.6 50.8h0.95v0.95h-0.95zM285.2 50.0h0.95v0.95h-0.95zM282.5 59.0h0.95v0.95h-0.95zM308.7 60.9h0.95v0.95h-0.95zM231.8 55.4h0.95v0.95h-0.95zM285.6 50.4h0.95v0.95h-0.95zM306.6 46.3h0.95v0.95h-0.95zM308.2 59.6h0.95v0.95h-0.95zM266.2 41.8h0.95v0.95h-0.95zM231.8 51.8h0.95v0.95h-0.95zM266.3 57.0h0.95v0.95h-0.95zM280.1 62.5h0.95v0.95h-0.95zM284.9 50.7h0.95v0.95h-0.95zM235.7 32.4h0.95v0.95h-0.95zM251.6 61.6h0.95v0.95h-0.95zM274.3 51.6h0.95v0.95h-0.95zM285.2 51.6h0.95v0.95h-0.95zM285.7 47.8h0.95v0.95h-0.95zM261.3 51.3h0.95v0.95h-0.95zM285.0 27.0h0.95v0.95h-0.95zM280.1 57.4h0.95v0.95h-0.95zM308.4 44.1h0.95v0.95h-0.95zM266.4 57.5h0.95v0.95h-0.95zM251.8 53.3h0.95v0.95h-0.95zM282.3 54.4h0.95v0.95h-0.95zM280.8 55.3h0.95v0.95h-0.95zM282.6 56.8h0.95v0.95h-0.95zM248.6 62.5h0.95v0.95h-0.95zM261.1 55.7h0.95v0.95h-0.95zM306.7 35.1h0.95v0.95h-0.95zM261.0 50.3h0.95v0.95h-0.95zM305.9 45.7h0.95v0.95h-0.95zM285.2 54.0h0.95v0.95h-0.95zM306.4 53.0h0.95v0.95h-0.95zM231.7 61.3h0.95v0.95h-0.95zM283.0 50.8h0.95v0.95h-0.95zM232.1 34.5h0.95v0.95h-0.95zM231.6 49.0h0.95v0.95h-0.95zM284.9 50.5h0.95v0.95h-0.95zM280.1 42.4h0.95v0.95h-0.95zM274.2 50.4h0.95v0.95h-0.95zM285.3 56.7h0.95v0.95h-0.95zM251.8 43.9h0.95v0.95h-0.95zM280.4 59.5h0.95v0.95h-0.95zM282.2 50.0h0.95v0.95h-0.95zM276.4 44.4h0.95v0.95h-0.95zM257.2 55.0h0.95v0.95h-0.95zM285.1 60.1h0.95v0.95h-0.95zM280.6 60.8h0.95v0.95h-0.95zM282.3 51.0h0.95v0.95h-0.95zM285.3 44.5h0.95v0.95h-0.95zM282.3 52.7h0.95v0.95h-0.95zM231.8 51.4h0.95v0.95h-0.95zM236.0 60.1h0.95v0.95h-0.95zM231.7 27.3h0.95v0.95h-0.95zM249.0 59.2h0.95v0.95h-0.95zM308.2 55.8h0.95v0.95h-0.95zM282.6 50.1h0.95v0.95h-0.95zM261.0 53.0h0.95v0.95h-0.95zM285.4 15.2h0.95v0.95h-0.95zM271.4 62.7h0.95v0.95h-0.95zM235.6 63.7h0.95v0.95h-0.95zM276.7 48.4h0.95v0.95h-0.95zM266.1 41.5h0.95v0.95h-0.95zM306.8 57.7h0.95v0.95h-0.95zM248.8 55.8h0.95v0.95h-0.95zM271.4 25.4h0.95v0.95h-0.95zM284.9 61.7h0.95v0.95h-0.95zM282.8 59.1h0.95v0.95h-0.95zM285.0 48.9h0.95v0.95h-0.95zM280.7 52.9h0.95v0.95h-0.95zM266.3 34.1h0.95v0.95h-0.95zM231.6 27.4h0.95v0.95h-0.95zM306.2 48.6h0.95v0.95h-0.95zM266.2 39.5h0.95v0.95h-0.95zM306.0 52.8h0.95v0.95h-0.95zM282.8 55.1h0.95v0.95h-0.95zM308.0 54.7h0.95v0.95h-0.95zM285.5 51.5h0.95v0.95h-0.95zM231.6 63.0h0.95v0.95h-0.95zM235.7 51.3h0.95v0.95h-0.95zM261.1 63.3h0.95v0.95h-0.95zM306.8 41.6h0.95v0.95h-0.95zM256.9 51.6h0.95v0.95h-0.95zM306.2 58.1h0.95v0.95h-0.95zM280.5 45.0h0.95v0.95h-0.95zM306.6 38.4h0.95v0.95h-0.95zM276.4 36.5h0.95v0.95h-0.95zM308.1 35.5h0.95v0.95h-0.95zM284.8 34.6h0.95v0.95h-0.95zM232.2 49.5h0.95v0.95h-0.95zM249.0 57.5h0.95v0.95h-0.95zM282.8 49.2h0.95v0.95h-0.95zM257.2 53.5h0.95v0.95h-0.95zM284.9 44.8h0.95v0.95h-0.95zM284.9 46.5h0.95v0.95h-0.95zM261.2 46.9h0.95v0.95h-0.95zM282.4 45.8h0.95v0.95h-0.95zM282.8 59.9h0.95v0.95h-0.95zM308.1 48.4h0.95v0.95h-0.95zM280.3 44.6h0.95v0.95h-0.95zM248.8 48.5h0.95v0.95h-0.95zM274.1 56.7h0.95v0.95h-0.95zM266.2 47.7h0.95v0.95h-0.95zM306.5 48.2h0.95v0.95h-0.95zM306.0 53.9h0.95v0.95h-0.95zM305.9 52.0h0.95v0.95h-0.95zM282.7 61.6h0.95v0.95h-0.95zM282.8 43.7h0.95v0.95h-0.95zM282.7 47.6h0.95v0.95h-0.95zM306.1 47.3h0.95v0.95h-0.95zM282.7 48.7h0.95v0.95h-0.95zM257.1 56.4h0.95v0.95h-0.95zM268.0 53.9h0.95v0.95h-0.95zM308.2 22.2h0.95v0.95h-0.95zM235.7 34.3h0.95v0.95h-0.95zM231.8 19.9h0.95v0.95h-0.95zM266.2 28.2h0.95v0.95h-0.95zM257.2 50.3h0.95v0.95h-0.95zM308.1 48.7h0.95v0.95h-0.95zM235.8 59.9h0.95v0.95h-0.95zM252.0 56.5h0.95v0.95h-0.95zM285.7 49.3h0.95v0.95h-0.95zM282.3 49.3h0.95v0.95h-0.95zM256.9 58.3h0.95v0.95h-0.95zM308.1 61.2h0.95v0.95h-0.95zM236.1 48.5h0.95v0.95h-0.95zM306.5 60.3h0.95v0.95h-0.95zM307.8 61.2h0.95v0.95h-0.95zM280.5 48.8h0.95v0.95h-0.95zM285.3 41.6h0.95v0.95h-0.95zM305.9 49.8h0.95v0.95h-0.95zM290.5 60.8h0.95v0.95h-0.95zM268.2 55.2h0.95v0.95h-0.95zM285.0 56.1h0.95v0.95h-0.95zM276.5 43.3h0.95v0.95h-0.95zM285.0 47.8h0.95v0.95h-0.95zM305.9 36.1h0.95v0.95h-0.95zM308.6 59.4h0.95v0.95h-0.95zM274.5 46.2h0.95v0.95h-0.95zM308.2 57.5h0.95v0.95h-0.95zM231.8 53.7h0.95v0.95h-0.95zM231.8 44.8h0.95v0.95h-0.95zM285.6 47.0h0.95v0.95h-0.95zM307.9 50.7h0.95v0.95h-0.95zM285.6 64.1h0.95v0.95h-0.95zM268.2 41.7h0.95v0.95h-0.95zM283.0 31.2h0.95v0.95h-0.95zM306.3 57.6h0.95v0.95h-0.95zM285.4 61.7h0.95v0.95h-0.95zM257.2 57.6h0.95v0.95h-0.95zM280.7 54.2h0.95v0.95h-0.95zM267.9 57.7h0.95v0.95h-0.95zM290.7 53.8h0.95v0.95h-0.95zM285.5 31.6h0.95v0.95h-0.95zM280.0 56.1h0.95v0.95h-0.95zM235.7 44.3h0.95v0.95h-0.95zM235.6 42.6h0.95v0.95h-0.95zM308.2 32.0h0.95v0.95h-0.95zM276.9 60.6h0.95v0.95h-0.95zM306.4 38.8h0.95v0.95h-0.95zM282.4 39.3h0.95v0.95h-0.95zM248.9 57.4h0.95v0.95h-0.95zM282.2 33.1h0.95v0.95h-0.95zM236.1 51.3h0.95v0.95h-0.95zM285.3 37.7h0.95v0.95h-0.95zM280.8 42.0h0.95v0.95h-0.95zM282.8 60.4h0.95v0.95h-0.95zM308.4 44.4h0.95v0.95h-0.95zM276.3 34.2h0.95v0.95h-0.95zM284.7 60.4h0.95v0.95h-0.95zM276.5 58.6h0.95v0.95h-0.95zM257.2 41.9h0.95v0.95h-0.95zM235.5 62.8h0.95v0.95h-0.95zM251.9 46.9h0.95v0.95h-0.95zM274.1 63.9h0.95v0.95h-0.95zM285.3 40.9h0.95v0.95h-0.95zM276.7 53.9h0.95v0.95h-0.95zM257.3 58.2h0.95v0.95h-0.95zM260.9 38.0h0.95v0.95h-0.95zM280.3 44.5h0.95v0.95h-0.95zM284.8 51.8h0.95v0.95h-0.95zM261.2 60.8h0.95v0.95h-0.95zM306.0 55.2h0.95v0.95h-0.95zM306.0 21.8h0.95v0.95h-0.95zM261.1 62.2h0.95v0.95h-0.95zM282.6 43.4h0.95v0.95h-0.95zM308.0 58.4h0.95v0.95h-0.95zM282.8 56.5h0.95v0.95h-0.95zM274.3 56.7h0.95v0.95h-0.95zM274.1 59.5h0.95v0.95h-0.95zM282.7 59.9h0.95v0.95h-0.95zM261.1 41.2h0.95v0.95h-0.95zM282.6 59.9h0.95v0.95h-0.95zM232.2 39.5h0.95v0.95h-0.95zM280.3 47.5h0.95v0.95h-0.95zM280.7 55.3h0.95v0.95h-0.95zM306.0 51.3h0.95v0.95h-0.95zM282.4 28.3h0.95v0.95h-0.95zM308.7 56.0h0.95v0.95h-0.95zM283.0 60.3h0.95v0.95h-0.95zM265.9 37.9h0.95v0.95h-0.95zM280.6 62.2h0.95v0.95h-0.95zM280.3 57.0h0.95v0.95h-0.95zM282.4 55.1h0.95v0.95h-0.95zM271.4 30.5h0.95v0.95h-0.95zM274.2 60.3h0.95v0.95h-0.95zM251.7 58.5h0.95v0.95h-0.95zM280.0 46.7h0.95v0.95h-0.95zM261.3 53.7h0.95v0.95h-0.95zM305.9 40.9h0.95v0.95h-0.95zM306.1 45.3h0.95v0.95h-0.95zM260.8 55.3h0.95v0.95h-0.95zM308.5 41.3h0.95v0.95h-0.95zM235.7 36.3h0.95v0.95h-0.95zM306.0 55.5h0.95v0.95h-0.95zM280.3 60.0h0.95v0.95h-0.95zM282.3 47.1h0.95v0.95h-0.95zM290.2 61.9h0.95v0.95h-0.95zM257.1 61.7h0.95v0.95h-0.95zM266.5 56.8h0.95v0.95h-0.95zM283.0 57.5h0.95v0.95h-0.95zM235.6 56.8h0.95v0.95h-0.95zM280.2 34.4h0.95v0.95h-0.95zM280.6 60.7h0.95v0.95h-0.95zM248.5 63.9h0.95v0.95h-0.95zM290.6 61.5h0.95v0.95h-0.95zM280.8 50.4h0.95v0.95h-0.95zM261.0 42.3h0.95v0.95h-0.95zM285.6 50.8h0.95v0.95h-0.95zM232.1 35.7h0.95v0.95h-0.95zM308.6 56.8h0.95v0.95h-0.95zM280.0 60.4h0.95v0.95h-0.95zM285.3 41.1h0.95v0.95h-0.95zM308.3 60.8h0.95v0.95h-0.95z" fill="#000" fill-opacity="0.5"/>
<path d="M282.4 51.5h0.95v0.95h-0.95zM308.5 55.2h0.95v0.95h-0.95zM232.1 44.9h0.95v0.95h-0.95zM267.8 59.5h0.95v0.95h-0.95zM282.4 54.6h0.95v0.95h-0.95zM280.7 50.4h0.95v0.95h-0.95zM280.8 58.8h0.95v0.95h-0.95zM285.3 44.6h0.95v0.95h-0.95zM267.6 45.5h0.95v0.95h-0.95zM276.4 53.2h0.95v0.95h-0.95zM290.6 57.5h0.95v0.95h-0.95zM280.0 44.2h0.95v0.95h-0.95zM305.8 55.1h0.95v0.95h-0.95zM280.3 59.5h0.95v0.95h-0.95zM305.8 53.2h0.95v0.95h-0.95zM282.6 54.7h0.95v0.95h-0.95zM248.6 55.6h0.95v0.95h-0.95zM285.2 44.2h0.95v0.95h-0.95zM284.7 53.4h0.95v0.95h-0.95zM306.7 57.9h0.95v0.95h-0.95zM252.0 56.4h0.95v0.95h-0.95zM308.0 50.4h0.95v0.95h-0.95zM283.0 58.4h0.95v0.95h-0.95zM257.0 46.9h0.95v0.95h-0.95zM252.2 52.1h0.95v0.95h-0.95zM282.7 50.7h0.95v0.95h-0.95zM276.8 50.4h0.95v0.95h-0.95zM280.2 43.0h0.95v0.95h-0.95zM256.9 59.0h0.95v0.95h-0.95zM290.5 47.4h0.95v0.95h-0.95zM306.7 43.3h0.95v0.95h-0.95zM257.4 54.2h0.95v0.95h-0.95zM235.6 55.1h0.95v0.95h-0.95zM308.5 51.9h0.95v0.95h-0.95zM282.4 59.9h0.95v0.95h-0.95zM282.4 45.8h0.95v0.95h-0.95zM284.8 51.7h0.95v0.95h-0.95zM235.9 49.9h0.95v0.95h-0.95zM235.8 56.8h0.95v0.95h-0.95zM232.1 59.3h0.95v0.95h-0.95zM282.6 39.2h0.95v0.95h-0.95zM267.8 47.5h0.95v0.95h-0.95zM231.8 41.3h0.95v0.95h-0.95zM261.3 43.5h0.95v0.95h-0.95zM267.7 34.6h0.95v0.95h-0.95zM307.8 52.9h0.95v0.95h-0.95zM232.0 62.7h0.95v0.95h-0.95zM248.8 57.6h0.95v0.95h-0.95zM252.1 61.4h0.95v0.95h-0.95zM306.3 50.0h0.95v0.95h-0.95zM290.3 59.6h0.95v0.95h-0.95zM306.7 58.9h0.95v0.95h-0.95zM251.9 55.6h0.95v0.95h-0.95zM280.3 49.2h0.95v0.95h-0.95zM257.4 54.0h0.95v0.95h-0.95zM282.5 59.7h0.95v0.95h-0.95zM305.8 52.2h0.95v0.95h-0.95zM282.3 53.0h0.95v0.95h-0.95zM280.0 62.8h0.95v0.95h-0.95zM235.7 51.2h0.95v0.95h-0.95zM267.8 50.3h0.95v0.95h-0.95zM251.7 45.7h0.95v0.95h-0.95zM235.7 60.5h0.95v0.95h-0.95zM306.5 45.4h0.95v0.95h-0.95zM308.1 52.1h0.95v0.95h-0.95zM305.9 60.5h0.95v0.95h-0.95zM282.5 45.5h0.95v0.95h-0.95zM306.1 44.5h0.95v0.95h-0.95zM280.0 39.1h0.95v0.95h-0.95zM235.5 59.2h0.95v0.95h-0.95zM285.3 49.9h0.95v0.95h-0.95zM280.1 47.2h0.95v0.95h-0.95zM235.6 53.6h0.95v0.95h-0.95zM285.1 58.0h0.95v0.95h-0.95zM290.6 62.3h0.95v0.95h-0.95zM308.0 55.9h0.95v0.95h-0.95zM306.5 59.2h0.95v0.95h-0.95zM266.3 47.5h0.95v0.95h-0.95zM236.0 48.1h0.95v0.95h-0.95zM308.3 59.5h0.95v0.95h-0.95zM280.6 43.6h0.95v0.95h-0.95zM308.7 59.8h0.95v0.95h-0.95zM306.4 52.5h0.95v0.95h-0.95zM306.1 40.0h0.95v0.95h-0.95zM268.0 61.7h0.95v0.95h-0.95zM306.2 48.7h0.95v0.95h-0.95zM282.5 34.0h0.95v0.95h-0.95zM282.2 62.2h0.95v0.95h-0.95zM285.1 43.6h0.95v0.95h-0.95zM285.5 44.7h0.95v0.95h-0.95zM306.7 55.0h0.95v0.95h-0.95zM249.0 44.4h0.95v0.95h-0.95zM280.3 31.6h0.95v0.95h-0.95zM257.4 49.7h0.95v0.95h-0.95zM260.9 45.8h0.95v0.95h-0.95zM282.5 56.7h0.95v0.95h-0.95zM231.7 44.6h0.95v0.95h-0.95zM280.6 57.0h0.95v0.95h-0.95zM235.8 40.7h0.95v0.95h-0.95zM308.0 40.0h0.95v0.95h-0.95zM306.3 40.2h0.95v0.95h-0.95zM308.2 58.3h0.95v0.95h-0.95zM306.4 45.3h0.95v0.95h-0.95zM280.3 57.7h0.95v0.95h-0.95zM285.4 46.1h0.95v0.95h-0.95zM276.9 58.9h0.95v0.95h-0.95zM282.3 49.0h0.95v0.95h-0.95zM282.3 54.1h0.95v0.95h-0.95zM276.4 61.4h0.95v0.95h-0.95zM274.0 57.7h0.95v0.95h-0.95zM305.9 46.7h0.95v0.95h-0.95zM266.0 45.8h0.95v0.95h-0.95zM283.0 62.9h0.95v0.95h-0.95zM285.4 52.2h0.95v0.95h-0.95zM306.4 60.3h0.95v0.95h-0.95zM257.2 61.5h0.95v0.95h-0.95zM308.5 50.8h0.95v0.95h-0.95zM261.3 32.0h0.95v0.95h-0.95zM306.0 37.0h0.95v0.95h-0.95zM261.2 42.8h0.95v0.95h-0.95zM280.7 50.6h0.95v0.95h-0.95zM284.9 56.1h0.95v0.95h-0.95zM285.6 60.8h0.95v0.95h-0.95zM261.2 59.9h0.95v0.95h-0.95zM308.4 57.6h0.95v0.95h-0.95zM282.9 47.1h0.95v0.95h-0.95zM236.1 50.1h0.95v0.95h-0.95zM252.1 43.5h0.95v0.95h-0.95zM274.0 51.7h0.95v0.95h-0.95zM285.4 58.3h0.95v0.95h-0.95zM280.6 57.0h0.95v0.95h-0.95zM308.0 19.7h0.95v0.95h-0.95zM261.3 32.4h0.95v0.95h-0.95zM271.4 56.2h0.95v0.95h-0.95zM231.6 52.7h0.95v0.95h-0.95zM271.5 55.9h0.95v0.95h-0.95zM282.3 57.0h0.95v0.95h-0.95zM280.7 53.5h0.95v0.95h-0.95zM280.3 52.2h0.95v0.95h-0.95zM231.9 54.9h0.95v0.95h-0.95zM308.6 47.6h0.95v0.95h-0.95zM284.8 53.8h0.95v0.95h-0.95zM306.2 44.3h0.95v0.95h-0.95zM280.6 41.0h0.95v0.95h-0.95zM249.1 56.9h0.95v0.95h-0.95zM282.9 55.1h0.95v0.95h-0.95zM257.3 55.2h0.95v0.95h-0.95zM266.4 59.8h0.95v0.95h-0.95zM276.5 61.8h0.95v0.95h-0.95zM280.4 50.0h0.95v0.95h-0.95zM280.6 32.2h0.95v0.95h-0.95zM280.6 42.3h0.95v0.95h-0.95zM306.7 62.2h0.95v0.95h-0.95zM280.5 59.7h0.95v0.95h-0.95zM280.6 55.2h0.95v0.95h-0.95zM236.1 56.8h0.95v0.95h-0.95zM248.8 58.8h0.95v0.95h-0.95zM248.5 58.8h0.95v0.95h-0.95zM308.5 36.0h0.95v0.95h-0.95zM285.4 57.5h0.95v0.95h-0.95zM280.1 57.1h0.95v0.95h-0.95zM285.3 52.6h0.95v0.95h-0.95zM231.7 54.3h0.95v0.95h-0.95zM251.9 45.6h0.95v0.95h-0.95zM249.0 48.1h0.95v0.95h-0.95zM271.2 60.4h0.95v0.95h-0.95zM282.6 46.5h0.95v0.95h-0.95zM261.0 51.7h0.95v0.95h-0.95zM306.6 47.1h0.95v0.95h-0.95zM308.1 53.1h0.95v0.95h-0.95zM284.9 58.0h0.95v0.95h-0.95zM280.6 39.0h0.95v0.95h-0.95zM271.3 47.4h0.95v0.95h-0.95zM306.0 37.8h0.95v0.95h-0.95zM306.2 59.6h0.95v0.95h-0.95zM306.2 57.8h0.95v0.95h-0.95zM306.7 40.3h0.95v0.95h-0.95zM280.7 62.1h0.95v0.95h-0.95zM285.2 60.0h0.95v0.95h-0.95zM235.5 61.4h0.95v0.95h-0.95zM307.8 47.8h0.95v0.95h-0.95zM280.1 29.1h0.95v0.95h-0.95zM285.1 63.2h0.95v0.95h-0.95zM248.9 34.9h0.95v0.95h-0.95zM285.3 61.5h0.95v0.95h-0.95zM280.1 56.4h0.95v0.95h-0.95zM252.0 51.2h0.95v0.95h-0.95zM235.6 34.8h0.95v0.95h-0.95zM280.2 52.0h0.95v0.95h-0.95zM251.7 49.5h0.95v0.95h-0.95zM231.7 52.9h0.95v0.95h-0.95zM306.2 56.9h0.95v0.95h-0.95zM308.7 61.5h0.95v0.95h-0.95zM282.9 48.3h0.95v0.95h-0.95zM249.0 59.6h0.95v0.95h-0.95zM257.3 53.7h0.95v0.95h-0.95zM280.5 43.2h0.95v0.95h-0.95zM284.7 31.7h0.95v0.95h-0.95zM280.5 62.3h0.95v0.95h-0.95zM308.3 48.7h0.95v0.95h-0.95zM232.2 59.1h0.95v0.95h-0.95zM290.4 55.4h0.95v0.95h-0.95zM276.9 52.7h0.95v0.95h-0.95zM297.2 50.4h0.95v0.95h-0.95zM282.6 45.8h0.95v0.95h-0.95zM308.0 54.4h0.95v0.95h-0.95zM266.3 55.8h0.95v0.95h-0.95zM231.8 54.8h0.95v0.95h-0.95zM232.2 62.3h0.95v0.95h-0.95zM251.7 46.3h0.95v0.95h-0.95zM280.8 39.3h0.95v0.95h-0.95zM282.6 52.2h0.95v0.95h-0.95zM308.6 47.7h0.95v0.95h-0.95zM235.8 43.0h0.95v0.95h-0.95zM236.0 51.0h0.95v0.95h-0.95zM308.6 45.7h0.95v0.95h-0.95zM276.6 53.2h0.95v0.95h-0.95zM276.9 38.0h0.95v0.95h-0.95zM308.4 56.5h0.95v0.95h-0.95zM308.0 51.8h0.95v0.95h-0.95zM307.8 32.2h0.95v0.95h-0.95zM257.5 60.1h0.95v0.95h-0.95zM248.8 58.6h0.95v0.95h-0.95zM280.1 56.3h0.95v0.95h-0.95zM274.1 60.3h0.95v0.95h-0.95zM282.3 60.7h0.95v0.95h-0.95zM306.2 33.7h0.95v0.95h-0.95zM307.9 54.8h0.95v0.95h-0.95zM282.8 61.0h0.95v0.95h-0.95zM260.9 57.2h0.95v0.95h-0.95zM260.7 43.6h0.95v0.95h-0.95zM285.7 57.8h0.95v0.95h-0.95zM261.0 51.0h0.95v0.95h-0.95zM285.0 52.5h0.95v0.95h-0.95zM271.6 58.5h0.95v0.95h-0.95zM280.8 54.5h0.95v0.95h-0.95zM266.2 61.0h0.95v0.95h-0.95zM231.8 59.9h0.95v0.95h-0.95zM257.2 53.2h0.95v0.95h-0.95zM257.2 45.0h0.95v0.95h-0.95zM276.4 54.6h0.95v0.95h-0.95zM236.0 62.2h0.95v0.95h-0.95zM276.6 60.0h0.95v0.95h-0.95zM232.1 51.1h0.95v0.95h-0.95zM261.2 51.2h0.95v0.95h-0.95zM274.2 60.1h0.95v0.95h-0.95zM267.8 58.2h0.95v0.95h-0.95zM266.4 42.4h0.95v0.95h-0.95zM271.4 46.6h0.95v0.95h-0.95zM308.1 57.1h0.95v0.95h-0.95zM308.2 61.7h0.95v0.95h-0.95zM280.8 51.3h0.95v0.95h-0.95zM248.8 58.9h0.95v0.95h-0.95zM232.0 21.8h0.95v0.95h-0.95zM282.8 44.8h0.95v0.95h-0.95zM282.7 60.2h0.95v0.95h-0.95zM235.5 50.9h0.95v0.95h-0.95zM308.0 56.6h0.95v0.95h-0.95zM266.0 28.6h0.95v0.95h-0.95zM306.8 54.5h0.95v0.95h-0.95zM282.5 44.6h0.95v0.95h-0.95zM308.4 56.0h0.95v0.95h-0.95zM284.8 55.2h0.95v0.95h-0.95zM280.7 60.9h0.95v0.95h-0.95zM257.4 60.9h0.95v0.95h-0.95zM280.3 43.7h0.95v0.95h-0.95zM308.5 45.6h0.95v0.95h-0.95zM267.8 34.2h0.95v0.95h-0.95zM307.7 51.6h0.95v0.95h-0.95zM285.1 46.2h0.95v0.95h-0.95zM260.9 43.1h0.95v0.95h-0.95zM248.6 58.2h0.95v0.95h-0.95zM231.7 38.0h0.95v0.95h-0.95zM231.7 52.7h0.95v0.95h-0.95zM282.4 46.8h0.95v0.95h-0.95zM282.2 41.4h0.95v0.95h-0.95zM261.2 60.7h0.95v0.95h-0.95zM306.0 55.0h0.95v0.95h-0.95zM261.0 60.5h0.95v0.95h-0.95zM283.0 49.6h0.95v0.95h-0.95zM271.4 62.8h0.95v0.95h-0.95zM232.0 42.9h0.95v0.95h-0.95zM236.1 52.8h0.95v0.95h-0.95zM282.2 49.5h0.95v0.95h-0.95zM280.8 39.1h0.95v0.95h-0.95zM290.5 55.8h0.95v0.95h-0.95zM260.7 43.2h0.95v0.95h-0.95zM261.2 49.8h0.95v0.95h-0.95zM236.1 55.4h0.95v0.95h-0.95zM261.0 50.7h0.95v0.95h-0.95zM274.4 62.5h0.95v0.95h-0.95zM285.6 59.6h0.95v0.95h-0.95zM282.9 37.6h0.95v0.95h-0.95zM280.2 49.6h0.95v0.95h-0.95zM257.3 56.9h0.95v0.95h-0.95zM290.6 64.1h0.95v0.95h-0.95zM297.3 49.2h0.95v0.95h-0.95zM266.4 47.0h0.95v0.95h-0.95zM252.1 61.8h0.95v0.95h-0.95zM232.1 56.8h0.95v0.95h-0.95zM266.2 54.9h0.95v0.95h-0.95zM280.2 50.2h0.95v0.95h-0.95zM308.4 53.3h0.95v0.95h-0.95zM280.6 26.9h0.95v0.95h-0.95zM231.7 46.8h0.95v0.95h-0.95zM308.6 42.5h0.95v0.95h-0.95zM257.2 58.2h0.95v0.95h-0.95zM282.7 62.8h0.95v0.95h-0.95zM274.5 54.6h0.95v0.95h-0.95zM260.9 49.7h0.95v0.95h-0.95z" fill="#000" fill-opacity="0.5"/>
<line x1="227.60" y1="48.40" x2="310.80" y2="53.00" stroke="#a2b4e6" stroke-width="1.3" />
<text x="0.6" y="86.0" font-size="5" font-weight="bold" fill="#000" dominant-baseline="central">b</text>
<rect x="21.30" y="89.40" width="94.20" height="45.80" fill="none" stroke="#d2d2d2" stroke-width="0.6" />
<line x1="19.90" y1="133.50" x2="21.30" y2="133.50" stroke="#999" stroke-width="0.45" />
<text x="18.30" y="133.50" font-size="4.1" text-anchor="end" dominant-baseline="central" fill="#333" stroke="#333" stroke-width="0.03" >0</text>
<line x1="19.90" y1="124.84" x2="21.30" y2="124.84" stroke="#999" stroke-width="0.45" />
<text x="18.30" y="124.84" font-size="4.1" text-anchor="end" dominant-baseline="central" fill="#333" stroke="#333" stroke-width="0.03" >250</text>
<line x1="19.90" y1="116.18" x2="21.30" y2="116.18" stroke="#999" stroke-width="0.45" />
<text x="18.30" y="116.18" font-size="4.1" text-anchor="end" dominant-baseline="central" fill="#333" stroke="#333" stroke-width="0.03" >500</text>
<line x1="19.90" y1="107.52" x2="21.30" y2="107.52" stroke="#999" stroke-width="0.45" />
<text x="18.30" y="107.52" font-size="4.1" text-anchor="end" dominant-baseline="central" fill="#333" stroke="#333" stroke-width="0.03" >750</text>
<line x1="19.90" y1="98.86" x2="21.30" y2="98.86" stroke="#999" stroke-width="0.45" />
<text x="18.30" y="98.86" font-size="4.1" text-anchor="end" dominant-baseline="central" fill="#333" stroke="#333" stroke-width="0.03" >1,000</text>
<line x1="19.90" y1="90.20" x2="21.30" y2="90.20" stroke="#999" stroke-width="0.45" />
<text x="18.30" y="90.20" font-size="4.1" text-anchor="end" dominant-baseline="central" fill="#333" stroke="#333" stroke-width="0.03" >1,250</text>
<line x1="47.20" y1="114.41" x2="47.20" y2="121.10" stroke="#9a9a9a" stroke-width="0.5" />
<line x1="47.20" y1="127.61" x2="47.20" y2="133.50" stroke="#9a9a9a" stroke-width="0.5" />
<rect x="33.20" y="121.10" width="28.00" height="6.51" fill="#f2d9db" stroke="#dfbcc0" stroke-width="0.5" />
<line x1="33.20" y1="124.49" x2="61.20" y2="124.49" stroke="#c99ea3" stroke-width="0.75" />
<circle cx="47.2" cy="109.11" r="0.55" fill="#333"/>
<line x1="89.80" y1="117.39" x2="89.80" y2="122.69" stroke="#9a9a9a" stroke-width="0.5" />
<line x1="89.80" y1="127.61" x2="89.80" y2="133.50" stroke="#9a9a9a" stroke-width="0.5" />
<rect x="75.80" y="122.69" width="28.00" height="4.92" fill="#d5878c" stroke="#c27880" stroke-width="0.5" />
<line x1="75.80" y1="125.12" x2="103.80" y2="125.12" stroke="#a65a62" stroke-width="0.75" />
<circle cx="89.8" cy="114.41" r="0.55" fill="#333"/>
<path d="M47.2 98.40 V97.30 H89.8 V98.40" fill="none" stroke="#666" stroke-width="0.5"/>
<text x="68.00" y="95.00" font-size="3.6" text-anchor="middle" dominant-baseline="central" fill="#444" stroke="#444" stroke-width="0.02" >NS</text>
<text transform="translate(118.6,111.30) rotate(90)" font-size="4.0" text-anchor="middle" dominant-baseline="central" fill="#555" stroke="#555" stroke-width="0.05">20 °C</text>
<rect x="21.30" y="138.30" width="94.20" height="45.80" fill="none" stroke="#d2d2d2" stroke-width="0.6" />
<line x1="19.90" y1="182.40" x2="21.30" y2="182.40" stroke="#999" stroke-width="0.45" />
<text x="18.30" y="182.40" font-size="4.1" text-anchor="end" dominant-baseline="central" fill="#333" stroke="#333" stroke-width="0.03" >0</text>
<line x1="19.90" y1="173.74" x2="21.30" y2="173.74" stroke="#999" stroke-width="0.45" />
<text x="18.30" y="173.74" font-size="4.1" text-anchor="end" dominant-baseline="central" fill="#333" stroke="#333" stroke-width="0.03" >250</text>
<line x1="19.90" y1="165.08" x2="21.30" y2="165.08" stroke="#999" stroke-width="0.45" />
<text x="18.30" y="165.08" font-size="4.1" text-anchor="end" dominant-baseline="central" fill="#333" stroke="#333" stroke-width="0.03" >500</text>
<line x1="19.90" y1="156.42" x2="21.30" y2="156.42" stroke="#999" stroke-width="0.45" />
<text x="18.30" y="156.42" font-size="4.1" text-anchor="end" dominant-baseline="central" fill="#333" stroke="#333" stroke-width="0.03" >750</text>
<line x1="19.90" y1="147.76" x2="21.30" y2="147.76" stroke="#999" stroke-width="0.45" />
<text x="18.30" y="147.76" font-size="4.1" text-anchor="end" dominant-baseline="central" fill="#333" stroke="#333" stroke-width="0.03" >1,000</text>
<line x1="19.90" y1="139.10" x2="21.30" y2="139.10" stroke="#999" stroke-width="0.45" />
<text x="18.30" y="139.10" font-size="4.1" text-anchor="end" dominant-baseline="central" fill="#333" stroke="#333" stroke-width="0.03" >1,250</text>
<line x1="47.20" y1="146.79" x2="47.20" y2="160.09" stroke="#9a9a9a" stroke-width="0.5" />
<line x1="47.20" y1="170.21" x2="47.20" y2="181.71" stroke="#9a9a9a" stroke-width="0.5" />
<rect x="33.20" y="160.09" width="28.00" height="10.11" fill="#f2d9db" stroke="#dfbcc0" stroke-width="0.5" />
<line x1="33.20" y1="167.19" x2="61.20" y2="167.19" stroke="#c99ea3" stroke-width="0.75" />
<circle cx="47.2" cy="144.40" r="0.55" fill="#333"/>
<line x1="89.80" y1="152.40" x2="89.80" y2="162.20" stroke="#9a9a9a" stroke-width="0.5" />
<line x1="89.80" y1="170.21" x2="89.80" y2="178.49" stroke="#9a9a9a" stroke-width="0.5" />
<rect x="75.80" y="162.20" width="28.00" height="8.00" fill="#d5878c" stroke="#c27880" stroke-width="0.5" />
<line x1="75.80" y1="166.50" x2="103.80" y2="166.50" stroke="#a65a62" stroke-width="0.75" />
<circle cx="89.8" cy="144.71" r="0.55" fill="#333"/>
<circle cx="89.8" cy="147.00" r="0.55" fill="#333"/>
<circle cx="89.8" cy="149.91" r="0.55" fill="#333"/>
<path d="M47.2 143.50 V142.40 H89.8 V143.50" fill="none" stroke="#666" stroke-width="0.5"/>
<text x="68.00" y="141.00" font-size="3.6" text-anchor="middle" dominant-baseline="central" fill="#444" stroke="#444" stroke-width="0.02" >NS</text>
<text transform="translate(118.6,161.70) rotate(90)" font-size="4.0" text-anchor="middle" dominant-baseline="central" fill="#555" stroke="#555" stroke-width="0.05">24 °C</text>
<rect x="21.30" y="187.60" width="94.20" height="45.80" fill="none" stroke="#d2d2d2" stroke-width="0.6" />
<line x1="19.90" y1="231.70" x2="21.30" y2="231.70" stroke="#999" stroke-width="0.45" />
<text x="18.30" y="231.70" font-size="4.1" text-anchor="end" dominant-baseline="central" fill="#333" stroke="#333" stroke-width="0.03" >0</text>
<line x1="19.90" y1="223.04" x2="21.30" y2="223.04" stroke="#999" stroke-width="0.45" />
<text x="18.30" y="223.04" font-size="4.1" text-anchor="end" dominant-baseline="central" fill="#333" stroke="#333" stroke-width="0.03" >250</text>
<line x1="19.90" y1="214.38" x2="21.30" y2="214.38" stroke="#999" stroke-width="0.45" />
<text x="18.30" y="214.38" font-size="4.1" text-anchor="end" dominant-baseline="central" fill="#333" stroke="#333" stroke-width="0.03" >500</text>
<line x1="19.90" y1="205.72" x2="21.30" y2="205.72" stroke="#999" stroke-width="0.45" />
<text x="18.30" y="205.72" font-size="4.1" text-anchor="end" dominant-baseline="central" fill="#333" stroke="#333" stroke-width="0.03" >750</text>
<line x1="19.90" y1="197.06" x2="21.30" y2="197.06" stroke="#999" stroke-width="0.45" />
<text x="18.30" y="197.06" font-size="4.1" text-anchor="end" dominant-baseline="central" fill="#333" stroke="#333" stroke-width="0.03" >1,000</text>
<line x1="19.90" y1="188.40" x2="21.30" y2="188.40" stroke="#999" stroke-width="0.45" />
<text x="18.30" y="188.40" font-size="4.1" text-anchor="end" dominant-baseline="central" fill="#333" stroke="#333" stroke-width="0.03" >1,250</text>
<line x1="47.20" y1="204.51" x2="47.20" y2="220.79" stroke="#9a9a9a" stroke-width="0.5" />
<line x1="47.20" y1="228.51" x2="47.20" y2="231.70" stroke="#9a9a9a" stroke-width="0.5" />
<rect x="33.20" y="220.79" width="28.00" height="7.72" fill="#f2d9db" stroke="#dfbcc0" stroke-width="0.5" />
<line x1="33.20" y1="225.98" x2="61.20" y2="225.98" stroke="#c99ea3" stroke-width="0.75" />
<circle cx="47.2" cy="207.49" r="0.55" fill="#333"/>
<circle cx="47.2" cy="209.01" r="0.55" fill="#333"/>
<circle cx="47.2" cy="210.60" r="0.55" fill="#333"/>
<line x1="89.80" y1="203.81" x2="89.80" y2="214.59" stroke="#9a9a9a" stroke-width="0.5" />
<line x1="89.80" y1="226.61" x2="89.80" y2="230.59" stroke="#9a9a9a" stroke-width="0.5" />
<rect x="75.80" y="214.59" width="28.00" height="12.02" fill="#d5878c" stroke="#c27880" stroke-width="0.5" />
<line x1="75.80" y1="223.49" x2="103.80" y2="223.49" stroke="#a65a62" stroke-width="0.75" />
<path d="M47.2 193.10 V192.00 H89.8 V193.10" fill="none" stroke="#666" stroke-width="0.5"/>
<text x="68.00" y="191.10" font-size="3.6" text-anchor="middle" dominant-baseline="central" fill="#444" stroke="#444" stroke-width="0.02" >**</text>
<text transform="translate(118.6,210.90) rotate(90)" font-size="4.0" text-anchor="middle" dominant-baseline="central" fill="#555" stroke="#555" stroke-width="0.05">30 °C</text>
<text x="47.20" y="238.60" font-size="4.1" text-anchor="middle" dominant-baseline="central" fill="#333" stroke="#333" stroke-width="0.03" >0</text>
<text x="89.80" y="238.60" font-size="4.1" text-anchor="middle" dominant-baseline="central" fill="#333" stroke="#333" stroke-width="0.03" >1</text>
<text transform="translate(3.1,158.4) rotate(-90)" textLength="45" lengthAdjust="spacingAndGlyphs" font-size="4.3" text-anchor="middle" dominant-baseline="central" fill="#222" stroke="#222" stroke-width="0.06">Growth rate (×1,000 μs hr<tspan baseline-shift="super" font-size="2.6">−1</tspan>)</text>
<text x="68.50" y="244.50" font-size="3.9" text-anchor="middle" dominant-baseline="central" fill="#222" stroke="#222" stroke-width="0.03" >Introgression from CIJ</text>
<text x="127.4" y="86.9" font-size="5" font-weight="bold" fill="#000" dominant-baseline="central">c</text>
<line x1="141.90" y1="93.50" x2="141.90" y2="152.00" stroke="#c8c8c8" stroke-width="0.5" />
<line x1="141.90" y1="152.00" x2="218.60" y2="152.00" stroke="#c8c8c8" stroke-width="0.5" />
<line x1="140.60" y1="149.40" x2="141.90" y2="149.40" stroke="#999" stroke-width="0.45" />
<text x="138.90" y="149.40" font-size="4.1" text-anchor="end" dominant-baseline="central" fill="#333" stroke="#333" stroke-width="0.03" >10</text>
<line x1="140.60" y1="139.30" x2="141.90" y2="139.30" stroke="#999" stroke-width="0.45" />
<text x="138.90" y="139.30" font-size="4.1" text-anchor="end" dominant-baseline="central" fill="#333" stroke="#333" stroke-width="0.03" >15</text>
<line x1="140.60" y1="129.20" x2="141.90" y2="129.20" stroke="#999" stroke-width="0.45" />
<text x="138.90" y="129.20" font-size="4.1" text-anchor="end" dominant-baseline="central" fill="#333" stroke="#333" stroke-width="0.03" >20</text>
<line x1="140.60" y1="119.10" x2="141.90" y2="119.10" stroke="#999" stroke-width="0.45" />
<text x="138.90" y="119.10" font-size="4.1" text-anchor="end" dominant-baseline="central" fill="#333" stroke="#333" stroke-width="0.03" >25</text>
<line x1="140.60" y1="109.00" x2="141.90" y2="109.00" stroke="#999" stroke-width="0.45" />
<text x="138.90" y="109.00" font-size="4.1" text-anchor="end" dominant-baseline="central" fill="#333" stroke="#333" stroke-width="0.03" >30</text>
<line x1="140.60" y1="98.90" x2="141.90" y2="98.90" stroke="#999" stroke-width="0.45" />
<text x="138.90" y="98.90" font-size="4.1" text-anchor="end" dominant-baseline="central" fill="#333" stroke="#333" stroke-width="0.03" >35</text>
<line x1="164.40" y1="99.71" x2="164.40" y2="118.09" stroke="#b0b0b0" stroke-width="0.5" />
<line x1="164.40" y1="130.11" x2="164.40" y2="139.30" stroke="#b0b0b0" stroke-width="0.5" />
<rect x="150.40" y="118.09" width="28.00" height="12.02" fill="#f2d9db" stroke="#dfbcc0" stroke-width="0.5" />
<line x1="150.40" y1="122.33" x2="178.40" y2="122.33" stroke="#c99ea3" stroke-width="0.75" />
<line x1="164.40" y1="152.00" x2="164.40" y2="153.30" stroke="#999" stroke-width="0.45" />
<line x1="201.40" y1="114.66" x2="201.40" y2="118.09" stroke="#b0b0b0" stroke-width="0.5" />
<line x1="201.40" y1="125.77" x2="201.40" y2="129.60" stroke="#b0b0b0" stroke-width="0.5" />
<rect x="187.40" y="118.09" width="28.00" height="7.68" fill="#d5878c" stroke="#c27880" stroke-width="0.5" />
<line x1="187.40" y1="121.62" x2="215.40" y2="121.62" stroke="#a65a62" stroke-width="0.75" />
<circle cx="201.4" cy="105.36" r="0.45" fill="#555"/>
<line x1="201.40" y1="152.00" x2="201.40" y2="153.30" stroke="#999" stroke-width="0.45" />
<text x="164.40" y="157.20" font-size="4.1" text-anchor="middle" dominant-baseline="central" fill="#333" stroke="#333" stroke-width="0.03" >0</text>
<text x="201.40" y="157.20" font-size="4.1" text-anchor="middle" dominant-baseline="central" fill="#333" stroke="#333" stroke-width="0.03" >1</text>
<path d="M164.4 99.70 V98.60 H201.4 V99.70" fill="none" stroke="#666" stroke-width="0.5"/>
<text x="182.90" y="98.00" font-size="3.6" text-anchor="middle" dominant-baseline="central" fill="#444" stroke="#444" stroke-width="0.02" >*</text>
<text x="182.90" y="163.10" font-size="4.05" text-anchor="middle" dominant-baseline="central" fill="#222" stroke="#222" stroke-width="0.03" >Introgression on chromosome 1</text>
<line x1="232.80" y1="93.50" x2="232.80" y2="151.60" stroke="#c8c8c8" stroke-width="0.5" />
<line x1="232.80" y1="151.60" x2="309.50" y2="151.60" stroke="#c8c8c8" stroke-width="0.5" />
<line x1="231.50" y1="147.90" x2="232.80" y2="147.90" stroke="#999" stroke-width="0.45" />
<text x="229.80" y="147.90" font-size="4.1" text-anchor="end" dominant-baseline="central" fill="#333" stroke="#333" stroke-width="0.03" >10</text>
<line x1="231.50" y1="137.80" x2="232.80" y2="137.80" stroke="#999" stroke-width="0.45" />
<text x="229.80" y="137.80" font-size="4.1" text-anchor="end" dominant-baseline="central" fill="#333" stroke="#333" stroke-width="0.03" >15</text>
<line x1="231.50" y1="127.70" x2="232.80" y2="127.70" stroke="#999" stroke-width="0.45" />
<text x="229.80" y="127.70" font-size="4.1" text-anchor="end" dominant-baseline="central" fill="#333" stroke="#333" stroke-width="0.03" >20</text>
<line x1="231.50" y1="117.60" x2="232.80" y2="117.60" stroke="#999" stroke-width="0.45" />
<text x="229.80" y="117.60" font-size="4.1" text-anchor="end" dominant-baseline="central" fill="#333" stroke="#333" stroke-width="0.03" >25</text>
<line x1="231.50" y1="107.50" x2="232.80" y2="107.50" stroke="#999" stroke-width="0.45" />
<text x="229.80" y="107.50" font-size="4.1" text-anchor="end" dominant-baseline="central" fill="#333" stroke="#333" stroke-width="0.03" >30</text>
<line x1="231.50" y1="97.40" x2="232.80" y2="97.40" stroke="#999" stroke-width="0.45" />
<text x="229.80" y="97.40" font-size="4.1" text-anchor="end" dominant-baseline="central" fill="#333" stroke="#333" stroke-width="0.03" >35</text>
<line x1="255.00" y1="103.86" x2="255.00" y2="117.19" stroke="#b0b0b0" stroke-width="0.5" />
<line x1="255.00" y1="127.59" x2="255.00" y2="138.50" stroke="#b0b0b0" stroke-width="0.5" />
<rect x="241.00" y="117.19" width="28.00" height="10.40" fill="#f2d9db" stroke="#dfbcc0" stroke-width="0.5" />
<line x1="241.00" y1="121.43" x2="269.00" y2="121.43" stroke="#c99ea3" stroke-width="0.75" />
<circle cx="255.0" cy="100.02" r="0.45" fill="#555"/>
<line x1="255.00" y1="151.60" x2="255.00" y2="152.90" stroke="#999" stroke-width="0.45" />
<line x1="292.40" y1="114.16" x2="292.40" y2="124.26" stroke="#b0b0b0" stroke-width="0.5" />
<line x1="292.40" y1="135.98" x2="292.40" y2="137.39" stroke="#b0b0b0" stroke-width="0.5" />
<rect x="278.40" y="124.26" width="28.00" height="11.72" fill="#d5878c" stroke="#c27880" stroke-width="0.5" />
<line x1="278.40" y1="127.29" x2="306.40" y2="127.29" stroke="#a65a62" stroke-width="0.75" />
<line x1="292.40" y1="151.60" x2="292.40" y2="152.90" stroke="#999" stroke-width="0.45" />
<text x="255.00" y="157.20" font-size="4.1" text-anchor="middle" dominant-baseline="central" fill="#333" stroke="#333" stroke-width="0.03" >0</text>
<text x="292.40" y="157.20" font-size="4.1" text-anchor="middle" dominant-baseline="central" fill="#333" stroke="#333" stroke-width="0.03" >1</text>
<path d="M255.0 98.10 V97.00 H292.4 V98.10" fill="none" stroke="#666" stroke-width="0.5"/>
<text x="273.70" y="96.40" font-size="3.6" text-anchor="middle" dominant-baseline="central" fill="#444" stroke="#444" stroke-width="0.02" >****</text>
<text x="273.70" y="163.10" font-size="4.05" text-anchor="middle" dominant-baseline="central" fill="#222" stroke="#222" stroke-width="0.03" >Introgression on chromosome 8</text>
<text transform="translate(129.5,127.5) rotate(-90)" textLength="49" lengthAdjust="spacingAndGlyphs" font-size="4.2" text-anchor="middle" dominant-baseline="central" fill="#222" stroke="#222" stroke-width="0.06">Necrosis size on apple (mm)</text>
<text x="145.6" y="173.0" font-size="5" font-weight="bold" fill="#000" dominant-baseline="central">d</text>
<defs>
<linearGradient id="bg1" x1="0" y1="0" x2="0.3" y2="1"><stop offset="0" stop-color="#dfe0e0"/><stop offset="1" stop-color="#e9e5de"/></linearGradient>
<linearGradient id="bg2" x1="0" y1="0" x2="0" y2="1"><stop offset="0" stop-color="#dbdbd9"/><stop offset="1" stop-color="#d6d4ce"/></linearGradient>
<linearGradient id="ap1" x1="0" y1="0.4" x2="1" y2="0.2"><stop offset="0" stop-color="#f8cc42"/><stop offset="0.55" stop-color="#f5c23e"/><stop offset="1" stop-color="#eca43e"/></linearGradient>
<radialGradient id="ap2" cx="0.45" cy="0.45" r="0.8"><stop offset="0" stop-color="#f8d44a"/><stop offset="0.7" stop-color="#f3ca3c"/><stop offset="1" stop-color="#eab838"/></radialGradient>
<filter id="bl" x="-10%" y="-10%" width="120%" height="120%"><feGaussianBlur stdDeviation="0.35"/></filter>
</defs>
<rect x="152.7" y="173.9" width="61.4" height="60.0" fill="url(#bg1)"/>
<g filter="url(#bl)">
<path d="M186.4 184 C189 182.5 193 182 196.8 182.4 C199.5 183.3 202 186.5 203.2 191 C204.3 196 204.7 202 204.5 208 C204 213 202.5 219 198.5 223.5 C194 227 189 228 183.8 227.8 C179 227.8 175 226.5 171.5 223.5 C167.5 220 165 215 164.2 210 C163.4 204 163.4 197 164.5 193 C165.5 189 168 185 172 183.3 C176.5 181.8 182 182 186.4 184 Z" fill="url(#ap1)"/>
<path d="M188.5 178.8 L186.5 185.8" stroke="#3a2818" stroke-width="1.0"/>
<circle cx="187.0" cy="205.4" r="5.0" fill="#e89a38" opacity="0.6"/>
<circle cx="187.0" cy="205.4" r="4.0" fill="#2e3040"/>
<circle cx="187.0" cy="205.4" r="2.6" fill="#a8a27e"/>
<circle cx="187.2" cy="205.1" r="1.4" fill="#c8c298"/>
<text x="189.2" y="191.0" font-size="3.6" text-anchor="middle" dominant-baseline="central" fill="#3a2a18" stroke="#3a2a18" stroke-width="0.08" letter-spacing="0.1" transform="rotate(6 189.2 191)">YM 25</text>
<path d="M164.7 194 L164.3 208" stroke="#5a4848" stroke-width="0.7" stroke-dasharray="1.6 0.8"/>
<path d="M169.5 187.2 l1.2 -0.8" stroke="#6a5030" stroke-width="0.5"/>
<circle cx="197.4" cy="221.5" r="0.7" fill="#6a5030"/>
</g>
<rect x="234.2" y="173.9" width="61.0" height="60.0" fill="url(#bg2)"/>
<g filter="url(#bl)">
<path d="M268.2 182.8 C273 181 278.5 182 282 185.5 C285.5 189 287.3 196 287.4 203 C287.5 210 285 216.5 281 220.5 C276 225.5 268 227.8 260 227.6 C252 227.4 246 223 243 217 C240.8 211 240.5 203 240.8 197 C241.5 190 244 186 248 184.5 C253 181 262 180.5 268.2 182.8 Z" fill="url(#ap2)"/>
<path d="M269.8 178.6 L268.3 182.8" stroke="#2a2018" stroke-width="0.8"/>
<circle cx="266.8" cy="204.8" r="8.1" fill="#9a4a2a"/>
<circle cx="266.8" cy="204.8" r="5.4" fill="#7a3c20"/>
<circle cx="266.8" cy="204.8" r="4.4" fill="#2e2a26"/>
<circle cx="266.8" cy="204.8" r="3.3" fill="#6e7466"/>
<circle cx="267.2" cy="204.4" r="1.8" fill="#8a9080"/>
<text x="269.8" y="187.8" font-size="5.6" text-anchor="middle" dominant-baseline="central" fill="#2a2418" stroke="#2a2418" stroke-width="0.12" font-style="italic" transform="rotate(8 269.8 187.8)">VM</text>
<ellipse cx="283.2" cy="189.0" rx="0.6" ry="1.2" fill="#6a5a38" opacity="0.7"/>
<path d="M249.8 184.2 Q252.2 180.8 255.6 181.6 Q253.6 184.6 249.8 184.2Z" fill="#4a4028"/>
<ellipse cx="242.0" cy="200.5" rx="1.6" ry="6.0" fill="#5a4a5a"/>
<ellipse cx="242.2" cy="200.5" rx="1.0" ry="4.6" fill="#f0eaf0"/>
<ellipse cx="272.7" cy="223" rx="1.1" ry="0.8" fill="#4a3a20" transform="rotate(-30 272.7 223)"/>
</g>
</svg></body></html>
